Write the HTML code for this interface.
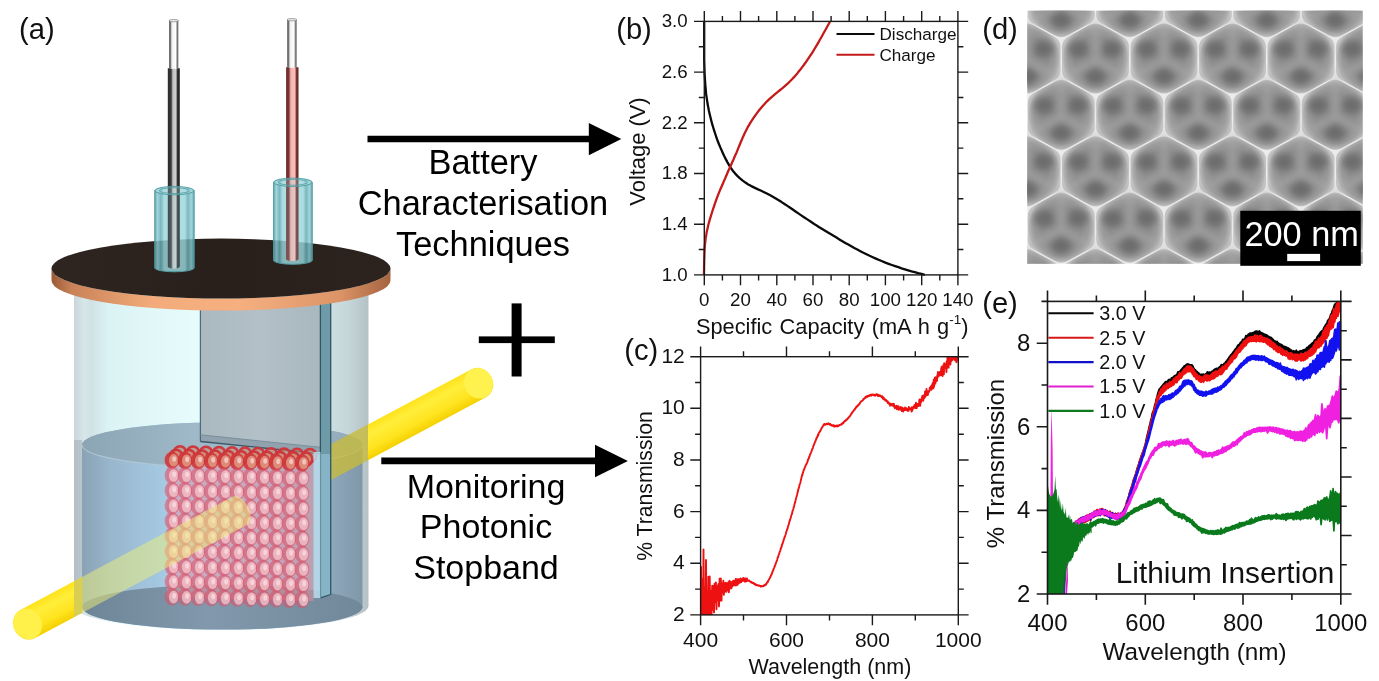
<!DOCTYPE html>
<html lang="en"><head><meta charset="utf-8"><title>Figure</title>
<style>
html,body{margin:0;padding:0;background:#fff;}
body{width:1379px;height:681px;overflow:hidden;}
svg{display:block;font-family:"Liberation Sans",sans-serif;}
</style></head><body>
<svg width="1379" height="681" viewBox="0 0 1379 681">
<defs>

<radialGradient id="gcell" cx="0.5" cy="0.5" r="0.5">
  <stop offset="0" stop-color="#8a8a8a"/>
  <stop offset="0.6" stop-color="#8e8e8e"/>
  <stop offset="0.82" stop-color="#9c9c9c"/>
  <stop offset="0.94" stop-color="#b2b2b2"/>
  <stop offset="1" stop-color="#c6c6c6"/>
</radialGradient>
<filter id="blur1" x="-5%" y="-5%" width="110%" height="110%"><feGaussianBlur stdDeviation="0.55"/></filter>
<filter id="blur3" x="-5%" y="-5%" width="110%" height="110%"><feGaussianBlur stdDeviation="2.5"/></filter>
<filter id="blur4" x="-5%" y="-5%" width="110%" height="110%"><feGaussianBlur stdDeviation="3.5"/></filter>


<linearGradient id="gglass" x1="74" x2="368.5" y1="0" y2="0" gradientUnits="userSpaceOnUse">
  <stop offset="0" stop-color="#c9d6da"/>
  <stop offset="0.035" stop-color="#d6e6e9"/>
  <stop offset="0.06" stop-color="#d0e2e6"/>
  <stop offset="0.12" stop-color="#dcf3f5"/>
  <stop offset="0.42" stop-color="#e6fcfc"/>
  <stop offset="0.80" stop-color="#d4e6e8"/>
  <stop offset="0.93" stop-color="#c6d6da"/>
  <stop offset="1" stop-color="#b4c2c6"/>
</linearGradient>
<linearGradient id="gliq" x1="82" x2="362.5" y1="0" y2="0" gradientUnits="userSpaceOnUse">
  <stop offset="0" stop-color="#8aa2b4"/>
  <stop offset="0.10" stop-color="#98b6cc"/>
  <stop offset="0.35" stop-color="#a9cfea"/>
  <stop offset="0.60" stop-color="#a4c6e0"/>
  <stop offset="0.88" stop-color="#8fa9bd"/>
  <stop offset="1" stop-color="#8097a8"/>
</linearGradient>
<linearGradient id="gliqtop" x1="82" x2="362.5" y1="0" y2="0" gradientUnits="userSpaceOnUse">
  <stop offset="0" stop-color="#8ca5b5"/>
  <stop offset="0.4" stop-color="#9fb9c9"/>
  <stop offset="1" stop-color="#93abba"/>
</linearGradient>
<linearGradient id="gliqbot" x1="82" x2="362.5" y1="0" y2="0" gradientUnits="userSpaceOnUse">
  <stop offset="0" stop-color="#6e8597"/>
  <stop offset="0.45" stop-color="#8299ad"/>
  <stop offset="1" stop-color="#71889a"/>
</linearGradient>
<linearGradient id="grim" x1="51.5" x2="390.5" y1="0" y2="0" gradientUnits="userSpaceOnUse">
  <stop offset="0" stop-color="#9a5a38"/>
  <stop offset="0.06" stop-color="#c98358"/>
  <stop offset="0.3" stop-color="#f3ab7b"/>
  <stop offset="0.55" stop-color="#f6b080"/>
  <stop offset="0.85" stop-color="#dc9467"/>
  <stop offset="1" stop-color="#a5633f"/>
</linearGradient>
<linearGradient id="glid" x1="60" x2="380" y1="250" y2="290" gradientUnits="userSpaceOnUse">
  <stop offset="0" stop-color="#2e2520"/>
  <stop offset="0.5" stop-color="#29201c"/>
  <stop offset="1" stop-color="#2c231e"/>
</linearGradient>
<linearGradient id="grodk" x1="0" x2="1" y1="0" y2="0">
  <stop offset="0" stop-color="#2a2a2a"/>
  <stop offset="0.28" stop-color="#3a3a3a"/>
  <stop offset="0.42" stop-color="#c4c4c4"/>
  <stop offset="0.68" stop-color="#cfcfcf"/>
  <stop offset="0.80" stop-color="#333"/>
  <stop offset="1" stop-color="#222"/>
</linearGradient>
<linearGradient id="grodr" x1="0" x2="1" y1="0" y2="0">
  <stop offset="0" stop-color="#6a2a2a"/>
  <stop offset="0.22" stop-color="#7a3434"/>
  <stop offset="0.38" stop-color="#f4b4b0"/>
  <stop offset="0.70" stop-color="#f8c0bc"/>
  <stop offset="0.84" stop-color="#7a3030"/>
  <stop offset="1" stop-color="#5e2424"/>
</linearGradient>
<linearGradient id="gtip" x1="0" x2="1" y1="0" y2="0">
  <stop offset="0" stop-color="#555"/>
  <stop offset="0.16" stop-color="#777"/>
  <stop offset="0.3" stop-color="#f0f0f0"/>
  <stop offset="0.72" stop-color="#ffffff"/>
  <stop offset="0.86" stop-color="#888"/>
  <stop offset="1" stop-color="#555"/>
</linearGradient>
<linearGradient id="gsleeve" x1="0" x2="1" y1="0" y2="0">
  <stop offset="0" stop-color="#4f9aa2"/>
  <stop offset="0.08" stop-color="#8ccdd4"/>
  <stop offset="0.16" stop-color="#5fa8b0"/>
  <stop offset="0.24" stop-color="#9ad6dc"/>
  <stop offset="0.76" stop-color="#9ad6dc"/>
  <stop offset="0.84" stop-color="#5fa8b0"/>
  <stop offset="0.92" stop-color="#8ccdd4"/>
  <stop offset="1" stop-color="#4f9aa2"/>
</linearGradient>
<linearGradient id="gbeam" x1="0" x2="0" y1="-16" y2="16" gradientUnits="userSpaceOnUse">
  <stop offset="0" stop-color="#ffe21a"/>
  <stop offset="0.3" stop-color="#ffee3a"/>
  <stop offset="0.7" stop-color="#ffe420"/>
  <stop offset="1" stop-color="#f4d000"/>
</linearGradient>
<linearGradient id="gplate" x1="200" x2="320" y1="0" y2="0" gradientUnits="userSpaceOnUse">
  <stop offset="0" stop-color="#aab8c0"/>
  <stop offset="0.5" stop-color="#b3c0c7"/>
  <stop offset="1" stop-color="#a9b7be"/>
</linearGradient>
<filter id="blurc" x="-5%" y="-5%" width="110%" height="110%"><feGaussianBlur stdDeviation="0.6"/></filter>

</defs>
<rect width="1379" height="681" fill="#fff"/>
<path d="M74 275 L74 606 A147.2 24 0 0 0 368.5 606 L368.5 275 Z" fill="url(#gglass)"/>
<g transform="translate(27.7 624) rotate(-28.1)">
</g>
<path d="M82 444.8 L82 607.2 A140.2 22.4 0 0 0 362.5 607.2 L362.5 444.8 A140.2 22.4 0 0 0 82 444.8 Z" fill="url(#gliq)"/>
<ellipse cx="222.2" cy="607.2" rx="140.2" ry="22.4" fill="url(#gliqbot)"/>
<ellipse cx="222.2" cy="444.8" rx="140.2" ry="22.4" fill="url(#gliqtop)"/>
<path d="M82 444.8 A140.2 22.4 0 0 0 362.5 444.8" fill="none" stroke="#b4cbd8" stroke-width="1.2" opacity="0.8"/>
<rect x="74" y="440" width="8" height="172" fill="#8f9ca6" opacity="0.38"/>
<clipPath id="clipgr"><rect x="330" y="300" width="38.5" height="300"/></clipPath>
<g clip-path="url(#clipgr)"><g transform="translate(27.7 624) rotate(-28.1)"><rect x="0" y="-15.8" width="511" height="31.6" fill="#c9bb3a" opacity="0.78"/></g></g>
<polygon points="200.4,300 320.4,300 320.4,447.3 200.4,434.8" fill="url(#gplate)"/>
<polygon points="200.4,434.8 320.4,447.3 320.4,453.8 200.4,441.5" fill="#8fa2ad"/>
<path d="M200.4 300 V441.5" stroke="#4d6a78" stroke-width="1.2" fill="none"/>
<path d="M200.4 434.8 L320.4 447.3" stroke="#7b909c" stroke-width="1" fill="none"/>
<path d="M200.4 441.5 L320.4 453.8" stroke="#3c5865" stroke-width="1.3" fill="none"/>
<polygon points="320.4,300 330.7,298 330.7,594.5 320.4,597.8" fill="#6f9ba8"/>
<polygon points="320.4,454 330.7,454 330.7,594.5 320.4,597.8" fill="#86b4c6"/>
<path d="M320.4 300 V597.8 M330.7 298 V594.5 M320.4 597.8 L330.7 594.5" stroke="#2f5866" stroke-width="1.3" fill="none"/>
<g filter="url(#blurc)">
<path d="M167 452 L313.5 456 L313.5 601 L167 597 Z" fill="#e8909e" opacity="0.5"/>
<ellipse cx="180" cy="452.8" rx="6.3" ry="6.6" fill="#d7896c" fill-opacity="0.55" stroke="#d03438" stroke-opacity="0.95" stroke-width="2.5"/>
<ellipse cx="193" cy="453.1" rx="6.3" ry="6.6" fill="#d7896c" fill-opacity="0.55" stroke="#d03438" stroke-opacity="0.95" stroke-width="2.5"/>
<ellipse cx="206" cy="453.4" rx="6.3" ry="6.6" fill="#d7896c" fill-opacity="0.55" stroke="#d03438" stroke-opacity="0.95" stroke-width="2.5"/>
<ellipse cx="219" cy="453.6" rx="6.3" ry="6.6" fill="#d7896c" fill-opacity="0.55" stroke="#d03438" stroke-opacity="0.95" stroke-width="2.5"/>
<ellipse cx="232" cy="453.9" rx="6.3" ry="6.6" fill="#d7896c" fill-opacity="0.55" stroke="#d03438" stroke-opacity="0.95" stroke-width="2.5"/>
<ellipse cx="245" cy="454.2" rx="6.3" ry="6.6" fill="#d7896c" fill-opacity="0.55" stroke="#d03438" stroke-opacity="0.95" stroke-width="2.5"/>
<ellipse cx="258" cy="454.5" rx="6.3" ry="6.6" fill="#d7896c" fill-opacity="0.55" stroke="#d03438" stroke-opacity="0.95" stroke-width="2.5"/>
<ellipse cx="271" cy="454.8" rx="6.3" ry="6.6" fill="#d7896c" fill-opacity="0.55" stroke="#d03438" stroke-opacity="0.95" stroke-width="2.5"/>
<ellipse cx="284" cy="455" rx="6.3" ry="6.6" fill="#d7896c" fill-opacity="0.55" stroke="#d03438" stroke-opacity="0.95" stroke-width="2.5"/>
<ellipse cx="297" cy="455.3" rx="6.3" ry="6.6" fill="#d7896c" fill-opacity="0.55" stroke="#d03438" stroke-opacity="0.95" stroke-width="2.5"/>
<ellipse cx="310" cy="455.6" rx="6.3" ry="6.6" fill="#d7896c" fill-opacity="0.55" stroke="#d03438" stroke-opacity="0.95" stroke-width="2.5"/>
<ellipse cx="176" cy="456.4" rx="6.3" ry="6.6" fill="#d7896c" fill-opacity="0.55" stroke="#d03438" stroke-opacity="0.95" stroke-width="2.5"/>
<ellipse cx="189" cy="456.7" rx="6.3" ry="6.6" fill="#d7896c" fill-opacity="0.55" stroke="#d03438" stroke-opacity="0.95" stroke-width="2.5"/>
<ellipse cx="202" cy="457" rx="6.3" ry="6.6" fill="#d7896c" fill-opacity="0.55" stroke="#d03438" stroke-opacity="0.95" stroke-width="2.5"/>
<ellipse cx="215" cy="457.2" rx="6.3" ry="6.6" fill="#d7896c" fill-opacity="0.55" stroke="#d03438" stroke-opacity="0.95" stroke-width="2.5"/>
<ellipse cx="228" cy="457.5" rx="6.3" ry="6.6" fill="#d7896c" fill-opacity="0.55" stroke="#d03438" stroke-opacity="0.95" stroke-width="2.5"/>
<ellipse cx="241" cy="457.8" rx="6.3" ry="6.6" fill="#d7896c" fill-opacity="0.55" stroke="#d03438" stroke-opacity="0.95" stroke-width="2.5"/>
<ellipse cx="254" cy="458.1" rx="6.3" ry="6.6" fill="#d7896c" fill-opacity="0.55" stroke="#d03438" stroke-opacity="0.95" stroke-width="2.5"/>
<ellipse cx="267" cy="458.4" rx="6.3" ry="6.6" fill="#d7896c" fill-opacity="0.55" stroke="#d03438" stroke-opacity="0.95" stroke-width="2.5"/>
<ellipse cx="280" cy="458.6" rx="6.3" ry="6.6" fill="#d7896c" fill-opacity="0.55" stroke="#d03438" stroke-opacity="0.95" stroke-width="2.5"/>
<ellipse cx="293" cy="458.9" rx="6.3" ry="6.6" fill="#d7896c" fill-opacity="0.55" stroke="#d03438" stroke-opacity="0.95" stroke-width="2.5"/>
<ellipse cx="306" cy="459.2" rx="6.3" ry="6.6" fill="#d7896c" fill-opacity="0.55" stroke="#d03438" stroke-opacity="0.95" stroke-width="2.5"/>
<ellipse cx="172" cy="460" rx="7.4" ry="8.6" fill="#cf383c" fill-opacity="0.9"/>
<ellipse cx="173.6" cy="460.3" rx="4.6" ry="6.2" fill="#e09a84" fill-opacity="0.85"/>
<ellipse cx="174.2" cy="459" rx="2.0" ry="2.8" fill="#fdeaec" opacity="0.6"/>
<ellipse cx="185" cy="460.3" rx="7.4" ry="8.6" fill="#cf383c" fill-opacity="0.9"/>
<ellipse cx="186.6" cy="460.6" rx="4.6" ry="6.2" fill="#e09a84" fill-opacity="0.85"/>
<ellipse cx="187.2" cy="459.3" rx="2.0" ry="2.8" fill="#fdeaec" opacity="0.6"/>
<ellipse cx="198" cy="460.6" rx="7.4" ry="8.6" fill="#cf383c" fill-opacity="0.9"/>
<ellipse cx="199.6" cy="460.9" rx="4.6" ry="6.2" fill="#e09a84" fill-opacity="0.85"/>
<ellipse cx="200.2" cy="459.6" rx="2.0" ry="2.8" fill="#fdeaec" opacity="0.6"/>
<ellipse cx="211" cy="460.8" rx="7.4" ry="8.6" fill="#cf383c" fill-opacity="0.9"/>
<ellipse cx="212.6" cy="461.1" rx="4.6" ry="6.2" fill="#e09a84" fill-opacity="0.85"/>
<ellipse cx="213.2" cy="459.8" rx="2.0" ry="2.8" fill="#fdeaec" opacity="0.6"/>
<ellipse cx="224" cy="461.1" rx="7.4" ry="8.6" fill="#cf383c" fill-opacity="0.9"/>
<ellipse cx="225.6" cy="461.4" rx="4.6" ry="6.2" fill="#e09a84" fill-opacity="0.85"/>
<ellipse cx="226.2" cy="460.1" rx="2.0" ry="2.8" fill="#fdeaec" opacity="0.6"/>
<ellipse cx="237" cy="461.4" rx="7.4" ry="8.6" fill="#cf383c" fill-opacity="0.9"/>
<ellipse cx="238.6" cy="461.7" rx="4.6" ry="6.2" fill="#e09a84" fill-opacity="0.85"/>
<ellipse cx="239.2" cy="460.4" rx="2.0" ry="2.8" fill="#fdeaec" opacity="0.6"/>
<ellipse cx="250" cy="461.7" rx="7.4" ry="8.6" fill="#cf383c" fill-opacity="0.9"/>
<ellipse cx="251.6" cy="462" rx="4.6" ry="6.2" fill="#e09a84" fill-opacity="0.85"/>
<ellipse cx="252.2" cy="460.7" rx="2.0" ry="2.8" fill="#fdeaec" opacity="0.6"/>
<ellipse cx="263" cy="462" rx="7.4" ry="8.6" fill="#cf383c" fill-opacity="0.9"/>
<ellipse cx="264.6" cy="462.3" rx="4.6" ry="6.2" fill="#e09a84" fill-opacity="0.85"/>
<ellipse cx="265.2" cy="461" rx="2.0" ry="2.8" fill="#fdeaec" opacity="0.6"/>
<ellipse cx="276" cy="462.2" rx="7.4" ry="8.6" fill="#cf383c" fill-opacity="0.9"/>
<ellipse cx="277.6" cy="462.5" rx="4.6" ry="6.2" fill="#e09a84" fill-opacity="0.85"/>
<ellipse cx="278.2" cy="461.2" rx="2.0" ry="2.8" fill="#fdeaec" opacity="0.6"/>
<ellipse cx="289" cy="462.5" rx="7.4" ry="8.6" fill="#cf383c" fill-opacity="0.9"/>
<ellipse cx="290.6" cy="462.8" rx="4.6" ry="6.2" fill="#e09a84" fill-opacity="0.85"/>
<ellipse cx="291.2" cy="461.5" rx="2.0" ry="2.8" fill="#fdeaec" opacity="0.6"/>
<ellipse cx="302" cy="462.8" rx="7.4" ry="8.6" fill="#cf383c" fill-opacity="0.9"/>
<ellipse cx="303.6" cy="463.1" rx="4.6" ry="6.2" fill="#e09a84" fill-opacity="0.85"/>
<ellipse cx="304.2" cy="461.8" rx="2.0" ry="2.8" fill="#fdeaec" opacity="0.6"/>
<ellipse cx="172" cy="475.2" rx="7.4" ry="8.6" fill="#dc5068" fill-opacity="0.55"/>
<ellipse cx="173.6" cy="475.5" rx="4.7" ry="6.3" fill="#f6ccd2" fill-opacity="0.72"/>
<ellipse cx="174.2" cy="474.2" rx="2.0" ry="2.8" fill="#fdeaec" opacity="0.6"/>
<ellipse cx="185" cy="475.5" rx="7.4" ry="8.6" fill="#dc5068" fill-opacity="0.55"/>
<ellipse cx="186.6" cy="475.8" rx="4.7" ry="6.3" fill="#f6ccd2" fill-opacity="0.72"/>
<ellipse cx="187.2" cy="474.5" rx="2.0" ry="2.8" fill="#fdeaec" opacity="0.6"/>
<ellipse cx="198" cy="475.8" rx="7.4" ry="8.6" fill="#dc5068" fill-opacity="0.55"/>
<ellipse cx="199.6" cy="476.1" rx="4.7" ry="6.3" fill="#f6ccd2" fill-opacity="0.72"/>
<ellipse cx="200.2" cy="474.8" rx="2.0" ry="2.8" fill="#fdeaec" opacity="0.6"/>
<ellipse cx="211" cy="476" rx="7.4" ry="8.6" fill="#dc5068" fill-opacity="0.55"/>
<ellipse cx="212.6" cy="476.3" rx="4.7" ry="6.3" fill="#f6ccd2" fill-opacity="0.72"/>
<ellipse cx="213.2" cy="475" rx="2.0" ry="2.8" fill="#fdeaec" opacity="0.6"/>
<ellipse cx="224" cy="476.3" rx="7.4" ry="8.6" fill="#dc5068" fill-opacity="0.55"/>
<ellipse cx="225.6" cy="476.6" rx="4.7" ry="6.3" fill="#f6ccd2" fill-opacity="0.72"/>
<ellipse cx="226.2" cy="475.3" rx="2.0" ry="2.8" fill="#fdeaec" opacity="0.6"/>
<ellipse cx="237" cy="476.6" rx="7.4" ry="8.6" fill="#dc5068" fill-opacity="0.55"/>
<ellipse cx="238.6" cy="476.9" rx="4.7" ry="6.3" fill="#f6ccd2" fill-opacity="0.72"/>
<ellipse cx="239.2" cy="475.6" rx="2.0" ry="2.8" fill="#fdeaec" opacity="0.6"/>
<ellipse cx="250" cy="476.9" rx="7.4" ry="8.6" fill="#dc5068" fill-opacity="0.55"/>
<ellipse cx="251.6" cy="477.2" rx="4.7" ry="6.3" fill="#f6ccd2" fill-opacity="0.72"/>
<ellipse cx="252.2" cy="475.9" rx="2.0" ry="2.8" fill="#fdeaec" opacity="0.6"/>
<ellipse cx="263" cy="477.2" rx="7.4" ry="8.6" fill="#dc5068" fill-opacity="0.55"/>
<ellipse cx="264.6" cy="477.5" rx="4.7" ry="6.3" fill="#f6ccd2" fill-opacity="0.72"/>
<ellipse cx="265.2" cy="476.2" rx="2.0" ry="2.8" fill="#fdeaec" opacity="0.6"/>
<ellipse cx="276" cy="477.4" rx="7.4" ry="8.6" fill="#dc5068" fill-opacity="0.55"/>
<ellipse cx="277.6" cy="477.7" rx="4.7" ry="6.3" fill="#f6ccd2" fill-opacity="0.72"/>
<ellipse cx="278.2" cy="476.4" rx="2.0" ry="2.8" fill="#fdeaec" opacity="0.6"/>
<ellipse cx="289" cy="477.7" rx="7.4" ry="8.6" fill="#dc5068" fill-opacity="0.55"/>
<ellipse cx="290.6" cy="478" rx="4.7" ry="6.3" fill="#f6ccd2" fill-opacity="0.72"/>
<ellipse cx="291.2" cy="476.7" rx="2.0" ry="2.8" fill="#fdeaec" opacity="0.6"/>
<ellipse cx="302" cy="478" rx="7.4" ry="8.6" fill="#dc5068" fill-opacity="0.55"/>
<ellipse cx="303.6" cy="478.3" rx="4.7" ry="6.3" fill="#f6ccd2" fill-opacity="0.72"/>
<ellipse cx="304.2" cy="477" rx="2.0" ry="2.8" fill="#fdeaec" opacity="0.6"/>
<ellipse cx="172" cy="490.4" rx="7.4" ry="8.6" fill="#dc5068" fill-opacity="0.55"/>
<ellipse cx="173.6" cy="490.7" rx="4.7" ry="6.3" fill="#f6ccd2" fill-opacity="0.72"/>
<ellipse cx="174.2" cy="489.4" rx="2.0" ry="2.8" fill="#fdeaec" opacity="0.6"/>
<ellipse cx="185" cy="490.7" rx="7.4" ry="8.6" fill="#dc5068" fill-opacity="0.55"/>
<ellipse cx="186.6" cy="491" rx="4.7" ry="6.3" fill="#f6ccd2" fill-opacity="0.72"/>
<ellipse cx="187.2" cy="489.7" rx="2.0" ry="2.8" fill="#fdeaec" opacity="0.6"/>
<ellipse cx="198" cy="491" rx="7.4" ry="8.6" fill="#dc5068" fill-opacity="0.55"/>
<ellipse cx="199.6" cy="491.3" rx="4.7" ry="6.3" fill="#f6ccd2" fill-opacity="0.72"/>
<ellipse cx="200.2" cy="490" rx="2.0" ry="2.8" fill="#fdeaec" opacity="0.6"/>
<ellipse cx="211" cy="491.2" rx="7.4" ry="8.6" fill="#dc5068" fill-opacity="0.55"/>
<ellipse cx="212.6" cy="491.5" rx="4.7" ry="6.3" fill="#f6ccd2" fill-opacity="0.72"/>
<ellipse cx="213.2" cy="490.2" rx="2.0" ry="2.8" fill="#fdeaec" opacity="0.6"/>
<ellipse cx="224" cy="491.5" rx="7.4" ry="8.6" fill="#dc5068" fill-opacity="0.55"/>
<ellipse cx="225.6" cy="491.8" rx="4.7" ry="6.3" fill="#f6ccd2" fill-opacity="0.72"/>
<ellipse cx="226.2" cy="490.5" rx="2.0" ry="2.8" fill="#fdeaec" opacity="0.6"/>
<ellipse cx="237" cy="491.8" rx="7.4" ry="8.6" fill="#dc5068" fill-opacity="0.55"/>
<ellipse cx="238.6" cy="492.1" rx="4.7" ry="6.3" fill="#f6ccd2" fill-opacity="0.72"/>
<ellipse cx="239.2" cy="490.8" rx="2.0" ry="2.8" fill="#fdeaec" opacity="0.6"/>
<ellipse cx="250" cy="492.1" rx="7.4" ry="8.6" fill="#dc5068" fill-opacity="0.55"/>
<ellipse cx="251.6" cy="492.4" rx="4.7" ry="6.3" fill="#f6ccd2" fill-opacity="0.72"/>
<ellipse cx="252.2" cy="491.1" rx="2.0" ry="2.8" fill="#fdeaec" opacity="0.6"/>
<ellipse cx="263" cy="492.4" rx="7.4" ry="8.6" fill="#dc5068" fill-opacity="0.55"/>
<ellipse cx="264.6" cy="492.7" rx="4.7" ry="6.3" fill="#f6ccd2" fill-opacity="0.72"/>
<ellipse cx="265.2" cy="491.4" rx="2.0" ry="2.8" fill="#fdeaec" opacity="0.6"/>
<ellipse cx="276" cy="492.6" rx="7.4" ry="8.6" fill="#dc5068" fill-opacity="0.55"/>
<ellipse cx="277.6" cy="492.9" rx="4.7" ry="6.3" fill="#f6ccd2" fill-opacity="0.72"/>
<ellipse cx="278.2" cy="491.6" rx="2.0" ry="2.8" fill="#fdeaec" opacity="0.6"/>
<ellipse cx="289" cy="492.9" rx="7.4" ry="8.6" fill="#dc5068" fill-opacity="0.55"/>
<ellipse cx="290.6" cy="493.2" rx="4.7" ry="6.3" fill="#f6ccd2" fill-opacity="0.72"/>
<ellipse cx="291.2" cy="491.9" rx="2.0" ry="2.8" fill="#fdeaec" opacity="0.6"/>
<ellipse cx="302" cy="493.2" rx="7.4" ry="8.6" fill="#dc5068" fill-opacity="0.55"/>
<ellipse cx="303.6" cy="493.5" rx="4.7" ry="6.3" fill="#f6ccd2" fill-opacity="0.72"/>
<ellipse cx="304.2" cy="492.2" rx="2.0" ry="2.8" fill="#fdeaec" opacity="0.6"/>
<ellipse cx="172" cy="505.6" rx="7.4" ry="8.6" fill="#dc5068" fill-opacity="0.55"/>
<ellipse cx="173.6" cy="505.9" rx="4.7" ry="6.3" fill="#f6ccd2" fill-opacity="0.72"/>
<ellipse cx="174.2" cy="504.6" rx="2.0" ry="2.8" fill="#fdeaec" opacity="0.6"/>
<ellipse cx="185" cy="505.9" rx="7.4" ry="8.6" fill="#dc5068" fill-opacity="0.55"/>
<ellipse cx="186.6" cy="506.2" rx="4.7" ry="6.3" fill="#f6ccd2" fill-opacity="0.72"/>
<ellipse cx="187.2" cy="504.9" rx="2.0" ry="2.8" fill="#fdeaec" opacity="0.6"/>
<ellipse cx="198" cy="506.2" rx="7.4" ry="8.6" fill="#dc5068" fill-opacity="0.55"/>
<ellipse cx="199.6" cy="506.5" rx="4.7" ry="6.3" fill="#f6ccd2" fill-opacity="0.72"/>
<ellipse cx="200.2" cy="505.2" rx="2.0" ry="2.8" fill="#fdeaec" opacity="0.6"/>
<ellipse cx="211" cy="506.4" rx="7.4" ry="8.6" fill="#dc5068" fill-opacity="0.55"/>
<ellipse cx="212.6" cy="506.7" rx="4.7" ry="6.3" fill="#f6ccd2" fill-opacity="0.72"/>
<ellipse cx="213.2" cy="505.4" rx="2.0" ry="2.8" fill="#fdeaec" opacity="0.6"/>
<ellipse cx="224" cy="506.7" rx="7.4" ry="8.6" fill="#dc5068" fill-opacity="0.55"/>
<ellipse cx="225.6" cy="507" rx="4.7" ry="6.3" fill="#f6ccd2" fill-opacity="0.72"/>
<ellipse cx="226.2" cy="505.7" rx="2.0" ry="2.8" fill="#fdeaec" opacity="0.6"/>
<ellipse cx="237" cy="507" rx="7.4" ry="8.6" fill="#dc5068" fill-opacity="0.55"/>
<ellipse cx="238.6" cy="507.3" rx="4.7" ry="6.3" fill="#f6ccd2" fill-opacity="0.72"/>
<ellipse cx="239.2" cy="506" rx="2.0" ry="2.8" fill="#fdeaec" opacity="0.6"/>
<ellipse cx="250" cy="507.3" rx="7.4" ry="8.6" fill="#dc5068" fill-opacity="0.55"/>
<ellipse cx="251.6" cy="507.6" rx="4.7" ry="6.3" fill="#f6ccd2" fill-opacity="0.72"/>
<ellipse cx="252.2" cy="506.3" rx="2.0" ry="2.8" fill="#fdeaec" opacity="0.6"/>
<ellipse cx="263" cy="507.6" rx="7.4" ry="8.6" fill="#dc5068" fill-opacity="0.55"/>
<ellipse cx="264.6" cy="507.9" rx="4.7" ry="6.3" fill="#f6ccd2" fill-opacity="0.72"/>
<ellipse cx="265.2" cy="506.6" rx="2.0" ry="2.8" fill="#fdeaec" opacity="0.6"/>
<ellipse cx="276" cy="507.8" rx="7.4" ry="8.6" fill="#dc5068" fill-opacity="0.55"/>
<ellipse cx="277.6" cy="508.1" rx="4.7" ry="6.3" fill="#f6ccd2" fill-opacity="0.72"/>
<ellipse cx="278.2" cy="506.8" rx="2.0" ry="2.8" fill="#fdeaec" opacity="0.6"/>
<ellipse cx="289" cy="508.1" rx="7.4" ry="8.6" fill="#dc5068" fill-opacity="0.55"/>
<ellipse cx="290.6" cy="508.4" rx="4.7" ry="6.3" fill="#f6ccd2" fill-opacity="0.72"/>
<ellipse cx="291.2" cy="507.1" rx="2.0" ry="2.8" fill="#fdeaec" opacity="0.6"/>
<ellipse cx="302" cy="508.4" rx="7.4" ry="8.6" fill="#dc5068" fill-opacity="0.55"/>
<ellipse cx="303.6" cy="508.7" rx="4.7" ry="6.3" fill="#f6ccd2" fill-opacity="0.72"/>
<ellipse cx="304.2" cy="507.4" rx="2.0" ry="2.8" fill="#fdeaec" opacity="0.6"/>
<ellipse cx="172" cy="520.8" rx="7.4" ry="8.6" fill="#dc5068" fill-opacity="0.55"/>
<ellipse cx="173.6" cy="521.1" rx="4.7" ry="6.3" fill="#f6ccd2" fill-opacity="0.72"/>
<ellipse cx="174.2" cy="519.8" rx="2.0" ry="2.8" fill="#fdeaec" opacity="0.6"/>
<ellipse cx="185" cy="521.1" rx="7.4" ry="8.6" fill="#dc5068" fill-opacity="0.55"/>
<ellipse cx="186.6" cy="521.4" rx="4.7" ry="6.3" fill="#f6ccd2" fill-opacity="0.72"/>
<ellipse cx="187.2" cy="520.1" rx="2.0" ry="2.8" fill="#fdeaec" opacity="0.6"/>
<ellipse cx="198" cy="521.4" rx="7.4" ry="8.6" fill="#dc5068" fill-opacity="0.55"/>
<ellipse cx="199.6" cy="521.7" rx="4.7" ry="6.3" fill="#f6ccd2" fill-opacity="0.72"/>
<ellipse cx="200.2" cy="520.4" rx="2.0" ry="2.8" fill="#fdeaec" opacity="0.6"/>
<ellipse cx="211" cy="521.6" rx="7.4" ry="8.6" fill="#dc5068" fill-opacity="0.55"/>
<ellipse cx="212.6" cy="521.9" rx="4.7" ry="6.3" fill="#f6ccd2" fill-opacity="0.72"/>
<ellipse cx="213.2" cy="520.6" rx="2.0" ry="2.8" fill="#fdeaec" opacity="0.6"/>
<ellipse cx="224" cy="521.9" rx="7.4" ry="8.6" fill="#dc5068" fill-opacity="0.55"/>
<ellipse cx="225.6" cy="522.2" rx="4.7" ry="6.3" fill="#f6ccd2" fill-opacity="0.72"/>
<ellipse cx="226.2" cy="520.9" rx="2.0" ry="2.8" fill="#fdeaec" opacity="0.6"/>
<ellipse cx="237" cy="522.2" rx="7.4" ry="8.6" fill="#dc5068" fill-opacity="0.55"/>
<ellipse cx="238.6" cy="522.5" rx="4.7" ry="6.3" fill="#f6ccd2" fill-opacity="0.72"/>
<ellipse cx="239.2" cy="521.2" rx="2.0" ry="2.8" fill="#fdeaec" opacity="0.6"/>
<ellipse cx="250" cy="522.5" rx="7.4" ry="8.6" fill="#dc5068" fill-opacity="0.55"/>
<ellipse cx="251.6" cy="522.8" rx="4.7" ry="6.3" fill="#f6ccd2" fill-opacity="0.72"/>
<ellipse cx="252.2" cy="521.5" rx="2.0" ry="2.8" fill="#fdeaec" opacity="0.6"/>
<ellipse cx="263" cy="522.8" rx="7.4" ry="8.6" fill="#dc5068" fill-opacity="0.55"/>
<ellipse cx="264.6" cy="523.1" rx="4.7" ry="6.3" fill="#f6ccd2" fill-opacity="0.72"/>
<ellipse cx="265.2" cy="521.8" rx="2.0" ry="2.8" fill="#fdeaec" opacity="0.6"/>
<ellipse cx="276" cy="523" rx="7.4" ry="8.6" fill="#dc5068" fill-opacity="0.55"/>
<ellipse cx="277.6" cy="523.3" rx="4.7" ry="6.3" fill="#f6ccd2" fill-opacity="0.72"/>
<ellipse cx="278.2" cy="522" rx="2.0" ry="2.8" fill="#fdeaec" opacity="0.6"/>
<ellipse cx="289" cy="523.3" rx="7.4" ry="8.6" fill="#dc5068" fill-opacity="0.55"/>
<ellipse cx="290.6" cy="523.6" rx="4.7" ry="6.3" fill="#f6ccd2" fill-opacity="0.72"/>
<ellipse cx="291.2" cy="522.3" rx="2.0" ry="2.8" fill="#fdeaec" opacity="0.6"/>
<ellipse cx="302" cy="523.6" rx="7.4" ry="8.6" fill="#dc5068" fill-opacity="0.55"/>
<ellipse cx="303.6" cy="523.9" rx="4.7" ry="6.3" fill="#f6ccd2" fill-opacity="0.72"/>
<ellipse cx="304.2" cy="522.6" rx="2.0" ry="2.8" fill="#fdeaec" opacity="0.6"/>
<ellipse cx="172" cy="536" rx="7.4" ry="8.6" fill="#dc5068" fill-opacity="0.55"/>
<ellipse cx="173.6" cy="536.3" rx="4.7" ry="6.3" fill="#f6ccd2" fill-opacity="0.72"/>
<ellipse cx="174.2" cy="535" rx="2.0" ry="2.8" fill="#fdeaec" opacity="0.6"/>
<ellipse cx="185" cy="536.3" rx="7.4" ry="8.6" fill="#dc5068" fill-opacity="0.55"/>
<ellipse cx="186.6" cy="536.6" rx="4.7" ry="6.3" fill="#f6ccd2" fill-opacity="0.72"/>
<ellipse cx="187.2" cy="535.3" rx="2.0" ry="2.8" fill="#fdeaec" opacity="0.6"/>
<ellipse cx="198" cy="536.6" rx="7.4" ry="8.6" fill="#dc5068" fill-opacity="0.55"/>
<ellipse cx="199.6" cy="536.9" rx="4.7" ry="6.3" fill="#f6ccd2" fill-opacity="0.72"/>
<ellipse cx="200.2" cy="535.6" rx="2.0" ry="2.8" fill="#fdeaec" opacity="0.6"/>
<ellipse cx="211" cy="536.8" rx="7.4" ry="8.6" fill="#dc5068" fill-opacity="0.55"/>
<ellipse cx="212.6" cy="537.1" rx="4.7" ry="6.3" fill="#f6ccd2" fill-opacity="0.72"/>
<ellipse cx="213.2" cy="535.8" rx="2.0" ry="2.8" fill="#fdeaec" opacity="0.6"/>
<ellipse cx="224" cy="537.1" rx="7.4" ry="8.6" fill="#dc5068" fill-opacity="0.55"/>
<ellipse cx="225.6" cy="537.4" rx="4.7" ry="6.3" fill="#f6ccd2" fill-opacity="0.72"/>
<ellipse cx="226.2" cy="536.1" rx="2.0" ry="2.8" fill="#fdeaec" opacity="0.6"/>
<ellipse cx="237" cy="537.4" rx="7.4" ry="8.6" fill="#dc5068" fill-opacity="0.55"/>
<ellipse cx="238.6" cy="537.7" rx="4.7" ry="6.3" fill="#f6ccd2" fill-opacity="0.72"/>
<ellipse cx="239.2" cy="536.4" rx="2.0" ry="2.8" fill="#fdeaec" opacity="0.6"/>
<ellipse cx="250" cy="537.7" rx="7.4" ry="8.6" fill="#dc5068" fill-opacity="0.55"/>
<ellipse cx="251.6" cy="538" rx="4.7" ry="6.3" fill="#f6ccd2" fill-opacity="0.72"/>
<ellipse cx="252.2" cy="536.7" rx="2.0" ry="2.8" fill="#fdeaec" opacity="0.6"/>
<ellipse cx="263" cy="538" rx="7.4" ry="8.6" fill="#dc5068" fill-opacity="0.55"/>
<ellipse cx="264.6" cy="538.3" rx="4.7" ry="6.3" fill="#f6ccd2" fill-opacity="0.72"/>
<ellipse cx="265.2" cy="537" rx="2.0" ry="2.8" fill="#fdeaec" opacity="0.6"/>
<ellipse cx="276" cy="538.2" rx="7.4" ry="8.6" fill="#dc5068" fill-opacity="0.55"/>
<ellipse cx="277.6" cy="538.5" rx="4.7" ry="6.3" fill="#f6ccd2" fill-opacity="0.72"/>
<ellipse cx="278.2" cy="537.2" rx="2.0" ry="2.8" fill="#fdeaec" opacity="0.6"/>
<ellipse cx="289" cy="538.5" rx="7.4" ry="8.6" fill="#dc5068" fill-opacity="0.55"/>
<ellipse cx="290.6" cy="538.8" rx="4.7" ry="6.3" fill="#f6ccd2" fill-opacity="0.72"/>
<ellipse cx="291.2" cy="537.5" rx="2.0" ry="2.8" fill="#fdeaec" opacity="0.6"/>
<ellipse cx="302" cy="538.8" rx="7.4" ry="8.6" fill="#dc5068" fill-opacity="0.55"/>
<ellipse cx="303.6" cy="539.1" rx="4.7" ry="6.3" fill="#f6ccd2" fill-opacity="0.72"/>
<ellipse cx="304.2" cy="537.8" rx="2.0" ry="2.8" fill="#fdeaec" opacity="0.6"/>
<ellipse cx="172" cy="551.2" rx="7.4" ry="8.6" fill="#dc5068" fill-opacity="0.55"/>
<ellipse cx="173.6" cy="551.5" rx="4.7" ry="6.3" fill="#f6ccd2" fill-opacity="0.72"/>
<ellipse cx="174.2" cy="550.2" rx="2.0" ry="2.8" fill="#fdeaec" opacity="0.6"/>
<ellipse cx="185" cy="551.5" rx="7.4" ry="8.6" fill="#dc5068" fill-opacity="0.55"/>
<ellipse cx="186.6" cy="551.8" rx="4.7" ry="6.3" fill="#f6ccd2" fill-opacity="0.72"/>
<ellipse cx="187.2" cy="550.5" rx="2.0" ry="2.8" fill="#fdeaec" opacity="0.6"/>
<ellipse cx="198" cy="551.8" rx="7.4" ry="8.6" fill="#dc5068" fill-opacity="0.55"/>
<ellipse cx="199.6" cy="552.1" rx="4.7" ry="6.3" fill="#f6ccd2" fill-opacity="0.72"/>
<ellipse cx="200.2" cy="550.8" rx="2.0" ry="2.8" fill="#fdeaec" opacity="0.6"/>
<ellipse cx="211" cy="552" rx="7.4" ry="8.6" fill="#dc5068" fill-opacity="0.55"/>
<ellipse cx="212.6" cy="552.3" rx="4.7" ry="6.3" fill="#f6ccd2" fill-opacity="0.72"/>
<ellipse cx="213.2" cy="551" rx="2.0" ry="2.8" fill="#fdeaec" opacity="0.6"/>
<ellipse cx="224" cy="552.3" rx="7.4" ry="8.6" fill="#dc5068" fill-opacity="0.55"/>
<ellipse cx="225.6" cy="552.6" rx="4.7" ry="6.3" fill="#f6ccd2" fill-opacity="0.72"/>
<ellipse cx="226.2" cy="551.3" rx="2.0" ry="2.8" fill="#fdeaec" opacity="0.6"/>
<ellipse cx="237" cy="552.6" rx="7.4" ry="8.6" fill="#dc5068" fill-opacity="0.55"/>
<ellipse cx="238.6" cy="552.9" rx="4.7" ry="6.3" fill="#f6ccd2" fill-opacity="0.72"/>
<ellipse cx="239.2" cy="551.6" rx="2.0" ry="2.8" fill="#fdeaec" opacity="0.6"/>
<ellipse cx="250" cy="552.9" rx="7.4" ry="8.6" fill="#dc5068" fill-opacity="0.55"/>
<ellipse cx="251.6" cy="553.2" rx="4.7" ry="6.3" fill="#f6ccd2" fill-opacity="0.72"/>
<ellipse cx="252.2" cy="551.9" rx="2.0" ry="2.8" fill="#fdeaec" opacity="0.6"/>
<ellipse cx="263" cy="553.2" rx="7.4" ry="8.6" fill="#dc5068" fill-opacity="0.55"/>
<ellipse cx="264.6" cy="553.5" rx="4.7" ry="6.3" fill="#f6ccd2" fill-opacity="0.72"/>
<ellipse cx="265.2" cy="552.2" rx="2.0" ry="2.8" fill="#fdeaec" opacity="0.6"/>
<ellipse cx="276" cy="553.4" rx="7.4" ry="8.6" fill="#dc5068" fill-opacity="0.55"/>
<ellipse cx="277.6" cy="553.7" rx="4.7" ry="6.3" fill="#f6ccd2" fill-opacity="0.72"/>
<ellipse cx="278.2" cy="552.4" rx="2.0" ry="2.8" fill="#fdeaec" opacity="0.6"/>
<ellipse cx="289" cy="553.7" rx="7.4" ry="8.6" fill="#dc5068" fill-opacity="0.55"/>
<ellipse cx="290.6" cy="554" rx="4.7" ry="6.3" fill="#f6ccd2" fill-opacity="0.72"/>
<ellipse cx="291.2" cy="552.7" rx="2.0" ry="2.8" fill="#fdeaec" opacity="0.6"/>
<ellipse cx="302" cy="554" rx="7.4" ry="8.6" fill="#dc5068" fill-opacity="0.55"/>
<ellipse cx="303.6" cy="554.3" rx="4.7" ry="6.3" fill="#f6ccd2" fill-opacity="0.72"/>
<ellipse cx="304.2" cy="553" rx="2.0" ry="2.8" fill="#fdeaec" opacity="0.6"/>
<ellipse cx="172" cy="566.4" rx="7.4" ry="8.6" fill="#dc5068" fill-opacity="0.55"/>
<ellipse cx="173.6" cy="566.7" rx="4.7" ry="6.3" fill="#f6ccd2" fill-opacity="0.72"/>
<ellipse cx="174.2" cy="565.4" rx="2.0" ry="2.8" fill="#fdeaec" opacity="0.6"/>
<ellipse cx="185" cy="566.7" rx="7.4" ry="8.6" fill="#dc5068" fill-opacity="0.55"/>
<ellipse cx="186.6" cy="567" rx="4.7" ry="6.3" fill="#f6ccd2" fill-opacity="0.72"/>
<ellipse cx="187.2" cy="565.7" rx="2.0" ry="2.8" fill="#fdeaec" opacity="0.6"/>
<ellipse cx="198" cy="567" rx="7.4" ry="8.6" fill="#dc5068" fill-opacity="0.55"/>
<ellipse cx="199.6" cy="567.3" rx="4.7" ry="6.3" fill="#f6ccd2" fill-opacity="0.72"/>
<ellipse cx="200.2" cy="566" rx="2.0" ry="2.8" fill="#fdeaec" opacity="0.6"/>
<ellipse cx="211" cy="567.2" rx="7.4" ry="8.6" fill="#dc5068" fill-opacity="0.55"/>
<ellipse cx="212.6" cy="567.5" rx="4.7" ry="6.3" fill="#f6ccd2" fill-opacity="0.72"/>
<ellipse cx="213.2" cy="566.2" rx="2.0" ry="2.8" fill="#fdeaec" opacity="0.6"/>
<ellipse cx="224" cy="567.5" rx="7.4" ry="8.6" fill="#dc5068" fill-opacity="0.55"/>
<ellipse cx="225.6" cy="567.8" rx="4.7" ry="6.3" fill="#f6ccd2" fill-opacity="0.72"/>
<ellipse cx="226.2" cy="566.5" rx="2.0" ry="2.8" fill="#fdeaec" opacity="0.6"/>
<ellipse cx="237" cy="567.8" rx="7.4" ry="8.6" fill="#dc5068" fill-opacity="0.55"/>
<ellipse cx="238.6" cy="568.1" rx="4.7" ry="6.3" fill="#f6ccd2" fill-opacity="0.72"/>
<ellipse cx="239.2" cy="566.8" rx="2.0" ry="2.8" fill="#fdeaec" opacity="0.6"/>
<ellipse cx="250" cy="568.1" rx="7.4" ry="8.6" fill="#dc5068" fill-opacity="0.55"/>
<ellipse cx="251.6" cy="568.4" rx="4.7" ry="6.3" fill="#f6ccd2" fill-opacity="0.72"/>
<ellipse cx="252.2" cy="567.1" rx="2.0" ry="2.8" fill="#fdeaec" opacity="0.6"/>
<ellipse cx="263" cy="568.4" rx="7.4" ry="8.6" fill="#dc5068" fill-opacity="0.55"/>
<ellipse cx="264.6" cy="568.7" rx="4.7" ry="6.3" fill="#f6ccd2" fill-opacity="0.72"/>
<ellipse cx="265.2" cy="567.4" rx="2.0" ry="2.8" fill="#fdeaec" opacity="0.6"/>
<ellipse cx="276" cy="568.6" rx="7.4" ry="8.6" fill="#dc5068" fill-opacity="0.55"/>
<ellipse cx="277.6" cy="568.9" rx="4.7" ry="6.3" fill="#f6ccd2" fill-opacity="0.72"/>
<ellipse cx="278.2" cy="567.6" rx="2.0" ry="2.8" fill="#fdeaec" opacity="0.6"/>
<ellipse cx="289" cy="568.9" rx="7.4" ry="8.6" fill="#dc5068" fill-opacity="0.55"/>
<ellipse cx="290.6" cy="569.2" rx="4.7" ry="6.3" fill="#f6ccd2" fill-opacity="0.72"/>
<ellipse cx="291.2" cy="567.9" rx="2.0" ry="2.8" fill="#fdeaec" opacity="0.6"/>
<ellipse cx="302" cy="569.2" rx="7.4" ry="8.6" fill="#dc5068" fill-opacity="0.55"/>
<ellipse cx="303.6" cy="569.5" rx="4.7" ry="6.3" fill="#f6ccd2" fill-opacity="0.72"/>
<ellipse cx="304.2" cy="568.2" rx="2.0" ry="2.8" fill="#fdeaec" opacity="0.6"/>
<ellipse cx="172" cy="581.6" rx="7.4" ry="8.6" fill="#dc5068" fill-opacity="0.55"/>
<ellipse cx="173.6" cy="581.9" rx="4.7" ry="6.3" fill="#f6ccd2" fill-opacity="0.72"/>
<ellipse cx="174.2" cy="580.6" rx="2.0" ry="2.8" fill="#fdeaec" opacity="0.6"/>
<ellipse cx="185" cy="581.9" rx="7.4" ry="8.6" fill="#dc5068" fill-opacity="0.55"/>
<ellipse cx="186.6" cy="582.2" rx="4.7" ry="6.3" fill="#f6ccd2" fill-opacity="0.72"/>
<ellipse cx="187.2" cy="580.9" rx="2.0" ry="2.8" fill="#fdeaec" opacity="0.6"/>
<ellipse cx="198" cy="582.2" rx="7.4" ry="8.6" fill="#dc5068" fill-opacity="0.55"/>
<ellipse cx="199.6" cy="582.5" rx="4.7" ry="6.3" fill="#f6ccd2" fill-opacity="0.72"/>
<ellipse cx="200.2" cy="581.2" rx="2.0" ry="2.8" fill="#fdeaec" opacity="0.6"/>
<ellipse cx="211" cy="582.4" rx="7.4" ry="8.6" fill="#dc5068" fill-opacity="0.55"/>
<ellipse cx="212.6" cy="582.7" rx="4.7" ry="6.3" fill="#f6ccd2" fill-opacity="0.72"/>
<ellipse cx="213.2" cy="581.4" rx="2.0" ry="2.8" fill="#fdeaec" opacity="0.6"/>
<ellipse cx="224" cy="582.7" rx="7.4" ry="8.6" fill="#dc5068" fill-opacity="0.55"/>
<ellipse cx="225.6" cy="583" rx="4.7" ry="6.3" fill="#f6ccd2" fill-opacity="0.72"/>
<ellipse cx="226.2" cy="581.7" rx="2.0" ry="2.8" fill="#fdeaec" opacity="0.6"/>
<ellipse cx="237" cy="583" rx="7.4" ry="8.6" fill="#dc5068" fill-opacity="0.55"/>
<ellipse cx="238.6" cy="583.3" rx="4.7" ry="6.3" fill="#f6ccd2" fill-opacity="0.72"/>
<ellipse cx="239.2" cy="582" rx="2.0" ry="2.8" fill="#fdeaec" opacity="0.6"/>
<ellipse cx="250" cy="583.3" rx="7.4" ry="8.6" fill="#dc5068" fill-opacity="0.55"/>
<ellipse cx="251.6" cy="583.6" rx="4.7" ry="6.3" fill="#f6ccd2" fill-opacity="0.72"/>
<ellipse cx="252.2" cy="582.3" rx="2.0" ry="2.8" fill="#fdeaec" opacity="0.6"/>
<ellipse cx="263" cy="583.6" rx="7.4" ry="8.6" fill="#dc5068" fill-opacity="0.55"/>
<ellipse cx="264.6" cy="583.9" rx="4.7" ry="6.3" fill="#f6ccd2" fill-opacity="0.72"/>
<ellipse cx="265.2" cy="582.6" rx="2.0" ry="2.8" fill="#fdeaec" opacity="0.6"/>
<ellipse cx="276" cy="583.8" rx="7.4" ry="8.6" fill="#dc5068" fill-opacity="0.55"/>
<ellipse cx="277.6" cy="584.1" rx="4.7" ry="6.3" fill="#f6ccd2" fill-opacity="0.72"/>
<ellipse cx="278.2" cy="582.8" rx="2.0" ry="2.8" fill="#fdeaec" opacity="0.6"/>
<ellipse cx="289" cy="584.1" rx="7.4" ry="8.6" fill="#dc5068" fill-opacity="0.55"/>
<ellipse cx="290.6" cy="584.4" rx="4.7" ry="6.3" fill="#f6ccd2" fill-opacity="0.72"/>
<ellipse cx="291.2" cy="583.1" rx="2.0" ry="2.8" fill="#fdeaec" opacity="0.6"/>
<ellipse cx="302" cy="584.4" rx="7.4" ry="8.6" fill="#dc5068" fill-opacity="0.55"/>
<ellipse cx="303.6" cy="584.7" rx="4.7" ry="6.3" fill="#f6ccd2" fill-opacity="0.72"/>
<ellipse cx="304.2" cy="583.4" rx="2.0" ry="2.8" fill="#fdeaec" opacity="0.6"/>
<ellipse cx="172" cy="596.8" rx="7.4" ry="8.6" fill="#dc5068" fill-opacity="0.55"/>
<ellipse cx="173.6" cy="597.1" rx="4.7" ry="6.3" fill="#f6ccd2" fill-opacity="0.72"/>
<ellipse cx="174.2" cy="595.8" rx="2.0" ry="2.8" fill="#fdeaec" opacity="0.6"/>
<ellipse cx="185" cy="597.1" rx="7.4" ry="8.6" fill="#dc5068" fill-opacity="0.55"/>
<ellipse cx="186.6" cy="597.4" rx="4.7" ry="6.3" fill="#f6ccd2" fill-opacity="0.72"/>
<ellipse cx="187.2" cy="596.1" rx="2.0" ry="2.8" fill="#fdeaec" opacity="0.6"/>
<ellipse cx="198" cy="597.4" rx="7.4" ry="8.6" fill="#dc5068" fill-opacity="0.55"/>
<ellipse cx="199.6" cy="597.7" rx="4.7" ry="6.3" fill="#f6ccd2" fill-opacity="0.72"/>
<ellipse cx="200.2" cy="596.4" rx="2.0" ry="2.8" fill="#fdeaec" opacity="0.6"/>
<ellipse cx="211" cy="597.6" rx="7.4" ry="8.6" fill="#dc5068" fill-opacity="0.55"/>
<ellipse cx="212.6" cy="597.9" rx="4.7" ry="6.3" fill="#f6ccd2" fill-opacity="0.72"/>
<ellipse cx="213.2" cy="596.6" rx="2.0" ry="2.8" fill="#fdeaec" opacity="0.6"/>
<ellipse cx="224" cy="597.9" rx="7.4" ry="8.6" fill="#dc5068" fill-opacity="0.55"/>
<ellipse cx="225.6" cy="598.2" rx="4.7" ry="6.3" fill="#f6ccd2" fill-opacity="0.72"/>
<ellipse cx="226.2" cy="596.9" rx="2.0" ry="2.8" fill="#fdeaec" opacity="0.6"/>
<ellipse cx="237" cy="598.2" rx="7.4" ry="8.6" fill="#dc5068" fill-opacity="0.55"/>
<ellipse cx="238.6" cy="598.5" rx="4.7" ry="6.3" fill="#f6ccd2" fill-opacity="0.72"/>
<ellipse cx="239.2" cy="597.2" rx="2.0" ry="2.8" fill="#fdeaec" opacity="0.6"/>
<ellipse cx="250" cy="598.5" rx="7.4" ry="8.6" fill="#dc5068" fill-opacity="0.55"/>
<ellipse cx="251.6" cy="598.8" rx="4.7" ry="6.3" fill="#f6ccd2" fill-opacity="0.72"/>
<ellipse cx="252.2" cy="597.5" rx="2.0" ry="2.8" fill="#fdeaec" opacity="0.6"/>
<ellipse cx="263" cy="598.8" rx="7.4" ry="8.6" fill="#dc5068" fill-opacity="0.55"/>
<ellipse cx="264.6" cy="599.1" rx="4.7" ry="6.3" fill="#f6ccd2" fill-opacity="0.72"/>
<ellipse cx="265.2" cy="597.8" rx="2.0" ry="2.8" fill="#fdeaec" opacity="0.6"/>
<ellipse cx="276" cy="599" rx="7.4" ry="8.6" fill="#dc5068" fill-opacity="0.55"/>
<ellipse cx="277.6" cy="599.3" rx="4.7" ry="6.3" fill="#f6ccd2" fill-opacity="0.72"/>
<ellipse cx="278.2" cy="598" rx="2.0" ry="2.8" fill="#fdeaec" opacity="0.6"/>
<ellipse cx="289" cy="599.3" rx="7.4" ry="8.6" fill="#dc5068" fill-opacity="0.55"/>
<ellipse cx="290.6" cy="599.6" rx="4.7" ry="6.3" fill="#f6ccd2" fill-opacity="0.72"/>
<ellipse cx="291.2" cy="598.3" rx="2.0" ry="2.8" fill="#fdeaec" opacity="0.6"/>
<ellipse cx="302" cy="599.6" rx="7.4" ry="8.6" fill="#dc5068" fill-opacity="0.55"/>
<ellipse cx="303.6" cy="599.9" rx="4.7" ry="6.3" fill="#f6ccd2" fill-opacity="0.72"/>
<ellipse cx="304.2" cy="598.6" rx="2.0" ry="2.8" fill="#fdeaec" opacity="0.6"/>
</g>
<rect x="313.5" y="452" width="7" height="146" fill="#b9dcec" opacity="0.85"/>
<clipPath id="clipliq"><path d="M74 380 V606 A147.2 24 0 0 0 368.5 606 V380 Z"/></clipPath>
<g clip-path="url(#clipliq)"><g transform="translate(27.7 624) rotate(-28.1)">
<path d="M0 -15.8 H240.5 A9 15.8 0 0 1 240.5 15.8 H0 Z" fill="#eef07a" opacity="0.5"/>
</g></g>
<clipPath id="clipoutL"><rect x="0" y="500" width="74.5" height="181"/></clipPath>
<clipPath id="clipoutR"><rect x="368" y="300" width="200" height="250"/></clipPath>
<g clip-path="url(#clipoutL)"><g transform="translate(27.7 624) rotate(-28.1)">
<path d="M0 -15.8 H511 A14.5 15.8 0 0 1 511 15.8 H0 A14.5 15.8 0 0 1 0 -15.8 Z" fill="url(#gbeam)"/>
<ellipse cx="0" cy="0" rx="14" ry="15.5" fill="#fff04a"/>
<ellipse cx="511" cy="0" rx="14" ry="15.5" fill="#fff24e"/>
</g></g>
<g clip-path="url(#clipoutR)"><g transform="translate(27.7 624) rotate(-28.1)">
<path d="M0 -15.8 H511 A14.5 15.8 0 0 1 511 15.8 H0 A14.5 15.8 0 0 1 0 -15.8 Z" fill="url(#gbeam)"/>
<ellipse cx="0" cy="0" rx="14" ry="15.5" fill="#fff04a"/>
<ellipse cx="511" cy="0" rx="14" ry="15.5" fill="#fff24e"/>
</g></g>
<clipPath id="clipwl"><rect x="74" y="500" width="8.5" height="181"/></clipPath>
<g clip-path="url(#clipwl)"><g transform="translate(27.7 624) rotate(-28.1)"><rect x="0" y="-15.8" width="511" height="31.6" fill="#d8cf52"/></g></g>
<path d="M51.5 268.6 A169.5 30 0 0 0 390.5 268.6 V280.6 A169.5 30 0 0 1 51.5 280.6 Z" fill="url(#grim)"/>
<ellipse cx="221" cy="268.6" rx="169.5" ry="30" fill="url(#glid)"/>
<path d="M154.5 190.6 V267.9 A20 4.2 0 0 0 194.4 267.9 V190.6 A20 4.2 0 0 0 154.5 190.6 Z" fill="url(#gsleeve)" opacity="0.78"/>
<path d="M167.8 68.3 V266.6 A6 2 0 0 0 179.8 266.6 V68.3 Z" fill="url(#grodk)"/>
<rect x="169.1" y="20" width="9.2" height="48.8" fill="url(#gtip)"/>
<ellipse cx="173.7" cy="20.6" rx="4.6" ry="1.2" fill="#e8e8e8" stroke="#777" stroke-width="0.6"/>
<path d="M154.5 190.6 V267.9 A20 4.2 0 0 0 194.4 267.9 V190.6 A20 4.2 0 0 1 154.5 190.6 Z" fill="url(#gsleeve)" opacity="0.2"/>
<ellipse cx="174.4" cy="190.6" rx="19.6" ry="4.2" fill="#a9dde2" fill-opacity="0.3" stroke="#4f9aa2" stroke-width="0.9"/>
<ellipse cx="174.4" cy="190.6" rx="15" ry="2.9" fill="none" stroke="#4f9aa2" stroke-width="0.8"/>
<path d="M154.5 267.9 A20 4.2 0 0 0 194.4 267.9" fill="none" stroke="#4f9aa2" stroke-width="1"/>
<path d="M154.9 190.6 V267.9 M194 190.6 V267.9" stroke="#4f9aa2" stroke-width="1" fill="none"/>
<path d="M273.3 182.3 V260.1 A19.6 4.2 0 0 0 312.5 260.1 V182.3 A19.6 4.2 0 0 0 273.3 182.3 Z" fill="url(#gsleeve)" opacity="0.78"/>
<path d="M286.1 67.2 V259 A6.2 2 0 0 0 298.5 259 V67.2 Z" fill="url(#grodr)"/>
<rect x="287.2" y="19.1" width="9.4" height="48.6" fill="url(#gtip)"/>
<ellipse cx="291.9" cy="19.7" rx="4.7" ry="1.2" fill="#e8e8e8" stroke="#777" stroke-width="0.6"/>
<path d="M273.3 182.3 V260.1 A19.6 4.2 0 0 0 312.5 260.1 V182.3 A19.6 4.2 0 0 1 273.3 182.3 Z" fill="url(#gsleeve)" opacity="0.2"/>
<ellipse cx="292.9" cy="182.3" rx="19.2" ry="4.2" fill="#a9dde2" fill-opacity="0.3" stroke="#4f9aa2" stroke-width="0.9"/>
<ellipse cx="292.9" cy="182.3" rx="14.6" ry="2.9" fill="none" stroke="#4f9aa2" stroke-width="0.8"/>
<path d="M273.3 260.1 A19.6 4.2 0 0 0 312.5 260.1" fill="none" stroke="#4f9aa2" stroke-width="1"/>
<path d="M273.7 182.3 V260.1 M312.1 182.3 V260.1" stroke="#4f9aa2" stroke-width="1" fill="none"/>
<text x="36.8" y="39.3" font-size="29.2" text-anchor="middle" fill="#111" >(a)</text>
<text x="634" y="38.9" font-size="29.2" text-anchor="middle" fill="#111" >(b)</text>
<text x="641.3" y="360.1" font-size="29.2" text-anchor="middle" fill="#111" >(c)</text>
<text x="1000" y="38.9" font-size="29.2" text-anchor="middle" fill="#111" >(d)</text>
<text x="1000" y="313" font-size="29.2" text-anchor="middle" fill="#111" >(e)</text>
<path d="M367.5 139.05 H590" stroke="#000" stroke-width="6.6" fill="none"/>
<polygon points="588.8,122.9 621.3,139.05 588.8,155.2" fill="#000"/>
<path d="M381.3 460.9 H596" stroke="#000" stroke-width="6.6" fill="none"/>
<polygon points="595,444.7 627.9,460.95 595,477.2" fill="#000"/>
<rect x="478.8" y="336.4" width="76" height="6.7" fill="#000"/>
<rect x="511.6" y="303.4" width="10" height="73.1" fill="#000"/>
<text x="483" y="173.9" font-size="34.4" text-anchor="middle" fill="#000" >Battery</text>
<text x="483" y="215.2" font-size="34.4" text-anchor="middle" fill="#000" >Characterisation</text>
<text x="483" y="255.5" font-size="34.4" text-anchor="middle" fill="#000" >Techniques</text>
<text x="486" y="497.6" font-size="34" text-anchor="middle" fill="#000" >Monitoring</text>
<text x="486" y="538.2" font-size="34" text-anchor="middle" fill="#000" >Photonic</text>
<text x="486" y="578.8" font-size="34" text-anchor="middle" fill="#000" >Stopband</text>
<path d="M704.2 21.7 L704.2 25.1 L704.2 28.6 L704.2 32 L704.2 35.5 L704.2 38.9 L704.2 42.3 L704.2 45.8 L704.2 49.2 L704.2 52.7 L704.2 56.1 L704.2 59.5 L704.3 63 L704.4 66.4 L704.5 69.8 L704.6 73.3 L704.8 76.7 L705 80.2 L705.2 83.6 L705.5 87 L705.8 90.4 L706.1 93.9 L706.6 97.3 L707.1 100.7 L707.6 104.1 L708.3 107.4 L708.9 110.8 L709.7 114.2 L710.5 117.5 L711.3 120.8 L712.2 124.2 L713.2 127.5 L714.2 130.7 L715.3 134 L716.4 137.3 L717.5 140.5 L718.8 143.7 L720.1 146.9 L721.5 150 L722.9 153.2 L724.3 156.3 L725.9 159.4 L727.5 162.4 L729.2 165.4 L731 168.2 L733 171 L735.2 173.6 L737.6 176.1 L740 178.4 L742.7 180.6 L745.4 182.6 L748.3 184.4 L751.3 186.1 L754.4 187.6 L757.5 189.1 L760.6 190.5 L763.7 192 L766.8 193.5 L769.8 195.1 L772.8 196.7 L775.8 198.5 L778.7 200.3 L781.6 202.1 L784.5 204 L787.4 205.9 L790.2 207.8 L793.1 209.8 L795.9 211.7 L798.7 213.6 L801.6 215.6 L804.4 217.5 L807.3 219.4 L810.2 221.3 L813.1 223.2 L815.9 225.1 L818.8 226.9 L821.8 228.7 L824.7 230.5 L827.6 232.3 L830.6 234.1 L833.5 235.8 L836.5 237.6 L839.4 239.4 L842.4 241.2 L845.3 242.9 L848.3 244.6 L851.3 246.3 L854.3 248 L857.3 249.6 L860.4 251.2 L863.4 252.8 L866.5 254.3 L869.6 255.8 L872.8 257.2 L875.9 258.6 L879.1 260 L882.2 261.3 L885.4 262.6 L888.6 263.8 L891.9 265 L895.1 266.1 L898.4 267.2 L901.6 268.3 L904.9 269.3 L908.2 270.3 L911.5 271.3 L914.8 272.2 L918.1 273.1 L921.5 273.9 L924.8 274.8" fill="none" stroke="#0a0a0a" stroke-width="2.3" stroke-linejoin="round"/>
<path d="M704 274.5 L704 271.8 L704.1 269.2 L704.1 266.5 L704.2 263.8 L704.2 261.2 L704.3 258.5 L704.4 255.9 L704.5 253.2 L704.6 250.5 L704.7 247.9 L704.9 245.2 L705.2 242.6 L705.5 239.9 L705.8 237.3 L706.3 234.7 L706.7 232 L707.3 229.4 L707.9 226.8 L708.5 224.2 L709.2 221.7 L709.9 219.1 L710.7 216.6 L711.5 214 L712.3 211.5 L713.1 208.9 L714 206.4 L714.8 203.9 L715.7 201.4 L716.6 198.9 L717.5 196.4 L718.5 193.9 L719.5 191.4 L720.5 189 L721.6 186.5 L722.7 184.1 L723.7 181.6 L724.8 179.2 L725.8 176.7 L726.9 174.3 L727.9 171.8 L729 169.4 L730.1 167 L731.2 164.5 L732.3 162.1 L733.4 159.7 L734.4 157.2 L735.5 154.8 L736.6 152.4 L737.6 149.9 L738.6 147.4 L739.6 145 L740.6 142.5 L741.7 140 L742.7 137.6 L743.8 135.2 L744.9 132.8 L746.1 130.4 L747.3 128 L748.7 125.7 L750 123.4 L751.4 121.2 L752.9 118.9 L754.4 116.7 L755.9 114.6 L757.5 112.4 L759.1 110.3 L760.8 108.2 L762.5 106.2 L764.3 104.2 L766.1 102.3 L768 100.4 L769.9 98.6 L771.9 96.8 L773.9 95.1 L776 93.4 L778.1 91.7 L780.1 90 L782.2 88.4 L784.2 86.7 L786.2 84.9 L788.2 83.1 L790.1 81.2 L792 79.3 L793.8 77.4 L795.5 75.4 L797.3 73.4 L798.9 71.3 L800.6 69.2 L802.2 67.1 L803.8 65 L805.4 62.8 L806.9 60.6 L808.4 58.4 L809.9 56.2 L811.4 54 L812.8 51.8 L814.2 49.5 L815.6 47.2 L817 44.9 L818.3 42.6 L819.6 40.3 L820.9 38 L822.2 35.7 L823.5 33.3 L824.8 31 L826.1 28.7 L827.4 26.3 L828.7 24 L830 21.7" fill="none" stroke="#c41a1a" stroke-width="2.3" stroke-linejoin="round"/>
<g stroke="#1a1a1a" stroke-width="1.4" fill="none" stroke-linecap="butt">
<rect x="704.3" y="21.4" width="253.6" height="253.5"/>
<path d="M704.3 274.9 v10.3 M704.3 21.4 v-10.3 M740.5 274.9 v10.3 M740.5 21.4 v-10.3 M776.8 274.9 v10.3 M776.8 21.4 v-10.3 M813 274.9 v10.3 M813 21.4 v-10.3 M849.2 274.9 v10.3 M849.2 21.4 v-10.3 M885.4 274.9 v10.3 M885.4 21.4 v-10.3 M921.7 274.9 v10.3 M921.7 21.4 v-10.3 M957.9 274.9 v10.3 M957.9 21.4 v-10.3 M722.4 274.9 v5.5 M722.4 21.4 v-5.5 M758.6 274.9 v5.5 M758.6 21.4 v-5.5 M794.9 274.9 v5.5 M794.9 21.4 v-5.5 M831.1 274.9 v5.5 M831.1 21.4 v-5.5 M867.3 274.9 v5.5 M867.3 21.4 v-5.5 M903.6 274.9 v5.5 M903.6 21.4 v-5.5 M939.8 274.9 v5.5 M939.8 21.4 v-5.5 M704.3 274.9 h-10.3 M704.3 224.2 h-10.3 M704.3 173.5 h-10.3 M704.3 122.8 h-10.3 M704.3 72.1 h-10.3 M704.3 21.4 h-10.3 M957.9 274.9 h10.3 M957.9 224.2 h10.3 M957.9 173.5 h10.3 M957.9 122.8 h10.3 M957.9 72.1 h10.3 M957.9 21.4 h10.3 M704.3 249.5 h-5.5 M704.3 198.8 h-5.5 M704.3 148.1 h-5.5 M704.3 97.5 h-5.5 M704.3 46.8 h-5.5 M957.9 249.5 h5.5 M957.9 198.8 h5.5 M957.9 148.1 h5.5 M957.9 97.5 h5.5 M957.9 46.8 h5.5"/>
</g>
<text x="687.7" y="280.8" font-size="18.7" text-anchor="end" fill="#111" >1.0</text>
<text x="687.7" y="230.1" font-size="18.7" text-anchor="end" fill="#111" >1.4</text>
<text x="687.7" y="179.4" font-size="18.7" text-anchor="end" fill="#111" >1.8</text>
<text x="687.7" y="128.7" font-size="18.7" text-anchor="end" fill="#111" >2.2</text>
<text x="687.7" y="78" font-size="18.7" text-anchor="end" fill="#111" >2.6</text>
<text x="687.7" y="27.3" font-size="18.7" text-anchor="end" fill="#111" >3.0</text>
<text x="704.3" y="305.8" font-size="18.7" text-anchor="middle" fill="#111" >0</text>
<text x="740.5" y="305.8" font-size="18.7" text-anchor="middle" fill="#111" >20</text>
<text x="776.8" y="305.8" font-size="18.7" text-anchor="middle" fill="#111" >40</text>
<text x="813" y="305.8" font-size="18.7" text-anchor="middle" fill="#111" >60</text>
<text x="849.2" y="305.8" font-size="18.7" text-anchor="middle" fill="#111" >80</text>
<text x="885.4" y="305.8" font-size="18.7" text-anchor="middle" fill="#111" >100</text>
<text x="921.7" y="305.8" font-size="18.7" text-anchor="middle" fill="#111" >120</text>
<text x="957.9" y="305.8" font-size="18.7" text-anchor="middle" fill="#111" >140</text>
<text x="695.9" y="333.7" font-size="21.8" word-spacing="1.25" fill="#111">Specific Capacity (mA h g<tspan font-size="13.5" dy="-9.5">-1</tspan><tspan dy="9.5">)</tspan></text>
<text transform="translate(644.8 151.5) rotate(-90)" font-size="21.9" text-anchor="middle" fill="#111">Voltage (V)</text>
<path d="M836.5 34.1 h38" stroke="#0a0a0a" stroke-width="2"/>
<path d="M836.5 54.7 h38" stroke="#c41a1a" stroke-width="2"/>
<text x="879.5" y="40.1" font-size="17.1" text-anchor="start" fill="#111" >Discharge</text>
<text x="879.5" y="60.7" font-size="17.1" text-anchor="start" fill="#111" >Charge</text>
<clipPath id="clipc"><rect x="700.6" y="356.7" width="258.7" height="258.2"/></clipPath>
<g clip-path="url(#clipc)">
<path d="M701 566.2 L701.6 651.1 L702.2 579.5 L702.9 637.8 L703.5 549.5 L704.1 648.2 L704.7 588.2 L705.3 620.5 L706 560 L706.6 624.8 L707.2 591.6 L707.8 621.9 L708.4 576.7 L709.1 615.1 L709.7 576.4 L710.3 619 L710.9 590.9 L711.5 615.8 L712.2 585.6 L712.8 609.8 L713.4 585.9 L714 612.4 L714.6 583.7 L715.3 602.4 L715.9 582.4 L716.5 609.2 L717.1 586.1 L717.7 600 L718.4 584.1 L719 606.4 L719.6 578.6 L720.2 600.8 L720.8 578.4 L721.5 600.5 L722.1 583.6 L722.7 592.3 L723.3 580.8 L723.9 594.8 L724.6 583.1 L725.2 591.6 L725.8 582.6 L726.4 591.7 L727 583.4 L727.7 590.4 L728.3 582.1 L728.9 592.2 L729.5 580.8 L730.1 588.3 L730.8 582 L731.4 588.3 L732 582.3 L732.6 586.4 L733.2 580.7 L733.9 585 L734.5 580.9 L735.1 585.5 L735.7 579 L736.3 585.4 L737 579.2 L737.6 584.8 L738.2 579.2 L738.8 583.3 L739.4 579.1 L740.1 582.5 L740.7 578.5 L741.3 582.1 L741.9 579.5 L742.5 580.9 L743.2 577.9 L743.8 580.8 L744.4 578.4 L745 581.9 L745.6 578.5 L746.3 581.3 L746.9 578.5 L747.5 580.9 L748.1 580.7 L748.6 580.9 L748.9 580.5 L749.2 580.5 L749.4 581 L749.7 581.1 L750 581.5 L750.3 581.6 L750.5 581.8 L750.8 581.7 L751.1 582.5 L751.4 582.4 L751.6 582 L751.9 582.3 L752.2 582.9 L752.5 582.7 L752.7 583.1 L753 583.2 L753.3 583 L753.6 582.9 L753.8 583.8 L754.1 583.3 L754.4 584 L754.7 583.7 L755 584.1 L755.2 584.7 L755.5 584.2 L755.8 584.3 L756.1 585.2 L756.3 584.9 L756.6 585.1 L756.9 584.7 L757.2 585.3 L757.4 585.4 L757.7 585.2 L758 585.3 L758.3 585.5 L758.5 585.9 L758.8 585.8 L759.1 585.5 L759.4 585.4 L759.7 585.9 L759.9 585.9 L760.2 586.2 L760.5 586.1 L760.8 586 L761 586.7 L761.3 586.1 L761.6 586 L761.9 586 L762.1 586.3 L762.4 586.2 L762.7 586.1 L763 586.1 L763.2 586.3 L763.5 585.6 L763.8 585.9 L764.1 585.8 L764.3 585.5 L764.6 585.2 L764.9 584.8 L765.2 584.6 L765.5 585.2 L765.7 584.6 L766 583.9 L766.3 584.1 L766.6 583.4 L766.8 583.3 L767.1 582.3 L767.4 582 L767.7 582.3 L767.9 581.8 L768.2 580.6 L768.5 580.3 L768.8 580 L769 579.5 L769.3 578.9 L769.6 578.3 L769.9 578 L770.2 577 L770.4 576.7 L770.7 576.7 L771 574.9 L771.3 574.9 L771.5 574.6 L771.8 573.8 L772.1 573.4 L772.4 571.8 L772.6 571.8 L772.9 570.9 L773.2 570.5 L773.5 569.6 L773.7 568.6 L774 568.2 L774.3 567.6 L774.6 566.2 L774.8 566 L775.1 565.4 L775.4 564.9 L775.7 563.3 L776 563 L776.2 562.2 L776.5 561.5 L776.8 560.6 L777.1 560.2 L777.3 559.4 L777.6 557.7 L777.9 557.1 L778.2 557 L778.4 555.7 L778.7 554.8 L779 554.2 L779.3 553.3 L779.5 552.5 L779.8 551.7 L780.1 551.1 L780.4 550.3 L780.6 548.9 L780.9 548.7 L781.2 547.3 L781.5 546.9 L781.8 546.4 L782 544.3 L782.3 544 L782.6 543.9 L782.9 542.4 L783.1 542 L783.4 541.2 L783.7 539.6 L784 539.4 L784.2 538.5 L784.5 537.2 L784.8 537.1 L785.1 535.7 L785.3 535.3 L785.6 534.5 L785.9 533.6 L786.2 532.6 L786.5 531.1 L786.7 530.9 L787 529.8 L787.3 528.9 L787.6 528.5 L787.8 527.4 L788.1 526 L788.4 525.4 L788.7 524.7 L788.9 523.8 L789.2 522.8 L789.5 521 L789.8 520.8 L790 519.6 L790.3 519 L790.6 518.3 L790.9 517.2 L791.1 516 L791.4 515.3 L791.7 514.3 L792 513.9 L792.3 512.3 L792.5 511.2 L792.8 510.4 L793.1 509.8 L793.4 508.7 L793.6 507.5 L793.9 506.9 L794.2 505.8 L794.5 504.2 L794.7 503.5 L795 502.7 L795.3 501.5 L795.6 500.3 L795.8 499.4 L796.1 497.9 L796.4 497.3 L796.7 496 L796.9 495.2 L797.2 494.3 L797.5 492.8 L797.8 491.9 L798.1 490.8 L798.3 489.3 L798.6 488.8 L798.9 487.6 L799.2 486.8 L799.4 485.3 L799.7 484.3 L800 483.6 L800.3 482.7 L800.5 481.9 L800.8 480.5 L801.1 479.2 L801.4 478.3 L801.6 476.9 L801.9 476.1 L802.2 474.5 L802.5 474.6 L802.8 472.9 L803 472.8 L803.3 471.4 L803.6 470.4 L803.9 469.6 L804.1 469.7 L804.4 468.7 L804.7 467.7 L805 467.2 L805.2 466.6 L805.5 465.8 L805.8 465.2 L806.1 464.5 L806.3 464.1 L806.6 463.9 L806.9 463.1 L807.2 462.2 L807.4 462 L807.7 461.2 L808 459.8 L808.3 459.1 L808.6 458.5 L808.8 458.7 L809.1 457.1 L809.4 456.6 L809.7 456 L809.9 454.7 L810.2 454.5 L810.5 453.4 L810.8 453.1 L811 452.6 L811.3 451.5 L811.6 451.3 L811.9 450.2 L812.1 449.3 L812.4 448.8 L812.7 448.6 L813 447.5 L813.3 446.2 L813.5 445.6 L813.8 445.2 L814.1 444.2 L814.4 443.7 L814.6 442.8 L814.9 442.5 L815.2 441.5 L815.5 441.4 L815.7 440.3 L816 439.6 L816.3 439 L816.6 438.2 L816.8 437.1 L817.1 437.5 L817.4 436.7 L817.7 436.1 L817.9 434.6 L818.2 435.6 L818.5 433.8 L818.8 433 L819.1 432.7 L819.3 432.4 L819.6 431.9 L819.9 431.6 L820.2 430.7 L820.4 430.9 L820.7 429.6 L821 429.6 L821.3 428.8 L821.5 428.1 L821.8 427.8 L822.1 427.5 L822.4 427.4 L822.6 426.3 L822.9 426.2 L823.2 425.6 L823.5 425.5 L823.7 424.5 L824 425 L824.3 423.9 L824.6 424.9 L824.9 424.7 L825.1 424.5 L825.4 424.6 L825.7 424.4 L826 424.1 L826.2 423.7 L826.5 423.7 L826.8 424.1 L827.1 424.4 L827.3 424.1 L827.6 423.8 L827.9 423.8 L828.2 423.3 L828.4 424.1 L828.7 423.4 L829 423.8 L829.3 424 L829.6 424.1 L829.8 424.7 L830.1 423.9 L830.4 424.3 L830.7 424.8 L830.9 425.1 L831.2 424.9 L831.5 424.9 L831.8 425.5 L832 425.3 L832.3 425.8 L832.6 425.2 L832.9 425.8 L833.1 425.2 L833.4 425.6 L833.7 425.2 L834 426.5 L834.2 425.6 L834.5 425.6 L834.8 425.8 L835.1 426.5 L835.4 426.2 L835.6 426.3 L835.9 426.1 L836.2 425.6 L836.5 425.9 L836.7 426.3 L837 426.2 L837.3 426.4 L837.6 425.6 L837.8 426.1 L838.1 425.9 L838.4 426.1 L838.7 425.5 L838.9 425.7 L839.2 425.1 L839.5 424.9 L839.8 424.9 L840.1 424.8 L840.3 424.7 L840.6 424.6 L840.9 424.8 L841.2 424.6 L841.4 424 L841.7 424.6 L842 423.9 L842.3 423.3 L842.5 423.2 L842.8 423 L843.1 422.6 L843.4 423.2 L843.6 422.1 L843.9 421.8 L844.2 421.5 L844.5 421.6 L844.7 421.1 L845 420.9 L845.3 421 L845.6 420.8 L845.9 420.5 L846.1 419.7 L846.4 420.1 L846.7 419.8 L847 419.2 L847.2 418.9 L847.5 419.1 L847.8 418.6 L848.1 418 L848.3 418.2 L848.6 417.4 L848.9 417.3 L849.2 416.7 L849.4 416.6 L849.7 416.4 L850 416.1 L850.3 415.6 L850.5 415.5 L850.8 414.5 L851.1 414.2 L851.4 413.5 L851.7 413.5 L851.9 413.3 L852.2 412.3 L852.5 412.5 L852.8 411.8 L853 411.7 L853.3 411.4 L853.6 410.7 L853.9 410.3 L854.1 409.9 L854.4 409.8 L854.7 409.7 L855 408.5 L855.2 408.5 L855.5 408.2 L855.8 407.9 L856.1 407.7 L856.4 406.4 L856.6 407.1 L856.9 406.6 L857.2 406.3 L857.5 406.3 L857.7 405.6 L858 405.1 L858.3 405 L858.6 405.3 L858.8 404.6 L859.1 404 L859.4 403.6 L859.7 403.5 L859.9 403.6 L860.2 402.4 L860.5 402 L860.8 402 L861 401.5 L861.3 401.2 L861.6 401.2 L861.9 400.9 L862.2 400.6 L862.4 400.6 L862.7 400.4 L863 399.9 L863.3 399.6 L863.5 398.8 L863.8 398.7 L864.1 398.8 L864.4 398.5 L864.6 398.4 L864.9 398 L865.2 397.9 L865.5 396.8 L865.7 397.7 L866 397.2 L866.3 397.1 L866.6 397 L866.8 396.9 L867.1 396 L867.4 396.7 L867.7 396.8 L868 395.9 L868.2 395.8 L868.5 395.8 L868.8 396.1 L869.1 396 L869.3 395.3 L869.6 395.2 L869.9 395.3 L870.2 395.5 L870.4 395 L870.7 394.7 L871 394.7 L871.3 395.7 L871.5 394.6 L871.8 394.6 L872.1 394.4 L872.4 394.7 L872.7 394.6 L872.9 394.9 L873.2 394.6 L873.5 394.6 L873.8 395.2 L874 394.6 L874.3 395.1 L874.6 394.9 L874.9 395.2 L875.1 395.8 L875.4 394.7 L875.7 394.8 L876 394.5 L876.2 394.8 L876.5 394.3 L876.8 394.5 L877.1 395 L877.3 395.5 L877.6 394.5 L877.9 396 L878.2 395.2 L878.5 395.1 L878.7 395.9 L879 395.8 L879.3 396.1 L879.6 395.3 L879.8 395.4 L880.1 395.5 L880.4 395.4 L880.7 396.2 L880.9 396.1 L881.2 396.7 L881.5 397 L881.8 396.8 L882 397.6 L882.3 396.3 L882.6 397.1 L882.9 398.7 L883.2 398 L883.4 397.3 L883.7 398.2 L884 399.4 L884.3 398.3 L884.5 399.6 L884.8 399.8 L885.1 399.6 L885.4 400.7 L885.6 399.6 L885.9 399.9 L886.2 400.2 L886.5 400.5 L886.7 400.9 L887 401.6 L887.3 401.2 L887.6 401.2 L887.8 403 L888.1 402.1 L888.4 402.4 L888.7 403.6 L889 403.2 L889.2 404 L889.5 403.6 L889.8 403.2 L890.1 405.7 L890.3 404.5 L890.6 403.9 L890.9 404.2 L891.2 404.5 L891.4 405.4 L891.7 404 L892 405.4 L892.3 404.1 L892.5 405.2 L892.8 405.5 L893.1 403.8 L893.4 404.8 L893.6 406.3 L893.9 403.9 L894.2 406.8 L894.5 405.9 L894.8 406.5 L895 408.3 L895.3 406.2 L895.6 407.2 L895.9 406.5 L896.1 407.4 L896.4 407.2 L896.7 405.7 L897 409.4 L897.2 408.2 L897.5 406.8 L897.8 408.3 L898.1 407.7 L898.3 406.6 L898.6 406.2 L898.9 409.8 L899.2 409.4 L899.5 408.5 L899.7 409.3 L900 409.1 L900.3 409.4 L900.6 407.9 L900.8 406.9 L901.1 408.8 L901.4 410.2 L901.7 408.8 L901.9 411.1 L902.2 407.7 L902.5 407.9 L902.8 410.5 L903 408.1 L903.3 411.5 L903.6 409.4 L903.9 409.4 L904.1 410.1 L904.4 409.3 L904.7 410.1 L905 407.5 L905.3 410.1 L905.5 409.3 L905.8 408.9 L906.1 409.2 L906.4 408.2 L906.6 410 L906.9 409.9 L907.2 408.8 L907.5 410.1 L907.7 410.9 L908 409.1 L908.3 410.7 L908.6 410.8 L908.8 407 L909.1 408.6 L909.4 408.2 L909.7 407.9 L910 409.3 L910.2 409.3 L910.5 409.4 L910.8 409.1 L911.1 408.1 L911.3 409.7 L911.6 411.6 L911.9 407.2 L912.2 410.9 L912.4 408.6 L912.7 409.6 L913 408 L913.3 407.3 L913.5 407 L913.8 406.2 L914.1 407.6 L914.4 407 L914.6 404.9 L914.9 405.7 L915.2 408.1 L915.5 407.1 L915.8 406.3 L916 402.7 L916.3 406.5 L916.6 408.3 L916.9 405.1 L917.1 405.4 L917.4 406.3 L917.7 404 L918 405.8 L918.2 404.3 L918.5 406.1 L918.8 404.5 L919.1 403.2 L919.3 400.2 L919.6 399.4 L919.9 402 L920.2 405.8 L920.4 400.7 L920.7 401.4 L921 402.4 L921.3 400.2 L921.6 398.7 L921.8 397.9 L922.1 397.9 L922.4 395.7 L922.7 397.7 L922.9 398 L923.2 400.9 L923.5 397.1 L923.8 398.8 L924 395.3 L924.3 397.3 L924.6 397.7 L924.9 394.8 L925.1 391.4 L925.4 396.9 L925.7 394.2 L926 394.7 L926.3 394.3 L926.5 389 L926.8 395 L927.1 393.6 L927.4 391.9 L927.6 391.9 L927.9 395 L928.2 391.1 L928.5 392.4 L928.7 391.8 L929 391.7 L929.3 391.7 L929.6 389.7 L929.8 387.6 L930.1 388.4 L930.4 389.4 L930.7 389 L930.9 386.3 L931.2 387.4 L931.5 389.8 L931.8 385.8 L932.1 384.9 L932.3 388.6 L932.6 383.1 L932.9 384.2 L933.2 385.2 L933.4 388.4 L933.7 379.7 L934 386.8 L934.3 384.2 L934.5 380.7 L934.8 377.8 L935.1 381.5 L935.4 383.6 L935.6 377.2 L935.9 378.8 L936.2 379.5 L936.5 381 L936.7 380.8 L937 380.8 L937.3 375.2 L937.6 377.8 L937.9 372 L938.1 374.9 L938.4 375.9 L938.7 375.1 L939 375.9 L939.2 373.7 L939.5 373.1 L939.8 372 L940.1 374.1 L940.3 371.9 L940.6 372.9 L940.9 375.3 L941.2 368.3 L941.4 371.3 L941.7 366.6 L942 371.7 L942.3 368.2 L942.6 376 L942.8 372.7 L943.1 370.2 L943.4 364.9 L943.7 368 L943.9 374.3 L944.2 363.1 L944.5 368.3 L944.8 365.3 L945 363.9 L945.3 366.8 L945.6 367.6 L945.9 367.4 L946.1 366 L946.4 372 L946.7 361.1 L947 363.5 L947.2 367.9 L947.5 357 L947.8 365.2 L948.1 363.2 L948.4 360.1 L948.6 367.6 L948.9 356.3 L949.2 361.5 L949.5 361.6 L949.7 363.6 L950 363.6 L950.3 364.5 L950.6 362.5 L950.8 358.2 L951.1 358.8 L951.4 361 L951.7 360.6 L951.9 351 L952.2 359 L952.5 356.7 L952.8 359.8 L953.1 354.6 L953.3 352.7 L953.6 354 L953.9 358.6 L954.2 355.7 L954.4 354.9 L954.7 351.7 L955 360.2 L955.3 350.2 L955.5 350.9 L955.8 352.5 L956.1 353.4 L956.4 362.3 L956.6 356.1 L956.9 360.9 L957.2 354.4 L957.5 344.8 L957.7 355.8 L958 356.5 L958.3 352.8" fill="none" stroke="#ee1111" stroke-width="1.9" stroke-linejoin="round"/>
</g>
<g stroke="#1a1a1a" stroke-width="1.4" fill="none" stroke-linecap="butt">
<rect x="700.6" y="356.7" width="257.7" height="258.2"/>
<path d="M700.6 614.9 v10.3 M700.6 356.7 v-10.3 M786.5 614.9 v10.3 M786.5 356.7 v-10.3 M872.4 614.9 v10.3 M872.4 356.7 v-10.3 M958.3 614.9 v10.3 M958.3 356.7 v-10.3 M743.5 614.9 v5.5 M743.5 356.7 v-5.5 M829.5 614.9 v5.5 M829.5 356.7 v-5.5 M915.3 614.9 v5.5 M915.3 356.7 v-5.5 M700.6 614.9 h-10.3 M700.6 563.3 h-10.3 M700.6 511.6 h-10.3 M700.6 460 h-10.3 M700.6 408.3 h-10.3 M700.6 356.7 h-10.3 M958.3 614.9 h10.3 M958.3 563.3 h10.3 M958.3 511.6 h10.3 M958.3 460 h10.3 M958.3 408.3 h10.3 M958.3 356.7 h10.3 M700.6 589.1 h-5.5 M700.6 537.4 h-5.5 M700.6 485.8 h-5.5 M700.6 434.2 h-5.5 M700.6 382.5 h-5.5 M958.3 589.1 h5.5 M958.3 537.4 h5.5 M958.3 485.8 h5.5 M958.3 434.2 h5.5 M958.3 382.5 h5.5"/>
</g>
<text x="684.8" y="620.8" font-size="21.0" text-anchor="end" fill="#111" >2</text>
<text x="684.8" y="569.2" font-size="21.0" text-anchor="end" fill="#111" >4</text>
<text x="684.8" y="517.5" font-size="21.0" text-anchor="end" fill="#111" >6</text>
<text x="684.8" y="465.9" font-size="21.0" text-anchor="end" fill="#111" >8</text>
<text x="684.8" y="414.2" font-size="21.0" text-anchor="end" fill="#111" >10</text>
<text x="684.8" y="362.6" font-size="21.0" text-anchor="end" fill="#111" >12</text>
<text x="700.6" y="647" font-size="21.0" text-anchor="middle" fill="#111" >400</text>
<text x="786.5" y="647" font-size="21.0" text-anchor="middle" fill="#111" >600</text>
<text x="872.4" y="647" font-size="21.0" text-anchor="middle" fill="#111" >800</text>
<text x="958.3" y="647" font-size="21.0" text-anchor="middle" fill="#111" >1000</text>
<text x="829.9" y="674.2" font-size="21.5" text-anchor="middle" fill="#111" >Wavelength (nm)</text>
<text transform="translate(651.5 486) rotate(-90)" font-size="21.2" text-anchor="middle" fill="#111">% Transmission</text>
<clipPath id="clipd"><rect x="1027.3" y="10.7" width="335.4" height="253"/></clipPath>
<g clip-path="url(#clipd)">
<rect x="1022.3" y="5.7" width="345.4" height="263" fill="#ececec"/>
<g filter="url(#blur1)">
<path d="M986.6 -31.3 Q992.8 -34.7 998.9 -31.3 L1020.2 -19.7 Q1026.3 -16.3 1026.3 -9.3 L1026.3 13.5 Q1026.3 20.5 1020.2 23.9 L998.9 35.5 Q992.8 38.9 986.6 35.5 L965.3 23.9 Q959.2 20.5 959.2 13.5 L959.2 -9.3 Q959.2 -16.3 965.3 -19.7 Z" fill="url(#gcell)"/>
<path d="M1055.1 -31.3 Q1061.2 -34.7 1067.4 -31.3 L1088.7 -19.7 Q1094.8 -16.3 1094.8 -9.3 L1094.8 13.5 Q1094.8 20.5 1088.7 23.9 L1067.4 35.5 Q1061.2 38.9 1055.1 35.5 L1033.8 23.9 Q1027.7 20.5 1027.7 13.5 L1027.7 -9.3 Q1027.7 -16.3 1033.8 -19.7 Z" fill="url(#gcell)"/>
<path d="M1123.6 -31.3 Q1129.8 -34.7 1135.9 -31.3 L1157.2 -19.7 Q1163.3 -16.3 1163.3 -9.3 L1163.3 13.5 Q1163.3 20.5 1157.2 23.9 L1135.9 35.5 Q1129.8 38.9 1123.6 35.5 L1102.3 23.9 Q1096.2 20.5 1096.2 13.5 L1096.2 -9.3 Q1096.2 -16.3 1102.3 -19.7 Z" fill="url(#gcell)"/>
<path d="M1192.1 -31.3 Q1198.2 -34.7 1204.4 -31.3 L1225.7 -19.7 Q1231.8 -16.3 1231.8 -9.3 L1231.8 13.5 Q1231.8 20.5 1225.7 23.9 L1204.4 35.5 Q1198.2 38.9 1192.1 35.5 L1170.8 23.9 Q1164.7 20.5 1164.7 13.5 L1164.7 -9.3 Q1164.7 -16.3 1170.8 -19.7 Z" fill="url(#gcell)"/>
<path d="M1260.6 -31.3 Q1266.8 -34.7 1272.9 -31.3 L1294.2 -19.7 Q1300.3 -16.3 1300.3 -9.3 L1300.3 13.5 Q1300.3 20.5 1294.2 23.9 L1272.9 35.5 Q1266.8 38.9 1260.6 35.5 L1239.3 23.9 Q1233.2 20.5 1233.2 13.5 L1233.2 -9.3 Q1233.2 -16.3 1239.3 -19.7 Z" fill="url(#gcell)"/>
<path d="M1329.1 -31.3 Q1335.2 -34.7 1341.4 -31.3 L1362.7 -19.7 Q1368.8 -16.3 1368.8 -9.3 L1368.8 13.5 Q1368.8 20.5 1362.7 23.9 L1341.4 35.5 Q1335.2 38.9 1329.1 35.5 L1307.8 23.9 Q1301.7 20.5 1301.7 13.5 L1301.7 -9.3 Q1301.7 -16.3 1307.8 -19.7 Z" fill="url(#gcell)"/>
<path d="M1397.6 -31.3 Q1403.8 -34.7 1409.9 -31.3 L1431.2 -19.7 Q1437.3 -16.3 1437.3 -9.3 L1437.3 13.5 Q1437.3 20.5 1431.2 23.9 L1409.9 35.5 Q1403.8 38.9 1397.6 35.5 L1376.3 23.9 Q1370.2 20.5 1370.2 13.5 L1370.2 -9.3 Q1370.2 -16.3 1376.3 -19.7 Z" fill="url(#gcell)"/>
<path d="M1020.9 25.1 Q1027 21.7 1033.1 25.1 L1054.4 36.7 Q1060.5 40.1 1060.5 47.1 L1060.5 69.9 Q1060.5 76.9 1054.4 80.3 L1033.1 91.9 Q1027 95.3 1020.9 91.9 L999.6 80.3 Q993.5 76.9 993.5 69.9 L993.5 47.1 Q993.5 40.1 999.6 36.7 Z" fill="url(#gcell)"/>
<path d="M1089.4 25.1 Q1095.5 21.7 1101.6 25.1 L1122.9 36.7 Q1129 40.1 1129 47.1 L1129 69.9 Q1129 76.9 1122.9 80.3 L1101.6 91.9 Q1095.5 95.3 1089.4 91.9 L1068.1 80.3 Q1062 76.9 1062 69.9 L1062 47.1 Q1062 40.1 1068.1 36.7 Z" fill="url(#gcell)"/>
<path d="M1157.9 25.1 Q1164 21.7 1170.1 25.1 L1191.4 36.7 Q1197.5 40.1 1197.5 47.1 L1197.5 69.9 Q1197.5 76.9 1191.4 80.3 L1170.1 91.9 Q1164 95.3 1157.9 91.9 L1136.6 80.3 Q1130.5 76.9 1130.5 69.9 L1130.5 47.1 Q1130.5 40.1 1136.6 36.7 Z" fill="url(#gcell)"/>
<path d="M1226.4 25.1 Q1232.5 21.7 1238.6 25.1 L1259.9 36.7 Q1266 40.1 1266 47.1 L1266 69.9 Q1266 76.9 1259.9 80.3 L1238.6 91.9 Q1232.5 95.3 1226.4 91.9 L1205.1 80.3 Q1199 76.9 1199 69.9 L1199 47.1 Q1199 40.1 1205.1 36.7 Z" fill="url(#gcell)"/>
<path d="M1294.9 25.1 Q1301 21.7 1307.1 25.1 L1328.4 36.7 Q1334.5 40.1 1334.5 47.1 L1334.5 69.9 Q1334.5 76.9 1328.4 80.3 L1307.1 91.9 Q1301 95.3 1294.9 91.9 L1273.6 80.3 Q1267.5 76.9 1267.5 69.9 L1267.5 47.1 Q1267.5 40.1 1273.6 36.7 Z" fill="url(#gcell)"/>
<path d="M1363.4 25.1 Q1369.5 21.7 1375.6 25.1 L1396.9 36.7 Q1403 40.1 1403 47.1 L1403 69.9 Q1403 76.9 1396.9 80.3 L1375.6 91.9 Q1369.5 95.3 1363.4 91.9 L1342.1 80.3 Q1336 76.9 1336 69.9 L1336 47.1 Q1336 40.1 1342.1 36.7 Z" fill="url(#gcell)"/>
<path d="M986.6 81.5 Q992.8 78.1 998.9 81.5 L1020.2 93.1 Q1026.3 96.5 1026.3 103.5 L1026.3 126.3 Q1026.3 133.3 1020.2 136.7 L998.9 148.3 Q992.8 151.7 986.6 148.3 L965.3 136.7 Q959.2 133.3 959.2 126.3 L959.2 103.5 Q959.2 96.5 965.3 93.1 Z" fill="url(#gcell)"/>
<path d="M1055.1 81.5 Q1061.2 78.1 1067.4 81.5 L1088.7 93.1 Q1094.8 96.5 1094.8 103.5 L1094.8 126.3 Q1094.8 133.3 1088.7 136.7 L1067.4 148.3 Q1061.2 151.7 1055.1 148.3 L1033.8 136.7 Q1027.7 133.3 1027.7 126.3 L1027.7 103.5 Q1027.7 96.5 1033.8 93.1 Z" fill="url(#gcell)"/>
<path d="M1123.6 81.5 Q1129.8 78.1 1135.9 81.5 L1157.2 93.1 Q1163.3 96.5 1163.3 103.5 L1163.3 126.3 Q1163.3 133.3 1157.2 136.7 L1135.9 148.3 Q1129.8 151.7 1123.6 148.3 L1102.3 136.7 Q1096.2 133.3 1096.2 126.3 L1096.2 103.5 Q1096.2 96.5 1102.3 93.1 Z" fill="url(#gcell)"/>
<path d="M1192.1 81.5 Q1198.2 78.1 1204.4 81.5 L1225.7 93.1 Q1231.8 96.5 1231.8 103.5 L1231.8 126.3 Q1231.8 133.3 1225.7 136.7 L1204.4 148.3 Q1198.2 151.7 1192.1 148.3 L1170.8 136.7 Q1164.7 133.3 1164.7 126.3 L1164.7 103.5 Q1164.7 96.5 1170.8 93.1 Z" fill="url(#gcell)"/>
<path d="M1260.6 81.5 Q1266.8 78.1 1272.9 81.5 L1294.2 93.1 Q1300.3 96.5 1300.3 103.5 L1300.3 126.3 Q1300.3 133.3 1294.2 136.7 L1272.9 148.3 Q1266.8 151.7 1260.6 148.3 L1239.3 136.7 Q1233.2 133.3 1233.2 126.3 L1233.2 103.5 Q1233.2 96.5 1239.3 93.1 Z" fill="url(#gcell)"/>
<path d="M1329.1 81.5 Q1335.2 78.1 1341.4 81.5 L1362.7 93.1 Q1368.8 96.5 1368.8 103.5 L1368.8 126.3 Q1368.8 133.3 1362.7 136.7 L1341.4 148.3 Q1335.2 151.7 1329.1 148.3 L1307.8 136.7 Q1301.7 133.3 1301.7 126.3 L1301.7 103.5 Q1301.7 96.5 1307.8 93.1 Z" fill="url(#gcell)"/>
<path d="M1397.6 81.5 Q1403.8 78.1 1409.9 81.5 L1431.2 93.1 Q1437.3 96.5 1437.3 103.5 L1437.3 126.3 Q1437.3 133.3 1431.2 136.7 L1409.9 148.3 Q1403.8 151.7 1397.6 148.3 L1376.3 136.7 Q1370.2 133.3 1370.2 126.3 L1370.2 103.5 Q1370.2 96.5 1376.3 93.1 Z" fill="url(#gcell)"/>
<path d="M1020.9 137.9 Q1027 134.5 1033.1 137.9 L1054.4 149.5 Q1060.5 152.9 1060.5 159.9 L1060.5 182.7 Q1060.5 189.7 1054.4 193.1 L1033.1 204.7 Q1027 208.1 1020.9 204.7 L999.6 193.1 Q993.5 189.7 993.5 182.7 L993.5 159.9 Q993.5 152.9 999.6 149.5 Z" fill="url(#gcell)"/>
<path d="M1089.4 137.9 Q1095.5 134.5 1101.6 137.9 L1122.9 149.5 Q1129 152.9 1129 159.9 L1129 182.7 Q1129 189.7 1122.9 193.1 L1101.6 204.7 Q1095.5 208.1 1089.4 204.7 L1068.1 193.1 Q1062 189.7 1062 182.7 L1062 159.9 Q1062 152.9 1068.1 149.5 Z" fill="url(#gcell)"/>
<path d="M1157.9 137.9 Q1164 134.5 1170.1 137.9 L1191.4 149.5 Q1197.5 152.9 1197.5 159.9 L1197.5 182.7 Q1197.5 189.7 1191.4 193.1 L1170.1 204.7 Q1164 208.1 1157.9 204.7 L1136.6 193.1 Q1130.5 189.7 1130.5 182.7 L1130.5 159.9 Q1130.5 152.9 1136.6 149.5 Z" fill="url(#gcell)"/>
<path d="M1226.4 137.9 Q1232.5 134.5 1238.6 137.9 L1259.9 149.5 Q1266 152.9 1266 159.9 L1266 182.7 Q1266 189.7 1259.9 193.1 L1238.6 204.7 Q1232.5 208.1 1226.4 204.7 L1205.1 193.1 Q1199 189.7 1199 182.7 L1199 159.9 Q1199 152.9 1205.1 149.5 Z" fill="url(#gcell)"/>
<path d="M1294.9 137.9 Q1301 134.5 1307.1 137.9 L1328.4 149.5 Q1334.5 152.9 1334.5 159.9 L1334.5 182.7 Q1334.5 189.7 1328.4 193.1 L1307.1 204.7 Q1301 208.1 1294.9 204.7 L1273.6 193.1 Q1267.5 189.7 1267.5 182.7 L1267.5 159.9 Q1267.5 152.9 1273.6 149.5 Z" fill="url(#gcell)"/>
<path d="M1363.4 137.9 Q1369.5 134.5 1375.6 137.9 L1396.9 149.5 Q1403 152.9 1403 159.9 L1403 182.7 Q1403 189.7 1396.9 193.1 L1375.6 204.7 Q1369.5 208.1 1363.4 204.7 L1342.1 193.1 Q1336 189.7 1336 182.7 L1336 159.9 Q1336 152.9 1342.1 149.5 Z" fill="url(#gcell)"/>
<path d="M986.6 194.3 Q992.8 190.9 998.9 194.3 L1020.2 205.9 Q1026.3 209.3 1026.3 216.3 L1026.3 239.1 Q1026.3 246.1 1020.2 249.5 L998.9 261.1 Q992.8 264.5 986.6 261.1 L965.3 249.5 Q959.2 246.1 959.2 239.1 L959.2 216.3 Q959.2 209.3 965.3 205.9 Z" fill="url(#gcell)"/>
<path d="M1055.1 194.3 Q1061.2 190.9 1067.4 194.3 L1088.7 205.9 Q1094.8 209.3 1094.8 216.3 L1094.8 239.1 Q1094.8 246.1 1088.7 249.5 L1067.4 261.1 Q1061.2 264.5 1055.1 261.1 L1033.8 249.5 Q1027.7 246.1 1027.7 239.1 L1027.7 216.3 Q1027.7 209.3 1033.8 205.9 Z" fill="url(#gcell)"/>
<path d="M1123.6 194.3 Q1129.8 190.9 1135.9 194.3 L1157.2 205.9 Q1163.3 209.3 1163.3 216.3 L1163.3 239.1 Q1163.3 246.1 1157.2 249.5 L1135.9 261.1 Q1129.8 264.5 1123.6 261.1 L1102.3 249.5 Q1096.2 246.1 1096.2 239.1 L1096.2 216.3 Q1096.2 209.3 1102.3 205.9 Z" fill="url(#gcell)"/>
<path d="M1192.1 194.3 Q1198.2 190.9 1204.4 194.3 L1225.7 205.9 Q1231.8 209.3 1231.8 216.3 L1231.8 239.1 Q1231.8 246.1 1225.7 249.5 L1204.4 261.1 Q1198.2 264.5 1192.1 261.1 L1170.8 249.5 Q1164.7 246.1 1164.7 239.1 L1164.7 216.3 Q1164.7 209.3 1170.8 205.9 Z" fill="url(#gcell)"/>
<path d="M1260.6 194.3 Q1266.8 190.9 1272.9 194.3 L1294.2 205.9 Q1300.3 209.3 1300.3 216.3 L1300.3 239.1 Q1300.3 246.1 1294.2 249.5 L1272.9 261.1 Q1266.8 264.5 1260.6 261.1 L1239.3 249.5 Q1233.2 246.1 1233.2 239.1 L1233.2 216.3 Q1233.2 209.3 1239.3 205.9 Z" fill="url(#gcell)"/>
<path d="M1329.1 194.3 Q1335.2 190.9 1341.4 194.3 L1362.7 205.9 Q1368.8 209.3 1368.8 216.3 L1368.8 239.1 Q1368.8 246.1 1362.7 249.5 L1341.4 261.1 Q1335.2 264.5 1329.1 261.1 L1307.8 249.5 Q1301.7 246.1 1301.7 239.1 L1301.7 216.3 Q1301.7 209.3 1307.8 205.9 Z" fill="url(#gcell)"/>
<path d="M1397.6 194.3 Q1403.8 190.9 1409.9 194.3 L1431.2 205.9 Q1437.3 209.3 1437.3 216.3 L1437.3 239.1 Q1437.3 246.1 1431.2 249.5 L1409.9 261.1 Q1403.8 264.5 1397.6 261.1 L1376.3 249.5 Q1370.2 246.1 1370.2 239.1 L1370.2 216.3 Q1370.2 209.3 1376.3 205.9 Z" fill="url(#gcell)"/>
<path d="M1020.9 250.7 Q1027 247.3 1033.1 250.7 L1054.4 262.3 Q1060.5 265.7 1060.5 272.7 L1060.5 295.5 Q1060.5 302.5 1054.4 305.9 L1033.1 317.5 Q1027 320.9 1020.9 317.5 L999.6 305.9 Q993.5 302.5 993.5 295.5 L993.5 272.7 Q993.5 265.7 999.6 262.3 Z" fill="url(#gcell)"/>
<path d="M1089.4 250.7 Q1095.5 247.3 1101.6 250.7 L1122.9 262.3 Q1129 265.7 1129 272.7 L1129 295.5 Q1129 302.5 1122.9 305.9 L1101.6 317.5 Q1095.5 320.9 1089.4 317.5 L1068.1 305.9 Q1062 302.5 1062 295.5 L1062 272.7 Q1062 265.7 1068.1 262.3 Z" fill="url(#gcell)"/>
<path d="M1157.9 250.7 Q1164 247.3 1170.1 250.7 L1191.4 262.3 Q1197.5 265.7 1197.5 272.7 L1197.5 295.5 Q1197.5 302.5 1191.4 305.9 L1170.1 317.5 Q1164 320.9 1157.9 317.5 L1136.6 305.9 Q1130.5 302.5 1130.5 295.5 L1130.5 272.7 Q1130.5 265.7 1136.6 262.3 Z" fill="url(#gcell)"/>
<path d="M1226.4 250.7 Q1232.5 247.3 1238.6 250.7 L1259.9 262.3 Q1266 265.7 1266 272.7 L1266 295.5 Q1266 302.5 1259.9 305.9 L1238.6 317.5 Q1232.5 320.9 1226.4 317.5 L1205.1 305.9 Q1199 302.5 1199 295.5 L1199 272.7 Q1199 265.7 1205.1 262.3 Z" fill="url(#gcell)"/>
<path d="M1294.9 250.7 Q1301 247.3 1307.1 250.7 L1328.4 262.3 Q1334.5 265.7 1334.5 272.7 L1334.5 295.5 Q1334.5 302.5 1328.4 305.9 L1307.1 317.5 Q1301 320.9 1294.9 317.5 L1273.6 305.9 Q1267.5 302.5 1267.5 295.5 L1267.5 272.7 Q1267.5 265.7 1273.6 262.3 Z" fill="url(#gcell)"/>
<path d="M1363.4 250.7 Q1369.5 247.3 1375.6 250.7 L1396.9 262.3 Q1403 265.7 1403 272.7 L1403 295.5 Q1403 302.5 1396.9 305.9 L1375.6 317.5 Q1369.5 320.9 1363.4 317.5 L1342.1 305.9 Q1336 302.5 1336 295.5 L1336 272.7 Q1336 265.7 1342.1 262.3 Z" fill="url(#gcell)"/>
</g>
<g filter="url(#blur4)">
<path d="M992.8 4.1 L992.8 -32.5 M992.8 4.1 L962.6 19.8 M992.8 4.1 L1022.9 19.8" stroke="#a8a8a8" stroke-width="5" fill="none" opacity="0.85"/>
<ellipse cx="975.2" cy="-7.4" rx="10.5" ry="8.8" fill="#646464" opacity="0.78"/>
<ellipse cx="1009.8" cy="-7.7" rx="10.5" ry="8.8" fill="#646464" opacity="0.78"/>
<ellipse cx="992.8" cy="20.1" rx="10.5" ry="8.8" fill="#646464" opacity="0.78"/>
<path d="M1061.2 4.1 L1061.2 -32.5 M1061.2 4.1 L1031.1 19.8 M1061.2 4.1 L1091.4 19.8" stroke="#a8a8a8" stroke-width="5" fill="none" opacity="0.85"/>
<ellipse cx="1043.8" cy="-7.4" rx="10.5" ry="8.8" fill="#646464" opacity="0.78"/>
<ellipse cx="1078.2" cy="-7.7" rx="10.5" ry="8.8" fill="#646464" opacity="0.78"/>
<ellipse cx="1061.2" cy="20.1" rx="10.5" ry="8.8" fill="#646464" opacity="0.78"/>
<path d="M1129.8 4.1 L1129.8 -32.5 M1129.8 4.1 L1099.6 19.8 M1129.8 4.1 L1159.9 19.8" stroke="#a8a8a8" stroke-width="5" fill="none" opacity="0.85"/>
<ellipse cx="1112.2" cy="-7.4" rx="10.5" ry="8.8" fill="#646464" opacity="0.78"/>
<ellipse cx="1146.8" cy="-7.7" rx="10.5" ry="8.8" fill="#646464" opacity="0.78"/>
<ellipse cx="1129.8" cy="20.1" rx="10.5" ry="8.8" fill="#646464" opacity="0.78"/>
<path d="M1198.2 4.1 L1198.2 -32.5 M1198.2 4.1 L1168.1 19.8 M1198.2 4.1 L1228.4 19.8" stroke="#a8a8a8" stroke-width="5" fill="none" opacity="0.85"/>
<ellipse cx="1180.8" cy="-7.4" rx="10.5" ry="8.8" fill="#646464" opacity="0.78"/>
<ellipse cx="1215.2" cy="-7.7" rx="10.5" ry="8.8" fill="#646464" opacity="0.78"/>
<ellipse cx="1198.2" cy="20.1" rx="10.5" ry="8.8" fill="#646464" opacity="0.78"/>
<path d="M1266.8 4.1 L1266.8 -32.5 M1266.8 4.1 L1236.6 19.8 M1266.8 4.1 L1296.9 19.8" stroke="#a8a8a8" stroke-width="5" fill="none" opacity="0.85"/>
<ellipse cx="1249.2" cy="-7.4" rx="10.5" ry="8.8" fill="#646464" opacity="0.78"/>
<ellipse cx="1283.8" cy="-7.7" rx="10.5" ry="8.8" fill="#646464" opacity="0.78"/>
<ellipse cx="1266.8" cy="20.1" rx="10.5" ry="8.8" fill="#646464" opacity="0.78"/>
<path d="M1335.2 4.1 L1335.2 -32.5 M1335.2 4.1 L1305.1 19.8 M1335.2 4.1 L1365.4 19.8" stroke="#a8a8a8" stroke-width="5" fill="none" opacity="0.85"/>
<ellipse cx="1317.8" cy="-7.4" rx="10.5" ry="8.8" fill="#646464" opacity="0.78"/>
<ellipse cx="1352.2" cy="-7.7" rx="10.5" ry="8.8" fill="#646464" opacity="0.78"/>
<ellipse cx="1335.2" cy="20.1" rx="10.5" ry="8.8" fill="#646464" opacity="0.78"/>
<path d="M1403.8 4.1 L1403.8 -32.5 M1403.8 4.1 L1373.6 19.8 M1403.8 4.1 L1433.9 19.8" stroke="#a8a8a8" stroke-width="5" fill="none" opacity="0.85"/>
<ellipse cx="1386.2" cy="-7.4" rx="10.5" ry="8.8" fill="#646464" opacity="0.78"/>
<ellipse cx="1420.8" cy="-7.7" rx="10.5" ry="8.8" fill="#646464" opacity="0.78"/>
<ellipse cx="1403.8" cy="20.1" rx="10.5" ry="8.8" fill="#646464" opacity="0.78"/>
<path d="M1027 60.5 L1027 23.9 M1027 60.5 L996.9 76.2 M1027 60.5 L1057.1 76.2" stroke="#a8a8a8" stroke-width="5" fill="none" opacity="0.85"/>
<ellipse cx="1009.5" cy="49" rx="10.5" ry="8.8" fill="#646464" opacity="0.78"/>
<ellipse cx="1044" cy="48.7" rx="10.5" ry="8.8" fill="#646464" opacity="0.78"/>
<ellipse cx="1027" cy="76.5" rx="10.5" ry="8.8" fill="#646464" opacity="0.78"/>
<path d="M1095.5 60.5 L1095.5 23.9 M1095.5 60.5 L1065.4 76.2 M1095.5 60.5 L1125.6 76.2" stroke="#a8a8a8" stroke-width="5" fill="none" opacity="0.85"/>
<ellipse cx="1078" cy="49" rx="10.5" ry="8.8" fill="#646464" opacity="0.78"/>
<ellipse cx="1112.5" cy="48.7" rx="10.5" ry="8.8" fill="#646464" opacity="0.78"/>
<ellipse cx="1095.5" cy="76.5" rx="10.5" ry="8.8" fill="#646464" opacity="0.78"/>
<path d="M1164 60.5 L1164 23.9 M1164 60.5 L1133.9 76.2 M1164 60.5 L1194.1 76.2" stroke="#a8a8a8" stroke-width="5" fill="none" opacity="0.85"/>
<ellipse cx="1146.5" cy="49" rx="10.5" ry="8.8" fill="#646464" opacity="0.78"/>
<ellipse cx="1181" cy="48.7" rx="10.5" ry="8.8" fill="#646464" opacity="0.78"/>
<ellipse cx="1164" cy="76.5" rx="10.5" ry="8.8" fill="#646464" opacity="0.78"/>
<path d="M1232.5 60.5 L1232.5 23.9 M1232.5 60.5 L1202.4 76.2 M1232.5 60.5 L1262.6 76.2" stroke="#a8a8a8" stroke-width="5" fill="none" opacity="0.85"/>
<ellipse cx="1215" cy="49" rx="10.5" ry="8.8" fill="#646464" opacity="0.78"/>
<ellipse cx="1249.5" cy="48.7" rx="10.5" ry="8.8" fill="#646464" opacity="0.78"/>
<ellipse cx="1232.5" cy="76.5" rx="10.5" ry="8.8" fill="#646464" opacity="0.78"/>
<path d="M1301 60.5 L1301 23.9 M1301 60.5 L1270.9 76.2 M1301 60.5 L1331.1 76.2" stroke="#a8a8a8" stroke-width="5" fill="none" opacity="0.85"/>
<ellipse cx="1283.5" cy="49" rx="10.5" ry="8.8" fill="#646464" opacity="0.78"/>
<ellipse cx="1318" cy="48.7" rx="10.5" ry="8.8" fill="#646464" opacity="0.78"/>
<ellipse cx="1301" cy="76.5" rx="10.5" ry="8.8" fill="#646464" opacity="0.78"/>
<path d="M1369.5 60.5 L1369.5 23.9 M1369.5 60.5 L1339.4 76.2 M1369.5 60.5 L1399.6 76.2" stroke="#a8a8a8" stroke-width="5" fill="none" opacity="0.85"/>
<ellipse cx="1352" cy="49" rx="10.5" ry="8.8" fill="#646464" opacity="0.78"/>
<ellipse cx="1386.5" cy="48.7" rx="10.5" ry="8.8" fill="#646464" opacity="0.78"/>
<ellipse cx="1369.5" cy="76.5" rx="10.5" ry="8.8" fill="#646464" opacity="0.78"/>
<path d="M992.8 116.9 L992.8 80.3 M992.8 116.9 L962.6 132.6 M992.8 116.9 L1022.9 132.6" stroke="#a8a8a8" stroke-width="5" fill="none" opacity="0.85"/>
<ellipse cx="975.2" cy="105.4" rx="10.5" ry="8.8" fill="#646464" opacity="0.78"/>
<ellipse cx="1009.8" cy="105.1" rx="10.5" ry="8.8" fill="#646464" opacity="0.78"/>
<ellipse cx="992.8" cy="132.9" rx="10.5" ry="8.8" fill="#646464" opacity="0.78"/>
<path d="M1061.2 116.9 L1061.2 80.3 M1061.2 116.9 L1031.1 132.6 M1061.2 116.9 L1091.4 132.6" stroke="#a8a8a8" stroke-width="5" fill="none" opacity="0.85"/>
<ellipse cx="1043.8" cy="105.4" rx="10.5" ry="8.8" fill="#646464" opacity="0.78"/>
<ellipse cx="1078.2" cy="105.1" rx="10.5" ry="8.8" fill="#646464" opacity="0.78"/>
<ellipse cx="1061.2" cy="132.9" rx="10.5" ry="8.8" fill="#646464" opacity="0.78"/>
<path d="M1129.8 116.9 L1129.8 80.3 M1129.8 116.9 L1099.6 132.6 M1129.8 116.9 L1159.9 132.6" stroke="#a8a8a8" stroke-width="5" fill="none" opacity="0.85"/>
<ellipse cx="1112.2" cy="105.4" rx="10.5" ry="8.8" fill="#646464" opacity="0.78"/>
<ellipse cx="1146.8" cy="105.1" rx="10.5" ry="8.8" fill="#646464" opacity="0.78"/>
<ellipse cx="1129.8" cy="132.9" rx="10.5" ry="8.8" fill="#646464" opacity="0.78"/>
<path d="M1198.2 116.9 L1198.2 80.3 M1198.2 116.9 L1168.1 132.6 M1198.2 116.9 L1228.4 132.6" stroke="#a8a8a8" stroke-width="5" fill="none" opacity="0.85"/>
<ellipse cx="1180.8" cy="105.4" rx="10.5" ry="8.8" fill="#646464" opacity="0.78"/>
<ellipse cx="1215.2" cy="105.1" rx="10.5" ry="8.8" fill="#646464" opacity="0.78"/>
<ellipse cx="1198.2" cy="132.9" rx="10.5" ry="8.8" fill="#646464" opacity="0.78"/>
<path d="M1266.8 116.9 L1266.8 80.3 M1266.8 116.9 L1236.6 132.6 M1266.8 116.9 L1296.9 132.6" stroke="#a8a8a8" stroke-width="5" fill="none" opacity="0.85"/>
<ellipse cx="1249.2" cy="105.4" rx="10.5" ry="8.8" fill="#646464" opacity="0.78"/>
<ellipse cx="1283.8" cy="105.1" rx="10.5" ry="8.8" fill="#646464" opacity="0.78"/>
<ellipse cx="1266.8" cy="132.9" rx="10.5" ry="8.8" fill="#646464" opacity="0.78"/>
<path d="M1335.2 116.9 L1335.2 80.3 M1335.2 116.9 L1305.1 132.6 M1335.2 116.9 L1365.4 132.6" stroke="#a8a8a8" stroke-width="5" fill="none" opacity="0.85"/>
<ellipse cx="1317.8" cy="105.4" rx="10.5" ry="8.8" fill="#646464" opacity="0.78"/>
<ellipse cx="1352.2" cy="105.1" rx="10.5" ry="8.8" fill="#646464" opacity="0.78"/>
<ellipse cx="1335.2" cy="132.9" rx="10.5" ry="8.8" fill="#646464" opacity="0.78"/>
<path d="M1403.8 116.9 L1403.8 80.3 M1403.8 116.9 L1373.6 132.6 M1403.8 116.9 L1433.9 132.6" stroke="#a8a8a8" stroke-width="5" fill="none" opacity="0.85"/>
<ellipse cx="1386.2" cy="105.4" rx="10.5" ry="8.8" fill="#646464" opacity="0.78"/>
<ellipse cx="1420.8" cy="105.1" rx="10.5" ry="8.8" fill="#646464" opacity="0.78"/>
<ellipse cx="1403.8" cy="132.9" rx="10.5" ry="8.8" fill="#646464" opacity="0.78"/>
<path d="M1027 173.3 L1027 136.7 M1027 173.3 L996.9 189 M1027 173.3 L1057.1 189" stroke="#a8a8a8" stroke-width="5" fill="none" opacity="0.85"/>
<ellipse cx="1009.5" cy="161.8" rx="10.5" ry="8.8" fill="#646464" opacity="0.78"/>
<ellipse cx="1044" cy="161.5" rx="10.5" ry="8.8" fill="#646464" opacity="0.78"/>
<ellipse cx="1027" cy="189.3" rx="10.5" ry="8.8" fill="#646464" opacity="0.78"/>
<path d="M1095.5 173.3 L1095.5 136.7 M1095.5 173.3 L1065.4 189 M1095.5 173.3 L1125.6 189" stroke="#a8a8a8" stroke-width="5" fill="none" opacity="0.85"/>
<ellipse cx="1078" cy="161.8" rx="10.5" ry="8.8" fill="#646464" opacity="0.78"/>
<ellipse cx="1112.5" cy="161.5" rx="10.5" ry="8.8" fill="#646464" opacity="0.78"/>
<ellipse cx="1095.5" cy="189.3" rx="10.5" ry="8.8" fill="#646464" opacity="0.78"/>
<path d="M1164 173.3 L1164 136.7 M1164 173.3 L1133.9 189 M1164 173.3 L1194.1 189" stroke="#a8a8a8" stroke-width="5" fill="none" opacity="0.85"/>
<ellipse cx="1146.5" cy="161.8" rx="10.5" ry="8.8" fill="#646464" opacity="0.78"/>
<ellipse cx="1181" cy="161.5" rx="10.5" ry="8.8" fill="#646464" opacity="0.78"/>
<ellipse cx="1164" cy="189.3" rx="10.5" ry="8.8" fill="#646464" opacity="0.78"/>
<path d="M1232.5 173.3 L1232.5 136.7 M1232.5 173.3 L1202.4 189 M1232.5 173.3 L1262.6 189" stroke="#a8a8a8" stroke-width="5" fill="none" opacity="0.85"/>
<ellipse cx="1215" cy="161.8" rx="10.5" ry="8.8" fill="#646464" opacity="0.78"/>
<ellipse cx="1249.5" cy="161.5" rx="10.5" ry="8.8" fill="#646464" opacity="0.78"/>
<ellipse cx="1232.5" cy="189.3" rx="10.5" ry="8.8" fill="#646464" opacity="0.78"/>
<path d="M1301 173.3 L1301 136.7 M1301 173.3 L1270.9 189 M1301 173.3 L1331.1 189" stroke="#a8a8a8" stroke-width="5" fill="none" opacity="0.85"/>
<ellipse cx="1283.5" cy="161.8" rx="10.5" ry="8.8" fill="#646464" opacity="0.78"/>
<ellipse cx="1318" cy="161.5" rx="10.5" ry="8.8" fill="#646464" opacity="0.78"/>
<ellipse cx="1301" cy="189.3" rx="10.5" ry="8.8" fill="#646464" opacity="0.78"/>
<path d="M1369.5 173.3 L1369.5 136.7 M1369.5 173.3 L1339.4 189 M1369.5 173.3 L1399.6 189" stroke="#a8a8a8" stroke-width="5" fill="none" opacity="0.85"/>
<ellipse cx="1352" cy="161.8" rx="10.5" ry="8.8" fill="#646464" opacity="0.78"/>
<ellipse cx="1386.5" cy="161.5" rx="10.5" ry="8.8" fill="#646464" opacity="0.78"/>
<ellipse cx="1369.5" cy="189.3" rx="10.5" ry="8.8" fill="#646464" opacity="0.78"/>
<path d="M992.8 229.7 L992.8 193.1 M992.8 229.7 L962.6 245.4 M992.8 229.7 L1022.9 245.4" stroke="#a8a8a8" stroke-width="5" fill="none" opacity="0.85"/>
<ellipse cx="975.2" cy="218.2" rx="10.5" ry="8.8" fill="#646464" opacity="0.78"/>
<ellipse cx="1009.8" cy="217.9" rx="10.5" ry="8.8" fill="#646464" opacity="0.78"/>
<ellipse cx="992.8" cy="245.7" rx="10.5" ry="8.8" fill="#646464" opacity="0.78"/>
<path d="M1061.2 229.7 L1061.2 193.1 M1061.2 229.7 L1031.1 245.4 M1061.2 229.7 L1091.4 245.4" stroke="#a8a8a8" stroke-width="5" fill="none" opacity="0.85"/>
<ellipse cx="1043.8" cy="218.2" rx="10.5" ry="8.8" fill="#646464" opacity="0.78"/>
<ellipse cx="1078.2" cy="217.9" rx="10.5" ry="8.8" fill="#646464" opacity="0.78"/>
<ellipse cx="1061.2" cy="245.7" rx="10.5" ry="8.8" fill="#646464" opacity="0.78"/>
<path d="M1129.8 229.7 L1129.8 193.1 M1129.8 229.7 L1099.6 245.4 M1129.8 229.7 L1159.9 245.4" stroke="#a8a8a8" stroke-width="5" fill="none" opacity="0.85"/>
<ellipse cx="1112.2" cy="218.2" rx="10.5" ry="8.8" fill="#646464" opacity="0.78"/>
<ellipse cx="1146.8" cy="217.9" rx="10.5" ry="8.8" fill="#646464" opacity="0.78"/>
<ellipse cx="1129.8" cy="245.7" rx="10.5" ry="8.8" fill="#646464" opacity="0.78"/>
<path d="M1198.2 229.7 L1198.2 193.1 M1198.2 229.7 L1168.1 245.4 M1198.2 229.7 L1228.4 245.4" stroke="#a8a8a8" stroke-width="5" fill="none" opacity="0.85"/>
<ellipse cx="1180.8" cy="218.2" rx="10.5" ry="8.8" fill="#646464" opacity="0.78"/>
<ellipse cx="1215.2" cy="217.9" rx="10.5" ry="8.8" fill="#646464" opacity="0.78"/>
<ellipse cx="1198.2" cy="245.7" rx="10.5" ry="8.8" fill="#646464" opacity="0.78"/>
<path d="M1266.8 229.7 L1266.8 193.1 M1266.8 229.7 L1236.6 245.4 M1266.8 229.7 L1296.9 245.4" stroke="#a8a8a8" stroke-width="5" fill="none" opacity="0.85"/>
<ellipse cx="1249.2" cy="218.2" rx="10.5" ry="8.8" fill="#646464" opacity="0.78"/>
<ellipse cx="1283.8" cy="217.9" rx="10.5" ry="8.8" fill="#646464" opacity="0.78"/>
<ellipse cx="1266.8" cy="245.7" rx="10.5" ry="8.8" fill="#646464" opacity="0.78"/>
<path d="M1335.2 229.7 L1335.2 193.1 M1335.2 229.7 L1305.1 245.4 M1335.2 229.7 L1365.4 245.4" stroke="#a8a8a8" stroke-width="5" fill="none" opacity="0.85"/>
<ellipse cx="1317.8" cy="218.2" rx="10.5" ry="8.8" fill="#646464" opacity="0.78"/>
<ellipse cx="1352.2" cy="217.9" rx="10.5" ry="8.8" fill="#646464" opacity="0.78"/>
<ellipse cx="1335.2" cy="245.7" rx="10.5" ry="8.8" fill="#646464" opacity="0.78"/>
<path d="M1403.8 229.7 L1403.8 193.1 M1403.8 229.7 L1373.6 245.4 M1403.8 229.7 L1433.9 245.4" stroke="#a8a8a8" stroke-width="5" fill="none" opacity="0.85"/>
<ellipse cx="1386.2" cy="218.2" rx="10.5" ry="8.8" fill="#646464" opacity="0.78"/>
<ellipse cx="1420.8" cy="217.9" rx="10.5" ry="8.8" fill="#646464" opacity="0.78"/>
<ellipse cx="1403.8" cy="245.7" rx="10.5" ry="8.8" fill="#646464" opacity="0.78"/>
<path d="M1027 286.1 L1027 249.5 M1027 286.1 L996.9 301.8 M1027 286.1 L1057.1 301.8" stroke="#a8a8a8" stroke-width="5" fill="none" opacity="0.85"/>
<ellipse cx="1009.5" cy="274.6" rx="10.5" ry="8.8" fill="#646464" opacity="0.78"/>
<ellipse cx="1044" cy="274.3" rx="10.5" ry="8.8" fill="#646464" opacity="0.78"/>
<ellipse cx="1027" cy="302.1" rx="10.5" ry="8.8" fill="#646464" opacity="0.78"/>
<path d="M1095.5 286.1 L1095.5 249.5 M1095.5 286.1 L1065.4 301.8 M1095.5 286.1 L1125.6 301.8" stroke="#a8a8a8" stroke-width="5" fill="none" opacity="0.85"/>
<ellipse cx="1078" cy="274.6" rx="10.5" ry="8.8" fill="#646464" opacity="0.78"/>
<ellipse cx="1112.5" cy="274.3" rx="10.5" ry="8.8" fill="#646464" opacity="0.78"/>
<ellipse cx="1095.5" cy="302.1" rx="10.5" ry="8.8" fill="#646464" opacity="0.78"/>
<path d="M1164 286.1 L1164 249.5 M1164 286.1 L1133.9 301.8 M1164 286.1 L1194.1 301.8" stroke="#a8a8a8" stroke-width="5" fill="none" opacity="0.85"/>
<ellipse cx="1146.5" cy="274.6" rx="10.5" ry="8.8" fill="#646464" opacity="0.78"/>
<ellipse cx="1181" cy="274.3" rx="10.5" ry="8.8" fill="#646464" opacity="0.78"/>
<ellipse cx="1164" cy="302.1" rx="10.5" ry="8.8" fill="#646464" opacity="0.78"/>
<path d="M1232.5 286.1 L1232.5 249.5 M1232.5 286.1 L1202.4 301.8 M1232.5 286.1 L1262.6 301.8" stroke="#a8a8a8" stroke-width="5" fill="none" opacity="0.85"/>
<ellipse cx="1215" cy="274.6" rx="10.5" ry="8.8" fill="#646464" opacity="0.78"/>
<ellipse cx="1249.5" cy="274.3" rx="10.5" ry="8.8" fill="#646464" opacity="0.78"/>
<ellipse cx="1232.5" cy="302.1" rx="10.5" ry="8.8" fill="#646464" opacity="0.78"/>
<path d="M1301 286.1 L1301 249.5 M1301 286.1 L1270.9 301.8 M1301 286.1 L1331.1 301.8" stroke="#a8a8a8" stroke-width="5" fill="none" opacity="0.85"/>
<ellipse cx="1283.5" cy="274.6" rx="10.5" ry="8.8" fill="#646464" opacity="0.78"/>
<ellipse cx="1318" cy="274.3" rx="10.5" ry="8.8" fill="#646464" opacity="0.78"/>
<ellipse cx="1301" cy="302.1" rx="10.5" ry="8.8" fill="#646464" opacity="0.78"/>
<path d="M1369.5 286.1 L1369.5 249.5 M1369.5 286.1 L1339.4 301.8 M1369.5 286.1 L1399.6 301.8" stroke="#a8a8a8" stroke-width="5" fill="none" opacity="0.85"/>
<ellipse cx="1352" cy="274.6" rx="10.5" ry="8.8" fill="#646464" opacity="0.78"/>
<ellipse cx="1386.5" cy="274.3" rx="10.5" ry="8.8" fill="#646464" opacity="0.78"/>
<ellipse cx="1369.5" cy="302.1" rx="10.5" ry="8.8" fill="#646464" opacity="0.78"/>
</g>
</g>
<rect x="1240.3" y="210.8" width="120.5" height="55" fill="#000"/>
<text x="1244.4" y="245.9" font-size="34.3" fill="#fff">200 nm</text>
<rect x="1287.2" y="253.9" width="32.9" height="7.2" fill="#fff"/>
<clipPath id="clipe"><rect x="1047.5" y="301.4" width="294.1" height="292.6"/></clipPath>
<g clip-path="url(#clipe)">
<path d="M1047.5 538.4 L1048.3 534.8 L1049.1 546 L1049.9 542.4 L1050.7 544.3 L1051.5 544.5 L1052.3 543.3 L1053.1 541.8 L1053.9 540.9 L1054.7 539.6 L1055.5 539.8 L1056.3 537.8 L1057.1 539.4 L1057.9 536.3 L1058.7 538.9 L1059.5 531.7 L1060.3 536.3 L1061.1 535.1 L1061.9 535.2 L1062.7 534.4 L1063.5 532.5 L1064.3 531.6 L1065.1 532.1 L1065.9 530.5 L1066.7 529.6 L1067.5 528.7 L1068.3 529.2 L1069.1 528.6 L1069.9 527.9 L1070.7 526.2 L1071.5 526.7 L1072.3 525.5 L1073.1 524.4 L1073.9 523.3 L1074.7 523.5 L1075.5 523.4 L1076.3 522.4 L1077.1 521.6 L1077.9 520.3 L1078.7 520.2 L1079.5 519.2 L1080.3 519 L1081.1 518.8 L1081.9 517.9 L1082.7 518.3 L1083.5 517.8 L1084.3 517 L1085.1 517.5 L1085.9 517.4 L1086.7 517.2 L1087.5 516.8 L1088.3 515.9 L1089.1 516.2 L1089.9 515.6 L1090.7 515 L1091.5 515 L1092.3 513.9 L1093.1 513.8 L1093.9 512.9 L1094.7 512.2 L1095.5 512.7 L1096.3 512.1 L1097.1 511.6 L1097.9 511.6 L1098.7 511.9 L1099.5 511.1 L1100.3 510.8 L1101.1 510.8 L1101.9 510.4 L1102.7 509.4 L1103.5 510.7 L1104.3 511.9 L1105.1 512.1 L1105.9 511.7 L1106.7 512.3 L1107.5 512.7 L1108.3 512.1 L1109.1 512.5 L1109.9 511.3 L1110.7 513.5 L1111.5 512.7 L1112.3 514.5 L1113.1 514.6 L1113.9 515.4 L1114.7 515.4 L1115.5 513.4 L1116.3 514 L1117.1 514.4 L1117.9 514.7 L1118.7 514.4 L1119.5 515.5 L1120.3 514.8 L1121.1 514.9 L1121.9 513.9 L1122.7 512.7 L1123.5 511.4 L1124.3 509 L1125.1 507.5 L1125.9 505.9 L1126.7 502.6 L1127.5 500.4 L1128.3 497.7 L1129.1 494.9 L1129.9 492.2 L1130.7 489.6 L1131.5 487.2 L1132.3 485.2 L1133.1 481.1 L1133.9 479.3 L1134.7 476.4 L1135.5 474.7 L1136.3 472.2 L1137.1 468.7 L1137.9 466.3 L1138.7 464.6 L1139.5 461.4 L1140.3 458.9 L1141.1 456.4 L1141.9 454.2 L1142.7 452.5 L1143.5 450.3 L1144.3 447.7 L1145.1 444.9 L1145.9 441.5 L1146.7 437.1 L1147.5 434.1 L1148.3 430.8 L1149.1 427.1 L1149.9 424 L1150.7 420.4 L1151.5 417.9 L1152.3 413.1 L1153.1 411.8 L1153.9 409.1 L1154.7 405.3 L1155.5 402.8 L1156.3 399 L1157.1 396.2 L1157.9 392.9 L1158.7 390.5 L1159.5 388.9 L1160.3 388 L1161.1 387 L1161.9 386 L1162.7 385.1 L1163.5 384.1 L1164.3 383.2 L1165.1 382.1 L1165.9 381.5 L1166.7 381.7 L1167.5 381.4 L1168.3 380 L1169.1 379.3 L1169.9 380.2 L1170.7 379.6 L1171.5 377.8 L1172.3 377.9 L1173.1 377.3 L1173.9 376.4 L1174.7 375.7 L1175.5 375.8 L1176.3 374.9 L1177.1 374 L1177.9 371.8 L1178.7 372.6 L1179.5 371.3 L1180.3 371 L1181.1 369.7 L1181.9 368.8 L1182.7 367.9 L1183.5 367.2 L1184.3 365.8 L1185.1 365.4 L1185.9 364.9 L1186.7 364.3 L1187.5 363.9 L1188.3 364 L1189.1 364.5 L1189.9 365.1 L1190.7 364.9 L1191.5 364.9 L1192.3 365.1 L1193.1 366.6 L1193.9 368.5 L1194.7 369.6 L1195.5 369.9 L1196.3 371.3 L1197.1 371.6 L1197.9 372.5 L1198.7 372.9 L1199.5 374.1 L1200.3 374.8 L1201.1 374.3 L1201.9 374.4 L1202.7 374.2 L1203.5 374 L1204.3 374.9 L1205.1 374.4 L1205.9 373.8 L1206.7 373 L1207.5 371.8 L1208.3 372.7 L1209.1 372.3 L1209.9 372.1 L1210.7 372.2 L1211.5 371.7 L1212.3 371.1 L1213.1 370.7 L1213.9 369.8 L1214.7 369.1 L1215.5 369.1 L1216.3 368.3 L1217.1 368.7 L1217.9 368.2 L1218.7 367.6 L1219.5 366.8 L1220.3 366.7 L1221.1 364.9 L1221.9 364.6 L1222.7 365.1 L1223.5 364.3 L1224.3 363.4 L1225.1 363.1 L1225.9 361.5 L1226.7 361.1 L1227.5 359.4 L1228.3 358.7 L1229.1 357.1 L1229.9 356.3 L1230.7 355 L1231.5 354.3 L1232.3 353.2 L1233.1 352 L1233.9 351.2 L1234.7 350 L1235.5 348.8 L1236.3 348.3 L1237.1 346.7 L1237.9 345.2 L1238.7 344.6 L1239.5 344.1 L1240.3 342.6 L1241.1 341.9 L1241.9 341.3 L1242.7 339.4 L1243.5 339.3 L1244.3 339.2 L1245.1 338.1 L1245.9 335.5 L1246.7 335.7 L1247.5 335.9 L1248.3 334 L1249.1 333.9 L1249.9 333.1 L1250.7 333.5 L1251.5 333.1 L1252.3 333 L1253.1 332.6 L1253.9 332.4 L1254.7 331.8 L1255.5 331.3 L1256.3 331.1 L1257.1 331.2 L1257.9 331.5 L1258.7 331.5 L1259.5 330.9 L1260.3 332.1 L1261.1 332.6 L1261.9 332.9 L1262.7 333.1 L1263.5 333.6 L1264.3 334.2 L1265.1 334.3 L1265.9 334.9 L1266.7 334.9 L1267.5 335.6 L1268.3 336.3 L1269.1 336.7 L1269.9 337.2 L1270.7 337.3 L1271.5 337.9 L1272.3 338.6 L1273.1 339.4 L1273.9 340.5 L1274.7 341.2 L1275.5 341.2 L1276.3 342.2 L1277.1 341.3 L1277.9 343.3 L1278.7 343.2 L1279.5 343.9 L1280.3 344 L1281.1 344.6 L1281.9 344.9 L1282.7 345.5 L1283.5 346.3 L1284.3 346.3 L1285.1 347.2 L1285.9 346.7 L1286.7 348.1 L1287.5 347.6 L1288.3 348 L1289.1 348.6 L1289.9 349.1 L1290.7 350.1 L1291.5 350.2 L1292.3 351 L1293.1 351.4 L1293.9 350.7 L1294.7 351.7 L1295.5 351.4 L1296.3 350.2 L1297.1 351.9 L1297.9 352.2 L1298.7 351.8 L1299.5 351.2 L1300.3 350.7 L1301.1 351.1 L1301.9 350.8 L1302.7 350 L1303.5 350 L1304.3 349.6 L1305.1 349.5 L1305.9 349.1 L1306.7 347.8 L1307.5 347.2 L1308.3 346.9 L1309.1 345.6 L1309.9 345.1 L1310.7 344.4 L1311.5 344.5 L1312.3 342.9 L1313.1 342.7 L1313.9 341.3 L1314.7 340 L1315.5 340.4 L1316.3 338.9 L1317.1 337 L1317.9 335.8 L1318.7 335.2 L1319.5 333.5 L1320.3 332.4 L1321.1 331.7 L1321.9 330.7 L1322.7 330.9 L1323.5 328.5 L1324.3 327 L1325.1 325.8 L1325.9 324 L1326.7 324.3 L1327.5 321 L1328.3 319.8 L1329.1 319 L1329.9 317.5 L1330.7 314.3 L1331.5 313.7 L1332.3 310.5 L1333.1 309.5 L1333.9 306.6 L1334.7 304.2 L1335.5 304.6 L1336.3 303.2 L1337.1 299.3 L1337.9 299 L1338.7 296.1 L1339.5 295.6 L1340.3 293.1 L1340.3 301.6 L1339.5 302.9 L1338.7 304.8 L1337.9 306.3 L1337.1 307 L1336.3 311.3 L1335.5 312.4 L1334.7 312.8 L1333.9 313.2 L1333.1 316.7 L1332.3 317.4 L1331.5 320.9 L1330.7 323.9 L1329.9 323.7 L1329.1 324 L1328.3 325.6 L1327.5 326.6 L1326.7 328.9 L1325.9 329.6 L1325.1 331.2 L1324.3 332.2 L1323.5 334.4 L1322.7 336 L1321.9 335.7 L1321.1 338.1 L1320.3 338.7 L1319.5 339.6 L1318.7 339.5 L1317.9 341.7 L1317.1 343.4 L1316.3 342.2 L1315.5 345.4 L1314.7 344.4 L1313.9 345.9 L1313.1 348.3 L1312.3 347.6 L1311.5 348.1 L1310.7 348 L1309.9 349.1 L1309.1 349.3 L1308.3 349.7 L1307.5 350.6 L1306.7 351.8 L1305.9 351.8 L1305.1 352.2 L1304.3 352.4 L1303.5 352.9 L1302.7 353 L1301.9 353 L1301.1 354.2 L1300.3 354.5 L1299.5 354.7 L1298.7 354.8 L1297.9 354.3 L1297.1 355.4 L1296.3 354.9 L1295.5 354.6 L1294.7 354.4 L1293.9 353.7 L1293.1 353.4 L1292.3 354.5 L1291.5 353.3 L1290.7 353 L1289.9 352.1 L1289.1 351.5 L1288.3 351.4 L1287.5 350.6 L1286.7 350.5 L1285.9 350.4 L1285.1 350 L1284.3 349 L1283.5 349.1 L1282.7 348.6 L1281.9 348.7 L1281.1 347.2 L1280.3 347.4 L1279.5 346.5 L1278.7 346.5 L1277.9 346.5 L1277.1 344.9 L1276.3 344.8 L1275.5 344.3 L1274.7 343.2 L1273.9 343.2 L1273.1 342.8 L1272.3 342.7 L1271.5 340.9 L1270.7 341.6 L1269.9 340.3 L1269.1 339.5 L1268.3 339.1 L1267.5 338.2 L1266.7 338.7 L1265.9 337.1 L1265.1 338.1 L1264.3 336.3 L1263.5 335.9 L1262.7 336.3 L1261.9 337.5 L1261.1 335.7 L1260.3 335.3 L1259.5 334.9 L1258.7 335.4 L1257.9 335.4 L1257.1 334 L1256.3 333.7 L1255.5 334.7 L1254.7 334.8 L1253.9 335.3 L1253.1 335.6 L1252.3 335.4 L1251.5 336.9 L1250.7 337.2 L1249.9 336.2 L1249.1 337.4 L1248.3 337.3 L1247.5 338.4 L1246.7 338.4 L1245.9 340.1 L1245.1 340.7 L1244.3 342 L1243.5 342.2 L1242.7 343.3 L1241.9 343.8 L1241.1 344.6 L1240.3 345.9 L1239.5 346.8 L1238.7 347.9 L1237.9 348.8 L1237.1 349.4 L1236.3 350.6 L1235.5 352.4 L1234.7 352.6 L1233.9 354.5 L1233.1 354.9 L1232.3 356.8 L1231.5 357.1 L1230.7 357.9 L1229.9 359 L1229.1 360.5 L1228.3 361.3 L1227.5 363.2 L1226.7 363.2 L1225.9 364.8 L1225.1 365.1 L1224.3 367.3 L1223.5 367.2 L1222.7 367.5 L1221.9 367.7 L1221.1 368.4 L1220.3 369 L1219.5 369.7 L1218.7 370.4 L1217.9 370.3 L1217.1 370.9 L1216.3 371.5 L1215.5 371.7 L1214.7 372.2 L1213.9 373.2 L1213.1 373.4 L1212.3 374.1 L1211.5 374.8 L1210.7 374.7 L1209.9 374.9 L1209.1 376 L1208.3 375.7 L1207.5 375.8 L1206.7 377.2 L1205.9 376.3 L1205.1 377.2 L1204.3 378.5 L1203.5 377.7 L1202.7 377.7 L1201.9 377.5 L1201.1 377.5 L1200.3 377 L1199.5 377.1 L1198.7 376.6 L1197.9 375.7 L1197.1 374.2 L1196.3 374.6 L1195.5 372.7 L1194.7 372.1 L1193.9 371 L1193.1 369.1 L1192.3 368.5 L1191.5 367.9 L1190.7 367.8 L1189.9 367.2 L1189.1 366.5 L1188.3 366.6 L1187.5 366.6 L1186.7 367 L1185.9 367.4 L1185.1 368.4 L1184.3 370.4 L1183.5 370.1 L1182.7 371.2 L1181.9 372.1 L1181.1 372 L1180.3 373.1 L1179.5 374.3 L1178.7 375.1 L1177.9 375.6 L1177.1 376.9 L1176.3 377.9 L1175.5 378.7 L1174.7 378.5 L1173.9 379.3 L1173.1 381.3 L1172.3 380.5 L1171.5 381.3 L1170.7 382.5 L1169.9 382.9 L1169.1 383 L1168.3 383.2 L1167.5 384.1 L1166.7 383.7 L1165.9 384.1 L1165.1 385 L1164.3 386 L1163.5 386.4 L1162.7 387.6 L1161.9 388.7 L1161.1 390.1 L1160.3 390 L1159.5 391.3 L1158.7 393.3 L1157.9 395.5 L1157.1 398.6 L1156.3 402.2 L1155.5 405.7 L1154.7 408 L1153.9 411 L1153.1 415.1 L1152.3 418.5 L1151.5 420.9 L1150.7 423.7 L1149.9 427.4 L1149.1 429.7 L1148.3 434 L1147.5 436.6 L1146.7 440.4 L1145.9 444 L1145.1 447.4 L1144.3 450 L1143.5 452.9 L1142.7 455.1 L1141.9 456.8 L1141.1 460.1 L1140.3 462.4 L1139.5 464.3 L1138.7 467 L1137.9 468.9 L1137.1 471.8 L1136.3 474.1 L1135.5 476.8 L1134.7 479.7 L1133.9 482.8 L1133.1 484.7 L1132.3 488 L1131.5 489.9 L1130.7 492.7 L1129.9 495.2 L1129.1 498.8 L1128.3 500.9 L1127.5 503.1 L1126.7 506.1 L1125.9 509.2 L1125.1 510.5 L1124.3 511.8 L1123.5 513.8 L1122.7 515.5 L1121.9 517.1 L1121.1 517.3 L1120.3 518.4 L1119.5 517.4 L1118.7 518.1 L1117.9 517.8 L1117.1 517.5 L1116.3 518.3 L1115.5 518.2 L1114.7 517.7 L1113.9 518.4 L1113.1 517.7 L1112.3 517 L1111.5 517.2 L1110.7 516.6 L1109.9 516.3 L1109.1 516.7 L1108.3 515.7 L1107.5 514.9 L1106.7 515.2 L1105.9 515 L1105.1 513.9 L1104.3 514 L1103.5 513.8 L1102.7 513.5 L1101.9 513.2 L1101.1 513.5 L1100.3 513.9 L1099.5 514 L1098.7 514.5 L1097.9 514 L1097.1 514.4 L1096.3 514.4 L1095.5 514.7 L1094.7 515.1 L1093.9 516 L1093.1 516.3 L1092.3 517.1 L1091.5 517.2 L1090.7 517.6 L1089.9 519.4 L1089.1 518.4 L1088.3 519.3 L1087.5 520.7 L1086.7 519.9 L1085.9 519.6 L1085.1 520.2 L1084.3 520.5 L1083.5 520.8 L1082.7 522.1 L1081.9 521.1 L1081.1 521.7 L1080.3 522.1 L1079.5 522.7 L1078.7 523 L1077.9 524.5 L1077.1 525.4 L1076.3 526 L1075.5 526.9 L1074.7 526.5 L1073.9 528.1 L1073.1 528.5 L1072.3 529.9 L1071.5 529.5 L1070.7 530.2 L1069.9 533.1 L1069.1 532 L1068.3 534.2 L1067.5 533.7 L1066.7 535.5 L1065.9 535.3 L1065.1 537 L1064.3 538.9 L1063.5 537.9 L1062.7 542.6 L1061.9 543.3 L1061.1 543.3 L1060.3 547.5 L1059.5 543.7 L1058.7 548.1 L1057.9 546.8 L1057.1 549.4 L1056.3 552.6 L1055.5 551.6 L1054.7 554.6 L1053.9 560.5 L1053.1 562.9 L1052.3 563.9 L1051.5 569.1 L1050.7 569.8 L1049.9 577 L1049.1 572.9 L1048.3 571.4 L1047.5 587.7 Z" fill="#050505" stroke="#050505" stroke-width="1.7" stroke-linejoin="round"/>
<path d="M1047.5 537.2 L1048.3 545.1 L1049.1 537.6 L1049.9 539.8 L1050.7 540.1 L1051.5 538.7 L1052.3 541.8 L1053.1 538.2 L1053.9 540.6 L1054.7 540.4 L1055.5 537.9 L1056.3 538.1 L1057.1 539.6 L1057.9 536.8 L1058.7 537.8 L1059.5 534.5 L1060.3 531.6 L1061.1 534 L1061.9 532.1 L1062.7 533.8 L1063.5 531.9 L1064.3 532.6 L1065.1 531 L1065.9 531.3 L1066.7 530.6 L1067.5 528.5 L1068.3 528.6 L1069.1 528.2 L1069.9 527.2 L1070.7 526.2 L1071.5 525.5 L1072.3 525.4 L1073.1 523.8 L1073.9 523.4 L1074.7 522.9 L1075.5 522.4 L1076.3 520.9 L1077.1 520.7 L1077.9 521 L1078.7 519.4 L1079.5 518.5 L1080.3 518.7 L1081.1 517.6 L1081.9 518.1 L1082.7 517.2 L1083.5 517.2 L1084.3 517.2 L1085.1 516.2 L1085.9 516.3 L1086.7 515.1 L1087.5 515 L1088.3 515.8 L1089.1 514.8 L1089.9 513.7 L1090.7 514 L1091.5 514.5 L1092.3 513.4 L1093.1 513.8 L1093.9 511.4 L1094.7 511 L1095.5 511.1 L1096.3 511 L1097.1 509.5 L1097.9 511.1 L1098.7 510.4 L1099.5 509.5 L1100.3 509 L1101.1 510.2 L1101.9 508.5 L1102.7 508.8 L1103.5 509.8 L1104.3 510.5 L1105.1 511 L1105.9 511 L1106.7 510.4 L1107.5 511.1 L1108.3 512 L1109.1 513 L1109.9 511.7 L1110.7 513.2 L1111.5 512.8 L1112.3 514.1 L1113.1 513.2 L1113.9 513.9 L1114.7 513.8 L1115.5 513.9 L1116.3 513.9 L1117.1 513.8 L1117.9 513.1 L1118.7 514.8 L1119.5 514.4 L1120.3 514.8 L1121.1 512.5 L1121.9 512.5 L1122.7 512.1 L1123.5 510.5 L1124.3 508.8 L1125.1 507 L1125.9 504.8 L1126.7 501.2 L1127.5 499.6 L1128.3 498 L1129.1 494.1 L1129.9 491.6 L1130.7 489 L1131.5 486.6 L1132.3 484.3 L1133.1 480.9 L1133.9 478.6 L1134.7 477.1 L1135.5 474.8 L1136.3 471 L1137.1 469.1 L1137.9 466.6 L1138.7 463.9 L1139.5 461 L1140.3 458.9 L1141.1 457.2 L1141.9 454.1 L1142.7 452.2 L1143.5 449.7 L1144.3 447.3 L1145.1 445.5 L1145.9 442.6 L1146.7 439.2 L1147.5 435.1 L1148.3 432.9 L1149.1 428.7 L1149.9 426 L1150.7 422.8 L1151.5 419.7 L1152.3 416.2 L1153.1 413.2 L1153.9 410.3 L1154.7 407.2 L1155.5 404.2 L1156.3 400.7 L1157.1 397 L1157.9 396.3 L1158.7 394 L1159.5 391.6 L1160.3 391.1 L1161.1 388.8 L1161.9 388.9 L1162.7 387.1 L1163.5 386.2 L1164.3 385.2 L1165.1 385.9 L1165.9 385 L1166.7 383.5 L1167.5 384.3 L1168.3 383.9 L1169.1 382.8 L1169.9 381.7 L1170.7 382.3 L1171.5 381.7 L1172.3 381.1 L1173.1 379.9 L1173.9 378.9 L1174.7 379 L1175.5 377 L1176.3 377.2 L1177.1 376.3 L1177.9 376.1 L1178.7 374.8 L1179.5 372.9 L1180.3 373.7 L1181.1 373.3 L1181.9 372.1 L1182.7 371.2 L1183.5 370.1 L1184.3 368.9 L1185.1 368.7 L1185.9 367.9 L1186.7 366.7 L1187.5 366.1 L1188.3 366.1 L1189.1 366.1 L1189.9 366.7 L1190.7 366.2 L1191.5 367.6 L1192.3 368 L1193.1 368.8 L1193.9 370.1 L1194.7 372.2 L1195.5 372.4 L1196.3 373.9 L1197.1 374.1 L1197.9 376.2 L1198.7 376.9 L1199.5 375.7 L1200.3 377.3 L1201.1 376.9 L1201.9 377.6 L1202.7 377.3 L1203.5 376.8 L1204.3 375.5 L1205.1 375.6 L1205.9 374.8 L1206.7 375.1 L1207.5 375.4 L1208.3 375.4 L1209.1 376.1 L1209.9 376.2 L1210.7 375.2 L1211.5 374.5 L1212.3 373.3 L1213.1 372.5 L1213.9 372.2 L1214.7 371.8 L1215.5 371.3 L1216.3 371.1 L1217.1 371.9 L1217.9 371.1 L1218.7 370.7 L1219.5 369 L1220.3 368.9 L1221.1 368.7 L1221.9 367.6 L1222.7 366.2 L1223.5 366.6 L1224.3 366.8 L1225.1 365 L1225.9 364 L1226.7 364.2 L1227.5 363.2 L1228.3 361.7 L1229.1 361 L1229.9 359 L1230.7 358 L1231.5 357 L1232.3 355.7 L1233.1 355.6 L1233.9 354.6 L1234.7 352.9 L1235.5 352.4 L1236.3 350.6 L1237.1 349.8 L1237.9 349.4 L1238.7 347.6 L1239.5 347.2 L1240.3 346.5 L1241.1 344.6 L1241.9 344.1 L1242.7 343.5 L1243.5 341.6 L1244.3 340.8 L1245.1 341.4 L1245.9 339.6 L1246.7 338.9 L1247.5 339.5 L1248.3 337.4 L1249.1 337.6 L1249.9 337.8 L1250.7 336.8 L1251.5 336.9 L1252.3 337 L1253.1 337 L1253.9 336.6 L1254.7 335.1 L1255.5 335.5 L1256.3 336.4 L1257.1 335.4 L1257.9 336.6 L1258.7 336.6 L1259.5 335.8 L1260.3 335.6 L1261.1 335.6 L1261.9 336.5 L1262.7 337.2 L1263.5 338.1 L1264.3 337.6 L1265.1 338.6 L1265.9 338.4 L1266.7 338.7 L1267.5 338.4 L1268.3 340.2 L1269.1 339.4 L1269.9 340 L1270.7 340.8 L1271.5 341.6 L1272.3 342.1 L1273.1 342.5 L1273.9 343.1 L1274.7 343.8 L1275.5 344.7 L1276.3 346.5 L1277.1 346 L1277.9 347 L1278.7 347.9 L1279.5 347 L1280.3 347.5 L1281.1 348.5 L1281.9 348.9 L1282.7 349.2 L1283.5 350.3 L1284.3 350.5 L1285.1 351 L1285.9 352.2 L1286.7 351 L1287.5 352.9 L1288.3 352.7 L1289.1 353.4 L1289.9 353.3 L1290.7 352.6 L1291.5 353.9 L1292.3 353.5 L1293.1 355.1 L1293.9 355.2 L1294.7 354.2 L1295.5 354.3 L1296.3 354.8 L1297.1 354.2 L1297.9 354.5 L1298.7 354.9 L1299.5 354.6 L1300.3 354.9 L1301.1 353.3 L1301.9 353.9 L1302.7 354 L1303.5 354.9 L1304.3 354.2 L1305.1 352.3 L1305.9 352.6 L1306.7 352.4 L1307.5 352.7 L1308.3 351.3 L1309.1 350.5 L1309.9 349.9 L1310.7 348.8 L1311.5 348.5 L1312.3 347.9 L1313.1 347 L1313.9 344.9 L1314.7 345.2 L1315.5 341.4 L1316.3 343 L1317.1 341.2 L1317.9 340.6 L1318.7 338.1 L1319.5 338.8 L1320.3 338.1 L1321.1 336.7 L1321.9 336.1 L1322.7 333 L1323.5 330.8 L1324.3 331.5 L1325.1 327.8 L1325.9 328.5 L1326.7 325.7 L1327.5 324.9 L1328.3 324.6 L1329.1 320.8 L1329.9 319.3 L1330.7 317.3 L1331.5 314.6 L1332.3 316.8 L1333.1 312.7 L1333.9 308.8 L1334.7 310.6 L1335.5 308.5 L1336.3 305.2 L1337.1 303.2 L1337.9 303.1 L1338.7 301.8 L1339.5 295.3 L1340.3 299.7 L1340.3 311.5 L1339.5 310.3 L1338.7 313.1 L1337.9 316.2 L1337.1 314.4 L1336.3 318.2 L1335.5 317.8 L1334.7 322.2 L1333.9 321.8 L1333.1 327.7 L1332.3 327.3 L1331.5 328.8 L1330.7 328.7 L1329.9 329.4 L1329.1 331.6 L1328.3 335.8 L1327.5 336.2 L1326.7 338.5 L1325.9 336.2 L1325.1 339.2 L1324.3 341.4 L1323.5 342.8 L1322.7 342.1 L1321.9 344.1 L1321.1 346 L1320.3 344.2 L1319.5 347.1 L1318.7 347.7 L1317.9 347.5 L1317.1 348.2 L1316.3 349.1 L1315.5 351.9 L1314.7 350.9 L1313.9 353.7 L1313.1 353.7 L1312.3 355 L1311.5 354.9 L1310.7 355.9 L1309.9 356.1 L1309.1 355.9 L1308.3 356.2 L1307.5 358.4 L1306.7 357.4 L1305.9 359.2 L1305.1 359.9 L1304.3 359 L1303.5 360.7 L1302.7 360.3 L1301.9 359.1 L1301.1 361 L1300.3 359.6 L1299.5 359.4 L1298.7 359.7 L1297.9 360 L1297.1 361.1 L1296.3 360.6 L1295.5 360.9 L1294.7 360.1 L1293.9 359 L1293.1 358.9 L1292.3 359.7 L1291.5 358 L1290.7 358.4 L1289.9 359.4 L1289.1 358.2 L1288.3 358.8 L1287.5 356.1 L1286.7 355.6 L1285.9 356.1 L1285.1 355 L1284.3 355.1 L1283.5 354 L1282.7 355.3 L1281.9 353.5 L1281.1 354.2 L1280.3 352.2 L1279.5 352 L1278.7 352.4 L1277.9 352.4 L1277.1 350.5 L1276.3 351.3 L1275.5 349.5 L1274.7 348.5 L1273.9 349.6 L1273.1 348 L1272.3 347.4 L1271.5 347.2 L1270.7 345.8 L1269.9 346.4 L1269.1 344.9 L1268.3 344.6 L1267.5 344.6 L1266.7 343.4 L1265.9 342.8 L1265.1 342 L1264.3 341.6 L1263.5 342.2 L1262.7 341.7 L1261.9 340.7 L1261.1 341.6 L1260.3 341.1 L1259.5 341.6 L1258.7 341.3 L1257.9 341 L1257.1 340.5 L1256.3 341.9 L1255.5 340.5 L1254.7 341.2 L1253.9 340.9 L1253.1 341.3 L1252.3 341.1 L1251.5 341.5 L1250.7 341.3 L1249.9 341.1 L1249.1 342 L1248.3 342.1 L1247.5 342.9 L1246.7 343.8 L1245.9 345.7 L1245.1 345.8 L1244.3 346.7 L1243.5 346.8 L1242.7 348.6 L1241.9 349.1 L1241.1 350.1 L1240.3 351.5 L1239.5 352.3 L1238.7 352.5 L1237.9 353.5 L1237.1 354.9 L1236.3 357 L1235.5 357.7 L1234.7 358.8 L1233.9 358.5 L1233.1 359.4 L1232.3 361.8 L1231.5 362.4 L1230.7 363 L1229.9 364 L1229.1 364.7 L1228.3 366.3 L1227.5 366.9 L1226.7 369 L1225.9 368.7 L1225.1 369.5 L1224.3 370.3 L1223.5 372 L1222.7 372.8 L1221.9 374 L1221.1 374.4 L1220.3 374.6 L1219.5 373.9 L1218.7 374.4 L1217.9 375.7 L1217.1 376.2 L1216.3 376.4 L1215.5 376.8 L1214.7 378 L1213.9 378.6 L1213.1 379 L1212.3 378.4 L1211.5 379.3 L1210.7 379 L1209.9 380.7 L1209.1 380.1 L1208.3 380.4 L1207.5 380.8 L1206.7 380.9 L1205.9 379.4 L1205.1 380.3 L1204.3 380.3 L1203.5 382.3 L1202.7 380.6 L1201.9 381.2 L1201.1 382.4 L1200.3 381.6 L1199.5 381.5 L1198.7 380.7 L1197.9 379.4 L1197.1 378.8 L1196.3 379.3 L1195.5 377 L1194.7 376.9 L1193.9 376.3 L1193.1 374.6 L1192.3 374.1 L1191.5 371.2 L1190.7 371.7 L1189.9 371.7 L1189.1 371.3 L1188.3 371.7 L1187.5 371.8 L1186.7 370.9 L1185.9 373 L1185.1 373.6 L1184.3 373.6 L1183.5 374.8 L1182.7 375.1 L1181.9 377 L1181.1 378.2 L1180.3 377.6 L1179.5 378.9 L1178.7 380 L1177.9 379.8 L1177.1 382.2 L1176.3 382.7 L1175.5 381.8 L1174.7 382.5 L1173.9 384.7 L1173.1 385.1 L1172.3 384.5 L1171.5 386.3 L1170.7 385.5 L1169.9 387.2 L1169.1 387.1 L1168.3 388.3 L1167.5 387.7 L1166.7 389.1 L1165.9 389.8 L1165.1 390.6 L1164.3 391.3 L1163.5 392.2 L1162.7 393.1 L1161.9 392.9 L1161.1 395.2 L1160.3 395.5 L1159.5 396.5 L1158.7 398.9 L1157.9 400.7 L1157.1 402.8 L1156.3 406.7 L1155.5 409.8 L1154.7 412.6 L1153.9 415.6 L1153.1 418 L1152.3 420.5 L1151.5 423.2 L1150.7 427.8 L1149.9 429.6 L1149.1 432.9 L1148.3 436.2 L1147.5 439.6 L1146.7 443.7 L1145.9 447.2 L1145.1 449.3 L1144.3 451.7 L1143.5 455.2 L1142.7 456.1 L1141.9 458.9 L1141.1 460.8 L1140.3 464.2 L1139.5 467.6 L1138.7 468.9 L1137.9 472.3 L1137.1 474.4 L1136.3 477 L1135.5 478.9 L1134.7 481.7 L1133.9 484.8 L1133.1 486 L1132.3 489.1 L1131.5 492.4 L1130.7 493.7 L1129.9 496.5 L1129.1 498.8 L1128.3 502.7 L1127.5 504.4 L1126.7 508.1 L1125.9 509.8 L1125.1 511.3 L1124.3 514.7 L1123.5 515.1 L1122.7 515.6 L1121.9 517.3 L1121.1 519.2 L1120.3 518.9 L1119.5 519.7 L1118.7 518.3 L1117.9 518.5 L1117.1 519.5 L1116.3 518.6 L1115.5 518.5 L1114.7 517.8 L1113.9 517.8 L1113.1 517.4 L1112.3 518.1 L1111.5 517.6 L1110.7 517.2 L1109.9 517.3 L1109.1 516.4 L1108.3 516.7 L1107.5 515.8 L1106.7 515.8 L1105.9 515.6 L1105.1 514.8 L1104.3 515.7 L1103.5 513.9 L1102.7 513.5 L1101.9 514.5 L1101.1 513.6 L1100.3 514.4 L1099.5 514.2 L1098.7 515.6 L1097.9 514.5 L1097.1 515.7 L1096.3 515.3 L1095.5 515.8 L1094.7 515.8 L1093.9 517.5 L1093.1 517.5 L1092.3 517.6 L1091.5 518.1 L1090.7 520.3 L1089.9 519.5 L1089.1 519 L1088.3 520.6 L1087.5 519.7 L1086.7 521.4 L1085.9 520.7 L1085.1 522.5 L1084.3 522.4 L1083.5 521.4 L1082.7 523.1 L1081.9 522.9 L1081.1 522.8 L1080.3 523.7 L1079.5 524.2 L1078.7 524.1 L1077.9 526 L1077.1 526.7 L1076.3 526.9 L1075.5 528.1 L1074.7 528.1 L1073.9 528.4 L1073.1 529 L1072.3 530 L1071.5 530.8 L1070.7 530.7 L1069.9 533.1 L1069.1 532.2 L1068.3 533 L1067.5 536 L1066.7 535.7 L1065.9 538.1 L1065.1 537.3 L1064.3 539.5 L1063.5 540.9 L1062.7 542.2 L1061.9 543.4 L1061.1 543.4 L1060.3 543.1 L1059.5 546.6 L1058.7 549.9 L1057.9 548.6 L1057.1 549.1 L1056.3 551.8 L1055.5 552.6 L1054.7 560.1 L1053.9 562.5 L1053.1 561 L1052.3 563 L1051.5 563.5 L1050.7 564.1 L1049.9 574.6 L1049.1 574 L1048.3 583.6 L1047.5 584.4 Z" fill="#ee1010" stroke="#ee1010" stroke-width="1.7" stroke-linejoin="round"/>
<path d="M1047.5 523.8 L1048.3 522.9 L1049.1 534.1 L1049.9 531.5 L1050.7 526.8 L1051.5 528.7 L1052.3 539.6 L1053.1 538.7 L1053.9 540.2 L1054.7 536.4 L1055.5 539.4 L1056.3 536 L1057.1 534.6 L1057.9 536.7 L1058.7 532.8 L1059.5 534.4 L1060.3 536.4 L1061.1 533.3 L1061.9 533.5 L1062.7 529.9 L1063.5 532.1 L1064.3 530.3 L1065.1 530.6 L1065.9 528.8 L1066.7 529 L1067.5 528 L1068.3 528.4 L1069.1 527.9 L1069.9 526.9 L1070.7 525.4 L1071.5 524.8 L1072.3 524.7 L1073.1 523.6 L1073.9 523.1 L1074.7 523.1 L1075.5 522.8 L1076.3 521.5 L1077.1 521.1 L1077.9 520.8 L1078.7 520.5 L1079.5 519.5 L1080.3 518.9 L1081.1 517.8 L1081.9 517.5 L1082.7 517.7 L1083.5 516.9 L1084.3 517 L1085.1 517 L1085.9 516.4 L1086.7 516.1 L1087.5 516.2 L1088.3 515.8 L1089.1 515 L1089.9 515.4 L1090.7 514.3 L1091.5 513.7 L1092.3 513 L1093.1 512.7 L1093.9 512.1 L1094.7 511.8 L1095.5 512.2 L1096.3 511.4 L1097.1 511.4 L1097.9 510.9 L1098.7 511 L1099.5 510.4 L1100.3 510.4 L1101.1 510.6 L1101.9 509.5 L1102.7 510.5 L1103.5 510.1 L1104.3 510.4 L1105.1 509.6 L1105.9 511.4 L1106.7 511.5 L1107.5 512.7 L1108.3 512.9 L1109.1 513.1 L1109.9 513.5 L1110.7 514 L1111.5 514.3 L1112.3 512.6 L1113.1 514.9 L1113.9 514.1 L1114.7 514.5 L1115.5 514.7 L1116.3 514.5 L1117.1 515.1 L1117.9 514.3 L1118.7 514.5 L1119.5 514.6 L1120.3 514.7 L1121.1 513.6 L1121.9 513 L1122.7 512.1 L1123.5 510.7 L1124.3 510 L1125.1 508.9 L1125.9 506.7 L1126.7 504.6 L1127.5 502 L1128.3 498.4 L1129.1 496 L1129.9 493.2 L1130.7 490.8 L1131.5 488.6 L1132.3 486.8 L1133.1 483.7 L1133.9 480.5 L1134.7 478.3 L1135.5 476.2 L1136.3 473.7 L1137.1 471.6 L1137.9 469.2 L1138.7 466.9 L1139.5 463.2 L1140.3 461.3 L1141.1 459.5 L1141.9 456.9 L1142.7 455 L1143.5 452.5 L1144.3 449.5 L1145.1 447.2 L1145.9 444.7 L1146.7 441.1 L1147.5 439.3 L1148.3 436.1 L1149.1 433.9 L1149.9 431.5 L1150.7 428.2 L1151.5 424.9 L1152.3 420.4 L1153.1 418 L1153.9 414.8 L1154.7 413.2 L1155.5 409.9 L1156.3 407.7 L1157.1 405.1 L1157.9 403.9 L1158.7 402 L1159.5 400.2 L1160.3 400 L1161.1 398.4 L1161.9 398.3 L1162.7 396.9 L1163.5 395.7 L1164.3 396.3 L1165.1 396.5 L1165.9 395.7 L1166.7 396.3 L1167.5 395.9 L1168.3 395.4 L1169.1 394.7 L1169.9 395.4 L1170.7 394.2 L1171.5 394 L1172.3 393.1 L1173.1 393.5 L1173.9 393.3 L1174.7 392.3 L1175.5 391 L1176.3 390.3 L1177.1 389.9 L1177.9 389.2 L1178.7 388.9 L1179.5 387.1 L1180.3 386 L1181.1 386 L1181.9 384.9 L1182.7 382.2 L1183.5 380.8 L1184.3 382.1 L1185.1 380.2 L1185.9 380.6 L1186.7 380.1 L1187.5 380.6 L1188.3 379.8 L1189.1 380.7 L1189.9 380.6 L1190.7 381.6 L1191.5 381 L1192.3 382 L1193.1 384.3 L1193.9 384.3 L1194.7 387 L1195.5 387.4 L1196.3 389.7 L1197.1 390.4 L1197.9 390.1 L1198.7 391.2 L1199.5 391.1 L1200.3 392 L1201.1 391.1 L1201.9 391.8 L1202.7 391.7 L1203.5 392 L1204.3 392.2 L1205.1 392.5 L1205.9 391.3 L1206.7 391.6 L1207.5 392.1 L1208.3 391.7 L1209.1 391 L1209.9 391.1 L1210.7 390.8 L1211.5 389.9 L1212.3 389.6 L1213.1 389 L1213.9 388.7 L1214.7 388.7 L1215.5 388.2 L1216.3 388.5 L1217.1 388.1 L1217.9 387.1 L1218.7 387.6 L1219.5 387 L1220.3 386.5 L1221.1 385.7 L1221.9 385.6 L1222.7 384.9 L1223.5 383.4 L1224.3 383.3 L1225.1 381.7 L1225.9 380.9 L1226.7 380.5 L1227.5 379.6 L1228.3 378.8 L1229.1 378.2 L1229.9 376.7 L1230.7 375.9 L1231.5 374.7 L1232.3 374.6 L1233.1 373.8 L1233.9 372.1 L1234.7 371.6 L1235.5 370.4 L1236.3 368.6 L1237.1 368.3 L1237.9 367.8 L1238.7 366.2 L1239.5 365.5 L1240.3 364.3 L1241.1 363.4 L1241.9 362.9 L1242.7 362.5 L1243.5 361.4 L1244.3 360.2 L1245.1 360.4 L1245.9 359.3 L1246.7 357.9 L1247.5 357.3 L1248.3 357.6 L1249.1 356.8 L1249.9 356.5 L1250.7 356.4 L1251.5 355.7 L1252.3 356.3 L1253.1 355.4 L1253.9 356.4 L1254.7 355.4 L1255.5 355.7 L1256.3 355.9 L1257.1 355.7 L1257.9 356 L1258.7 355.7 L1259.5 356.7 L1260.3 356.4 L1261.1 356 L1261.9 355.9 L1262.7 356.9 L1263.5 357 L1264.3 356.1 L1265.1 357.3 L1265.9 358.2 L1266.7 357.8 L1267.5 358.7 L1268.3 358.8 L1269.1 359.5 L1269.9 359.8 L1270.7 360 L1271.5 360.8 L1272.3 360.5 L1273.1 361.3 L1273.9 361.7 L1274.7 362.1 L1275.5 363.3 L1276.3 362.6 L1277.1 362.8 L1277.9 362.9 L1278.7 364.2 L1279.5 365.4 L1280.3 363.1 L1281.1 366.3 L1281.9 366 L1282.7 367.2 L1283.5 366.8 L1284.3 366.9 L1285.1 367.5 L1285.9 367.5 L1286.7 367.6 L1287.5 367.6 L1288.3 369.7 L1289.1 368.8 L1289.9 369.3 L1290.7 369.4 L1291.5 369.8 L1292.3 369.8 L1293.1 369.3 L1293.9 370.4 L1294.7 370.3 L1295.5 370 L1296.3 371.5 L1297.1 371 L1297.9 372.2 L1298.7 372.2 L1299.5 371.3 L1300.3 372 L1301.1 372 L1301.9 370.8 L1302.7 370.4 L1303.5 368.2 L1304.3 370.1 L1305.1 368.2 L1305.9 369.4 L1306.7 367.7 L1307.5 367.7 L1308.3 366.9 L1309.1 367.5 L1309.9 364.2 L1310.7 363.9 L1311.5 365.4 L1312.3 363 L1313.1 360.3 L1313.9 363.4 L1314.7 361.6 L1315.5 358.9 L1316.3 361.4 L1317.1 355 L1317.9 357 L1318.7 355.2 L1319.5 355.3 L1320.3 352.5 L1321.1 354.5 L1321.9 352.5 L1322.7 354.4 L1323.5 350.5 L1324.3 346.9 L1325.1 346.1 L1325.9 340.6 L1326.7 348.9 L1327.5 348.5 L1328.3 346.8 L1329.1 345.2 L1329.9 340.5 L1330.7 340.3 L1331.5 339.2 L1332.3 338.3 L1333.1 340.1 L1333.9 335.7 L1334.7 329.8 L1335.5 329.2 L1336.3 329.4 L1337.1 330.2 L1337.9 323.1 L1338.7 325.1 L1339.5 321.8 L1340.3 323.4 L1340.3 341 L1339.5 350 L1338.7 346.9 L1337.9 343.4 L1337.1 347 L1336.3 350.8 L1335.5 350.5 L1334.7 351.4 L1333.9 354.3 L1333.1 356.8 L1332.3 358.3 L1331.5 355 L1330.7 360.3 L1329.9 356.1 L1329.1 362.2 L1328.3 360.4 L1327.5 361.8 L1326.7 359.6 L1325.9 363.6 L1325.1 363.1 L1324.3 367.1 L1323.5 363.1 L1322.7 366.3 L1321.9 367.1 L1321.1 366.1 L1320.3 369.5 L1319.5 369.2 L1318.7 367.4 L1317.9 371.6 L1317.1 370.7 L1316.3 373.1 L1315.5 373.9 L1314.7 372 L1313.9 371.8 L1313.1 372.5 L1312.3 373 L1311.5 374.1 L1310.7 375.6 L1309.9 378.1 L1309.1 374.7 L1308.3 377 L1307.5 378.6 L1306.7 376.7 L1305.9 377.8 L1305.1 379 L1304.3 377.2 L1303.5 380.4 L1302.7 377.6 L1301.9 377.8 L1301.1 378.6 L1300.3 377.7 L1299.5 378 L1298.7 379.4 L1297.9 377.2 L1297.1 376.9 L1296.3 379.7 L1295.5 376 L1294.7 376.8 L1293.9 376.4 L1293.1 375.5 L1292.3 375.3 L1291.5 375.3 L1290.7 375.2 L1289.9 375.1 L1289.1 375.3 L1288.3 373.9 L1287.5 373 L1286.7 374 L1285.9 372.5 L1285.1 373.1 L1284.3 372.7 L1283.5 370.8 L1282.7 371.6 L1281.9 371.2 L1281.1 369.6 L1280.3 369.1 L1279.5 369.2 L1278.7 368.5 L1277.9 368.7 L1277.1 367.5 L1276.3 366.9 L1275.5 367.3 L1274.7 366.3 L1273.9 365.4 L1273.1 366 L1272.3 365.4 L1271.5 364.6 L1270.7 363.7 L1269.9 364.1 L1269.1 364.1 L1268.3 362.3 L1267.5 362.2 L1266.7 361.1 L1265.9 361.7 L1265.1 360.5 L1264.3 360.5 L1263.5 359.7 L1262.7 360 L1261.9 360.5 L1261.1 360.5 L1260.3 359.6 L1259.5 359.3 L1258.7 360.4 L1257.9 359.3 L1257.1 359.6 L1256.3 360 L1255.5 359.9 L1254.7 359 L1253.9 359.5 L1253.1 359.3 L1252.3 359.1 L1251.5 359.6 L1250.7 359.8 L1249.9 360.5 L1249.1 360.6 L1248.3 361 L1247.5 361.1 L1246.7 362.9 L1245.9 362.4 L1245.1 363.6 L1244.3 364.1 L1243.5 365.1 L1242.7 365.2 L1241.9 366.3 L1241.1 367.7 L1240.3 367.6 L1239.5 368.7 L1238.7 369.7 L1237.9 370.7 L1237.1 372.6 L1236.3 372.5 L1235.5 374.3 L1234.7 374.7 L1233.9 376.8 L1233.1 376.5 L1232.3 378.4 L1231.5 378.5 L1230.7 379.6 L1229.9 381.1 L1229.1 381.9 L1228.3 382.1 L1227.5 383.3 L1226.7 384.1 L1225.9 385.5 L1225.1 385.4 L1224.3 386.9 L1223.5 387.1 L1222.7 387.4 L1221.9 388.3 L1221.1 389.5 L1220.3 389.7 L1219.5 390.2 L1218.7 390.5 L1217.9 391.4 L1217.1 391.3 L1216.3 392.1 L1215.5 391.4 L1214.7 392.4 L1213.9 392.3 L1213.1 393.3 L1212.3 393.9 L1211.5 394 L1210.7 393.9 L1209.9 393.5 L1209.1 394.1 L1208.3 394.2 L1207.5 394.6 L1206.7 394.8 L1205.9 396.1 L1205.1 395.7 L1204.3 395.2 L1203.5 395.9 L1202.7 396.2 L1201.9 395.1 L1201.1 395.3 L1200.3 395.1 L1199.5 395.2 L1198.7 393.9 L1197.9 394 L1197.1 393.6 L1196.3 392.5 L1195.5 392 L1194.7 390.5 L1193.9 390.1 L1193.1 387 L1192.3 386.7 L1191.5 385.3 L1190.7 385 L1189.9 384.7 L1189.1 384 L1188.3 383.5 L1187.5 384.3 L1186.7 383.3 L1185.9 384.7 L1185.1 385.8 L1184.3 385.7 L1183.5 386.9 L1182.7 387.5 L1181.9 388.5 L1181.1 389.6 L1180.3 390.7 L1179.5 391.2 L1178.7 392.1 L1177.9 393.4 L1177.1 393.1 L1176.3 394.6 L1175.5 394.8 L1174.7 394.9 L1173.9 396.3 L1173.1 397.2 L1172.3 396.8 L1171.5 398.4 L1170.7 398.1 L1169.9 399.1 L1169.1 399.4 L1168.3 398.3 L1167.5 399.3 L1166.7 399.8 L1165.9 399 L1165.1 399.8 L1164.3 401.1 L1163.5 400.9 L1162.7 402.3 L1161.9 401.1 L1161.1 402.8 L1160.3 403.2 L1159.5 404.6 L1158.7 405.7 L1157.9 407.9 L1157.1 408.7 L1156.3 411.5 L1155.5 414.1 L1154.7 416.3 L1153.9 418.9 L1153.1 421.7 L1152.3 425.1 L1151.5 428.3 L1150.7 431.1 L1149.9 434.6 L1149.1 438.1 L1148.3 440.8 L1147.5 442.9 L1146.7 445.3 L1145.9 447.9 L1145.1 450.5 L1144.3 454.1 L1143.5 456.4 L1142.7 457.7 L1141.9 460.7 L1141.1 463.1 L1140.3 465.8 L1139.5 466.9 L1138.7 470 L1137.9 472.1 L1137.1 474.7 L1136.3 476.8 L1135.5 481 L1134.7 482.4 L1133.9 484.4 L1133.1 489 L1132.3 489.2 L1131.5 492.3 L1130.7 495.3 L1129.9 497.3 L1129.1 499.5 L1128.3 502.2 L1127.5 505.6 L1126.7 508 L1125.9 509.7 L1125.1 512.8 L1124.3 514.5 L1123.5 514.9 L1122.7 515.6 L1121.9 516.9 L1121.1 517.4 L1120.3 519 L1119.5 518.4 L1118.7 518.2 L1117.9 518.3 L1117.1 519 L1116.3 519 L1115.5 518.3 L1114.7 518.5 L1113.9 518.2 L1113.1 517.9 L1112.3 518.3 L1111.5 517.9 L1110.7 517.3 L1109.9 518.2 L1109.1 517 L1108.3 515.5 L1107.5 516.3 L1106.7 515.4 L1105.9 515.1 L1105.1 515 L1104.3 514 L1103.5 513.5 L1102.7 513.9 L1101.9 513.1 L1101.1 513.2 L1100.3 515.6 L1099.5 513.4 L1098.7 514.7 L1097.9 515 L1097.1 514.9 L1096.3 514.8 L1095.5 516.3 L1094.7 515.5 L1093.9 515.7 L1093.1 517 L1092.3 516.9 L1091.5 516.8 L1090.7 519.9 L1089.9 518.8 L1089.1 518.5 L1088.3 519.1 L1087.5 519.2 L1086.7 519.9 L1085.9 520.7 L1085.1 521.1 L1084.3 520.8 L1083.5 521.4 L1082.7 521.8 L1081.9 521.7 L1081.1 523 L1080.3 522.9 L1079.5 522.9 L1078.7 524.8 L1077.9 526.1 L1077.1 525.3 L1076.3 525.5 L1075.5 526.4 L1074.7 528 L1073.9 528.3 L1073.1 529.2 L1072.3 531.4 L1071.5 530.5 L1070.7 533 L1069.9 531.6 L1069.1 533.4 L1068.3 535.6 L1067.5 534.8 L1066.7 536.1 L1065.9 537.2 L1065.1 537.2 L1064.3 538.5 L1063.5 540.4 L1062.7 539.9 L1061.9 545.1 L1061.1 544.8 L1060.3 546.4 L1059.5 549.6 L1058.7 547.3 L1057.9 553.1 L1057.1 550.1 L1056.3 551.2 L1055.5 557.7 L1054.7 560.5 L1053.9 561.7 L1053.1 569.5 L1052.3 569.5 L1051.5 577.2 L1050.7 573 L1049.9 581.3 L1049.1 589.7 L1048.3 584.9 L1047.5 581.4 Z" fill="#1212f0" stroke="#1212f0" stroke-width="1.7" stroke-linejoin="round"/>
<path d="M1047.5 498.8 L1048.3 518.3 L1049.1 511.9 L1049.9 522.3 L1050.7 525.8 L1051.5 536.1 L1052.3 526.5 L1053.1 540.2 L1053.9 536.1 L1054.7 536.5 L1055.5 534 L1056.3 538.5 L1057.1 534.1 L1057.9 533.4 L1058.7 537.5 L1059.5 535 L1060.3 536.8 L1061.1 534.7 L1061.9 535.1 L1062.7 531.5 L1063.5 532.2 L1064.3 530.3 L1065.1 530.1 L1065.9 529.3 L1066.7 530.3 L1067.5 529.7 L1068.3 528.3 L1069.1 526.4 L1069.9 527.1 L1070.7 526.7 L1071.5 525.8 L1072.3 523.9 L1073.1 524.5 L1073.9 524.4 L1074.7 523.8 L1075.5 522.8 L1076.3 520.7 L1077.1 521.5 L1077.9 521.2 L1078.7 520.4 L1079.5 520.1 L1080.3 519.1 L1081.1 518.3 L1081.9 518.7 L1082.7 517.9 L1083.5 517.4 L1084.3 517 L1085.1 517.4 L1085.9 516.5 L1086.7 516.1 L1087.5 515.5 L1088.3 515.7 L1089.1 515 L1089.9 515.3 L1090.7 514.3 L1091.5 514 L1092.3 512.8 L1093.1 513 L1093.9 511.9 L1094.7 512.3 L1095.5 511.3 L1096.3 511.7 L1097.1 511.6 L1097.9 511.1 L1098.7 510.5 L1099.5 509.4 L1100.3 510.8 L1101.1 511.3 L1101.9 510.6 L1102.7 510.9 L1103.5 510 L1104.3 510.1 L1105.1 510.7 L1105.9 510.7 L1106.7 511.8 L1107.5 511.7 L1108.3 512.4 L1109.1 512.2 L1109.9 513.1 L1110.7 513.1 L1111.5 514.3 L1112.3 514.7 L1113.1 514.2 L1113.9 514.8 L1114.7 514.8 L1115.5 514.7 L1116.3 515.1 L1117.1 514.7 L1117.9 514.9 L1118.7 513.1 L1119.5 514.3 L1120.3 514.8 L1121.1 514.2 L1121.9 513 L1122.7 512.3 L1123.5 512.3 L1124.3 510.9 L1125.1 509.9 L1125.9 507.9 L1126.7 504.6 L1127.5 504.8 L1128.3 502.9 L1129.1 501 L1129.9 498.6 L1130.7 496.7 L1131.5 495.3 L1132.3 494.1 L1133.1 491.5 L1133.9 489.7 L1134.7 486.6 L1135.5 486.7 L1136.3 485.3 L1137.1 481.9 L1137.9 481.8 L1138.7 479.1 L1139.5 477.1 L1140.3 475.9 L1141.1 473.4 L1141.9 472.4 L1142.7 469.7 L1143.5 468.6 L1144.3 466.5 L1145.1 465 L1145.9 463.3 L1146.7 461.7 L1147.5 461.3 L1148.3 459.6 L1149.1 457.2 L1149.9 456.2 L1150.7 454 L1151.5 453 L1152.3 451.3 L1153.1 450.5 L1153.9 449.7 L1154.7 447.7 L1155.5 447.4 L1156.3 447.9 L1157.1 447 L1157.9 445.3 L1158.7 443.7 L1159.5 444.4 L1160.3 443.5 L1161.1 443.5 L1161.9 442.4 L1162.7 442.2 L1163.5 442.1 L1164.3 442.2 L1165.1 441.8 L1165.9 441.5 L1166.7 441 L1167.5 442.1 L1168.3 442.2 L1169.1 441.4 L1169.9 441.2 L1170.7 442.3 L1171.5 441.5 L1172.3 441.4 L1173.1 440.5 L1173.9 441.6 L1174.7 441.6 L1175.5 441.5 L1176.3 440.7 L1177.1 440.4 L1177.9 441.2 L1178.7 440 L1179.5 439.9 L1180.3 439.8 L1181.1 439.3 L1181.9 440.6 L1182.7 440.7 L1183.5 440.1 L1184.3 439.7 L1185.1 439.6 L1185.9 439.9 L1186.7 439.4 L1187.5 438.7 L1188.3 439.4 L1189.1 441.3 L1189.9 442.1 L1190.7 442.8 L1191.5 442.5 L1192.3 444.4 L1193.1 445.6 L1193.9 446 L1194.7 446.4 L1195.5 447.9 L1196.3 448.3 L1197.1 449.1 L1197.9 449 L1198.7 449.8 L1199.5 450.3 L1200.3 451.2 L1201.1 451 L1201.9 452.4 L1202.7 451.9 L1203.5 452.3 L1204.3 453.2 L1205.1 451.8 L1205.9 452.5 L1206.7 453.7 L1207.5 453.5 L1208.3 453.6 L1209.1 452.5 L1209.9 452.5 L1210.7 452.9 L1211.5 453.1 L1212.3 453.1 L1213.1 452.5 L1213.9 452.4 L1214.7 451.8 L1215.5 452 L1216.3 451.5 L1217.1 450.6 L1217.9 451.2 L1218.7 450.1 L1219.5 450.6 L1220.3 450.1 L1221.1 449.9 L1221.9 448.8 L1222.7 447.1 L1223.5 448.8 L1224.3 448 L1225.1 447.2 L1225.9 447.3 L1226.7 446.4 L1227.5 446.1 L1228.3 446.3 L1229.1 445.5 L1229.9 445.4 L1230.7 444.6 L1231.5 443.4 L1232.3 443 L1233.1 441.9 L1233.9 442.8 L1234.7 442 L1235.5 441.6 L1236.3 440.9 L1237.1 439.9 L1237.9 439.6 L1238.7 438.1 L1239.5 438.2 L1240.3 437.4 L1241.1 436.6 L1241.9 436.6 L1242.7 435.9 L1243.5 435.1 L1244.3 432.9 L1245.1 434 L1245.9 432.9 L1246.7 431.7 L1247.5 431.9 L1248.3 432 L1249.1 430.6 L1249.9 431.1 L1250.7 431 L1251.5 430.1 L1252.3 429.5 L1253.1 429.9 L1253.9 428.9 L1254.7 428.8 L1255.5 429.3 L1256.3 428.8 L1257.1 427.8 L1257.9 428.8 L1258.7 427.6 L1259.5 427.3 L1260.3 427.4 L1261.1 428.3 L1261.9 427.7 L1262.7 427.3 L1263.5 427.9 L1264.3 427.7 L1265.1 427.3 L1265.9 427.9 L1266.7 427.6 L1267.5 427.4 L1268.3 427.6 L1269.1 427 L1269.9 427 L1270.7 427.1 L1271.5 427.6 L1272.3 427.8 L1273.1 427.2 L1273.9 427.8 L1274.7 428 L1275.5 427.8 L1276.3 427.5 L1277.1 428.1 L1277.9 429.3 L1278.7 428.2 L1279.5 428.8 L1280.3 429.7 L1281.1 428.9 L1281.9 429.4 L1282.7 429.4 L1283.5 429.6 L1284.3 430.4 L1285.1 430.4 L1285.9 430.4 L1286.7 431.4 L1287.5 430.2 L1288.3 431.3 L1289.1 431.1 L1289.9 430.5 L1290.7 430.8 L1291.5 432.3 L1292.3 432 L1293.1 431.8 L1293.9 433 L1294.7 431.4 L1295.5 432.6 L1296.3 433.3 L1297.1 431.7 L1297.9 432 L1298.7 433.3 L1299.5 431.7 L1300.3 431.1 L1301.1 433.1 L1301.9 431.2 L1302.7 432.4 L1303.5 431.6 L1304.3 430.1 L1305.1 430.2 L1305.9 427.8 L1306.7 429.4 L1307.5 429.5 L1308.3 425.6 L1309.1 424.4 L1309.9 425.8 L1310.7 423.1 L1311.5 422.2 L1312.3 422 L1313.1 420.5 L1313.9 422.9 L1314.7 418.9 L1315.5 414.9 L1316.3 420.2 L1317.1 418.1 L1317.9 415.4 L1318.7 416.9 L1319.5 418.4 L1320.3 416.4 L1321.1 415.7 L1321.9 403.9 L1322.7 410.1 L1323.5 411.7 L1324.3 412.8 L1325.1 408.7 L1325.9 411.8 L1326.7 411.4 L1327.5 406 L1328.3 406.8 L1329.1 405.3 L1329.9 407.1 L1330.7 402.6 L1331.5 400.4 L1332.3 396.1 L1333.1 402.9 L1333.9 397.2 L1334.7 396.6 L1335.5 394.2 L1336.3 391 L1337.1 393.3 L1337.9 391.9 L1338.7 391.7 L1339.5 388 L1340.3 376 L1340.3 421.3 L1339.5 419.3 L1338.7 422.8 L1337.9 420.5 L1337.1 415.1 L1336.3 419.3 L1335.5 417.6 L1334.7 419.6 L1333.9 419.7 L1333.1 417.6 L1332.3 422 L1331.5 420.1 L1330.7 424.3 L1329.9 427.7 L1329.1 421.8 L1328.3 424 L1327.5 428.2 L1326.7 438.6 L1325.9 427.5 L1325.1 426.5 L1324.3 427.5 L1323.5 429.9 L1322.7 432.7 L1321.9 431.7 L1321.1 431 L1320.3 429.9 L1319.5 432.4 L1318.7 429.6 L1317.9 429.6 L1317.1 433.2 L1316.3 430.2 L1315.5 431.6 L1314.7 435.5 L1313.9 433 L1313.1 434.3 L1312.3 433.6 L1311.5 436.8 L1310.7 436.3 L1309.9 437 L1309.1 438.2 L1308.3 436.3 L1307.5 436.1 L1306.7 440 L1305.9 438.5 L1305.1 441.2 L1304.3 440.3 L1303.5 440.1 L1302.7 441.3 L1301.9 440.1 L1301.1 440 L1300.3 440.4 L1299.5 438.3 L1298.7 440.3 L1297.9 440.5 L1297.1 439.6 L1296.3 440.1 L1295.5 439.2 L1294.7 440.6 L1293.9 437.4 L1293.1 438.7 L1292.3 438.3 L1291.5 436.9 L1290.7 438.3 L1289.9 436.4 L1289.1 437 L1288.3 436.5 L1287.5 436.7 L1286.7 435.6 L1285.9 436 L1285.1 434.6 L1284.3 433.9 L1283.5 434.1 L1282.7 433.6 L1281.9 433.9 L1281.1 433.4 L1280.3 433.8 L1279.5 433.8 L1278.7 432.4 L1277.9 432.4 L1277.1 433.1 L1276.3 431.8 L1275.5 431.6 L1274.7 432.3 L1273.9 431.3 L1273.1 431.4 L1272.3 431.6 L1271.5 431.1 L1270.7 430.7 L1269.9 430.8 L1269.1 430.6 L1268.3 431.4 L1267.5 433 L1266.7 430.9 L1265.9 430.7 L1265.1 430.3 L1264.3 431.3 L1263.5 430.3 L1262.7 431.2 L1261.9 431.3 L1261.1 431.7 L1260.3 431.5 L1259.5 431 L1258.7 430.9 L1257.9 431.8 L1257.1 431.3 L1256.3 431.8 L1255.5 432.2 L1254.7 431.9 L1253.9 432.1 L1253.1 432.2 L1252.3 432.6 L1251.5 433.4 L1250.7 434.3 L1249.9 433.7 L1249.1 435 L1248.3 434.2 L1247.5 435.1 L1246.7 435.3 L1245.9 436.4 L1245.1 436.8 L1244.3 436.9 L1243.5 437.8 L1242.7 438.2 L1241.9 439.1 L1241.1 439.8 L1240.3 440.9 L1239.5 441 L1238.7 442.4 L1237.9 442.3 L1237.1 444.6 L1236.3 443.7 L1235.5 445 L1234.7 445.6 L1233.9 446.3 L1233.1 445.6 L1232.3 445.9 L1231.5 447.6 L1230.7 447.9 L1229.9 448.1 L1229.1 449.3 L1228.3 449.2 L1227.5 449.5 L1226.7 450.3 L1225.9 451.4 L1225.1 451 L1224.3 451.7 L1223.5 452.3 L1222.7 453 L1221.9 452.8 L1221.1 453.4 L1220.3 453.5 L1219.5 453.4 L1218.7 454.6 L1217.9 454 L1217.1 455.3 L1216.3 455 L1215.5 454.4 L1214.7 455.8 L1213.9 455.4 L1213.1 455.4 L1212.3 457.5 L1211.5 455.9 L1210.7 455.7 L1209.9 455.7 L1209.1 456.5 L1208.3 456.2 L1207.5 456.4 L1206.7 456.7 L1205.9 456.4 L1205.1 456.7 L1204.3 456.6 L1203.5 455.7 L1202.7 457.8 L1201.9 455.4 L1201.1 454.8 L1200.3 454.5 L1199.5 454 L1198.7 453.3 L1197.9 452.9 L1197.1 452.1 L1196.3 452.1 L1195.5 452.8 L1194.7 450.7 L1193.9 449.1 L1193.1 448.3 L1192.3 447 L1191.5 446.7 L1190.7 446.2 L1189.9 444.7 L1189.1 444.2 L1188.3 444 L1187.5 443 L1186.7 443.9 L1185.9 444.3 L1185.1 443.4 L1184.3 443 L1183.5 443.9 L1182.7 443.9 L1181.9 443.2 L1181.1 443.3 L1180.3 443.7 L1179.5 443.5 L1178.7 444.1 L1177.9 443.8 L1177.1 443.9 L1176.3 444.9 L1175.5 444.9 L1174.7 445.9 L1173.9 445.3 L1173.1 444.6 L1172.3 444.6 L1171.5 445.1 L1170.7 445.2 L1169.9 444.9 L1169.1 446.7 L1168.3 445.1 L1167.5 444.9 L1166.7 444.5 L1165.9 445.8 L1165.1 444.4 L1164.3 445.1 L1163.5 444.9 L1162.7 445.3 L1161.9 446.7 L1161.1 447.1 L1160.3 446.6 L1159.5 447.7 L1158.7 448.2 L1157.9 448.5 L1157.1 449.7 L1156.3 450.6 L1155.5 451 L1154.7 451.2 L1153.9 453.2 L1153.1 455.1 L1152.3 454.9 L1151.5 455.8 L1150.7 457.7 L1149.9 458.3 L1149.1 460.5 L1148.3 462.1 L1147.5 464.4 L1146.7 465.4 L1145.9 467.8 L1145.1 469.1 L1144.3 469.9 L1143.5 471.7 L1142.7 473 L1141.9 474.9 L1141.1 477.6 L1140.3 479.7 L1139.5 480.5 L1138.7 482.4 L1137.9 484.1 L1137.1 486.9 L1136.3 488.6 L1135.5 490.2 L1134.7 491.3 L1133.9 493.4 L1133.1 494.7 L1132.3 497.1 L1131.5 498.5 L1130.7 500.7 L1129.9 503.1 L1129.1 504.6 L1128.3 505.7 L1127.5 507.4 L1126.7 509.3 L1125.9 511.3 L1125.1 512.9 L1124.3 514 L1123.5 515.5 L1122.7 516.7 L1121.9 518 L1121.1 517.2 L1120.3 517.1 L1119.5 517.7 L1118.7 517.7 L1117.9 518 L1117.1 519 L1116.3 518.1 L1115.5 518.9 L1114.7 517.8 L1113.9 517.6 L1113.1 518.2 L1112.3 517.1 L1111.5 516.5 L1110.7 516.5 L1109.9 516 L1109.1 515.5 L1108.3 515.9 L1107.5 515.4 L1106.7 514.4 L1105.9 513.9 L1105.1 514.1 L1104.3 514.2 L1103.5 513.9 L1102.7 514.3 L1101.9 513.7 L1101.1 513.6 L1100.3 514.7 L1099.5 514.4 L1098.7 513.7 L1097.9 514.8 L1097.1 514.1 L1096.3 515.5 L1095.5 515.5 L1094.7 515.2 L1093.9 516.3 L1093.1 515.8 L1092.3 517.1 L1091.5 517.7 L1090.7 518.2 L1089.9 518 L1089.1 519.1 L1088.3 519.2 L1087.5 519.9 L1086.7 519.6 L1085.9 520.4 L1085.1 520.8 L1084.3 521.3 L1083.5 520.4 L1082.7 521.7 L1081.9 521.5 L1081.1 521.6 L1080.3 522.3 L1079.5 522.8 L1078.7 524.4 L1077.9 524.2 L1077.1 525.1 L1076.3 526.6 L1075.5 526.4 L1074.7 527.7 L1073.9 528.2 L1073.1 528.9 L1072.3 528.7 L1071.5 530 L1070.7 530.8 L1069.9 533.9 L1069.1 531.6 L1068.3 534 L1067.5 534.1 L1066.7 535.8 L1065.9 536 L1065.1 537.3 L1064.3 538.8 L1063.5 538.4 L1062.7 541.3 L1061.9 540.6 L1061.1 543.1 L1060.3 546 L1059.5 546.2 L1058.7 548.1 L1057.9 551.7 L1057.1 555.1 L1056.3 564.6 L1055.5 556.6 L1054.7 563.8 L1053.9 562.7 L1053.1 563.5 L1052.3 566.8 L1051.5 576 L1050.7 577.3 L1049.9 593.4 L1049.1 579.3 L1048.3 607.8 L1047.5 617.2 Z" fill="#f020e0" stroke="#f020e0" stroke-width="1.7" stroke-linejoin="round"/>
<path d="M1050.3 520 L1050.8 440 L1051.6 407 L1052.6 450 L1053.2 520 Z" fill="#f020e0"/>
<path d="M1047.5 574.1 L1048.3 571.4 L1049.1 570.4 L1049.9 567.7 L1050.7 566.2 L1051.5 564.3 L1052.3 562.4 L1053.1 561 L1053.9 559.3 L1054.7 558 L1055.5 556.5 L1056.3 554.3 L1057.1 552.3 L1057.9 552 L1058.7 549.8 L1059.5 549 L1060.3 547.3 L1061.1 546.1 L1061.9 544.6 L1062.7 543.6 L1063.5 542.7 L1064.3 542.1 L1065.1 541.2 L1065.9 540.2 L1066.7 539.2 L1067.5 538.2 L1068.3 537.3 L1069.1 535.3 L1069.9 533.5 L1070.7 534.2 L1071.5 533.8 L1072.3 532.9 L1073.1 531.9 L1073.9 531.4 L1074.7 532 L1075.5 530.6 L1076.3 530.8 L1077.1 529.4 L1077.9 529 L1078.7 528.3 L1079.5 528.7 L1080.3 527.5 L1081.1 527 L1081.9 525.3 L1082.7 526.7 L1083.5 526.1 L1084.3 524.2 L1085.1 526.1 L1085.9 525.7 L1086.7 526 L1087.5 525.6 L1088.3 525.7 L1089.1 525.8 L1089.9 525.4 L1090.7 524.8 L1091.5 523.3 L1092.3 522.6 L1093.1 522.5 L1093.9 521.5 L1094.7 521.5 L1095.5 521.1 L1096.3 520.4 L1097.1 519.9 L1097.9 519.5 L1098.7 519.2 L1099.5 519.7 L1100.3 519.1 L1101.1 519.3 L1101.9 519.1 L1102.7 518.6 L1103.5 519.6 L1104.3 519.6 L1105.1 519.4 L1105.9 519.9 L1106.7 519.8 L1107.5 520.5 L1108.3 520.6 L1109.1 520.8 L1109.9 519.1 L1110.7 520.5 L1111.5 520.6 L1112.3 521.4 L1113.1 520.9 L1113.9 521.6 L1114.7 521.9 L1115.5 521.6 L1116.3 521.6 L1117.1 520.9 L1117.9 521.3 L1118.7 521.3 L1119.5 519.9 L1120.3 520.2 L1121.1 519.1 L1121.9 517.9 L1122.7 517.9 L1123.5 517.3 L1124.3 516.3 L1125.1 516.4 L1125.9 515.2 L1126.7 514.5 L1127.5 513.1 L1128.3 512.6 L1129.1 513.1 L1129.9 512.3 L1130.7 511.3 L1131.5 510.5 L1132.3 510.5 L1133.1 509.8 L1133.9 508.8 L1134.7 508.3 L1135.5 508.3 L1136.3 507.5 L1137.1 507.7 L1137.9 507.5 L1138.7 506.9 L1139.5 506.5 L1140.3 505.6 L1141.1 505.2 L1141.9 505.2 L1142.7 504.8 L1143.5 504.4 L1144.3 504.3 L1145.1 503.9 L1145.9 503.3 L1146.7 503.6 L1147.5 503.1 L1148.3 501.4 L1149.1 502.8 L1149.9 501 L1150.7 501.6 L1151.5 501.9 L1152.3 501.1 L1153.1 500.1 L1153.9 500.5 L1154.7 498.7 L1155.5 499.9 L1156.3 499.9 L1157.1 498.5 L1157.9 499 L1158.7 498.7 L1159.5 498 L1160.3 498.2 L1161.1 499.2 L1161.9 499.4 L1162.7 501.3 L1163.5 499.7 L1164.3 502.3 L1165.1 503.3 L1165.9 503.5 L1166.7 504.6 L1167.5 504 L1168.3 506.8 L1169.1 507 L1169.9 507.9 L1170.7 508.2 L1171.5 509.5 L1172.3 510.2 L1173.1 510.4 L1173.9 511.2 L1174.7 511.2 L1175.5 511.9 L1176.3 512.6 L1177.1 512.7 L1177.9 513.1 L1178.7 512.8 L1179.5 513.3 L1180.3 513.9 L1181.1 514.4 L1181.9 514 L1182.7 514 L1183.5 514.4 L1184.3 514.6 L1185.1 516 L1185.9 516.5 L1186.7 517 L1187.5 517.6 L1188.3 517.8 L1189.1 518.3 L1189.9 518.7 L1190.7 519.8 L1191.5 520.7 L1192.3 519.9 L1193.1 522.5 L1193.9 521.9 L1194.7 523.5 L1195.5 524.2 L1196.3 524.4 L1197.1 525.7 L1197.9 526.5 L1198.7 526.8 L1199.5 527.3 L1200.3 527.8 L1201.1 528.3 L1201.9 528.4 L1202.7 529 L1203.5 528.7 L1204.3 529.3 L1205.1 529.6 L1205.9 530 L1206.7 530.5 L1207.5 530.4 L1208.3 531 L1209.1 531 L1209.9 531.2 L1210.7 530.6 L1211.5 531.1 L1212.3 530.8 L1213.1 530.7 L1213.9 531 L1214.7 531.4 L1215.5 530.7 L1216.3 530.7 L1217.1 530.8 L1217.9 529.8 L1218.7 530.5 L1219.5 530.7 L1220.3 530.4 L1221.1 528.2 L1221.9 529.8 L1222.7 530.4 L1223.5 530.2 L1224.3 528.9 L1225.1 528.5 L1225.9 527.4 L1226.7 528.2 L1227.5 528.2 L1228.3 527.4 L1229.1 527.8 L1229.9 527.4 L1230.7 526.8 L1231.5 527.1 L1232.3 525.7 L1233.1 526.4 L1233.9 525.5 L1234.7 525.6 L1235.5 524.9 L1236.3 524.8 L1237.1 524.2 L1237.9 524.6 L1238.7 524.2 L1239.5 522.6 L1240.3 523.1 L1241.1 523.3 L1241.9 522.6 L1242.7 522.9 L1243.5 522.6 L1244.3 522.5 L1245.1 522.4 L1245.9 521.9 L1246.7 521.1 L1247.5 521.3 L1248.3 521.3 L1249.1 520.5 L1249.9 519.5 L1250.7 520.3 L1251.5 518.2 L1252.3 519.7 L1253.1 520.2 L1253.9 520 L1254.7 518.9 L1255.5 517.6 L1256.3 518.1 L1257.1 518.2 L1257.9 517.7 L1258.7 517 L1259.5 517.7 L1260.3 517.3 L1261.1 516.8 L1261.9 516.3 L1262.7 515.8 L1263.5 516.1 L1264.3 515.6 L1265.1 516 L1265.9 516.2 L1266.7 515.6 L1267.5 515.5 L1268.3 514.9 L1269.1 514.8 L1269.9 515.6 L1270.7 515.6 L1271.5 515.2 L1272.3 515.6 L1273.1 515.4 L1273.9 515.2 L1274.7 515.5 L1275.5 514.8 L1276.3 513.7 L1277.1 514.8 L1277.9 514.9 L1278.7 515.4 L1279.5 515.2 L1280.3 515.5 L1281.1 515.7 L1281.9 514.3 L1282.7 514.4 L1283.5 514.2 L1284.3 515.1 L1285.1 514.5 L1285.9 513.7 L1286.7 514.5 L1287.5 513.6 L1288.3 513.3 L1289.1 514.9 L1289.9 514.1 L1290.7 513.3 L1291.5 513.6 L1292.3 513.5 L1293.1 513.4 L1293.9 513.4 L1294.7 513.8 L1295.5 512 L1296.3 511.6 L1297.1 513.5 L1297.9 511.6 L1298.7 512.2 L1299.5 513.4 L1300.3 513 L1301.1 511.5 L1301.9 512.1 L1302.7 511 L1303.5 510.9 L1304.3 508.5 L1305.1 509.6 L1305.9 509.9 L1306.7 507.7 L1307.5 507.1 L1308.3 507.7 L1309.1 509.4 L1309.9 506.3 L1310.7 507.5 L1311.5 505.9 L1312.3 505.8 L1313.1 505.9 L1313.9 505.1 L1314.7 504.6 L1315.5 505.5 L1316.3 505.1 L1317.1 506.6 L1317.9 501.2 L1318.7 501.7 L1319.5 505.1 L1320.3 501.8 L1321.1 500.3 L1321.9 504.1 L1322.7 500.2 L1323.5 500.3 L1324.3 497.8 L1325.1 501.1 L1325.9 498 L1326.7 496.9 L1327.5 499.9 L1328.3 500.7 L1329.1 499.2 L1329.9 497 L1330.7 490.9 L1331.5 494.4 L1332.3 498.4 L1333.1 488.5 L1333.9 497.5 L1334.7 495.4 L1335.5 491.6 L1336.3 495 L1337.1 493.2 L1337.9 495.5 L1338.7 494.2 L1339.5 498.1 L1340.3 493 L1340.3 517.8 L1339.5 523 L1338.7 520.9 L1337.9 523.8 L1337.1 521.4 L1336.3 520.1 L1335.5 521.6 L1334.7 516 L1333.9 530.9 L1333.1 518.9 L1332.3 514.6 L1331.5 520.1 L1330.7 520.4 L1329.9 521.3 L1329.1 514.1 L1328.3 514.9 L1327.5 520 L1326.7 517.4 L1325.9 513.8 L1325.1 519.8 L1324.3 518 L1323.5 518.8 L1322.7 516.9 L1321.9 516.7 L1321.1 524.6 L1320.3 516.8 L1319.5 516.2 L1318.7 517.2 L1317.9 519.2 L1317.1 516.3 L1316.3 519.7 L1315.5 517.1 L1314.7 516.8 L1313.9 515.6 L1313.1 516.1 L1312.3 517.4 L1311.5 516.1 L1310.7 519 L1309.9 517.4 L1309.1 516.6 L1308.3 518.7 L1307.5 518.7 L1306.7 518.4 L1305.9 517 L1305.1 518.2 L1304.3 517.4 L1303.5 518.8 L1302.7 518.6 L1301.9 518.3 L1301.1 519.1 L1300.3 519.8 L1299.5 518.1 L1298.7 518.8 L1297.9 517.8 L1297.1 518.6 L1296.3 519.4 L1295.5 518 L1294.7 517.4 L1293.9 519.8 L1293.1 519.4 L1292.3 518.4 L1291.5 517.6 L1290.7 518.2 L1289.9 518.5 L1289.1 518.4 L1288.3 518.6 L1287.5 519 L1286.7 519.3 L1285.9 520.4 L1285.1 519.1 L1284.3 518.8 L1283.5 519.3 L1282.7 518.6 L1281.9 518.8 L1281.1 519.2 L1280.3 518.1 L1279.5 518.7 L1278.7 518.1 L1277.9 518.7 L1277.1 518 L1276.3 519 L1275.5 517.9 L1274.7 517.8 L1273.9 517.7 L1273.1 518.1 L1272.3 519.1 L1271.5 518.6 L1270.7 519.6 L1269.9 518.2 L1269.1 518.5 L1268.3 518.6 L1267.5 518.3 L1266.7 519 L1265.9 518.9 L1265.1 518.9 L1264.3 519.3 L1263.5 518.9 L1262.7 519.2 L1261.9 519.7 L1261.1 519.9 L1260.3 520.3 L1259.5 520.5 L1258.7 520.2 L1257.9 520.6 L1257.1 521.2 L1256.3 521 L1255.5 522 L1254.7 522.1 L1253.9 522.7 L1253.1 522.9 L1252.3 522.8 L1251.5 523.7 L1250.7 523.9 L1249.9 523.6 L1249.1 523.9 L1248.3 524.2 L1247.5 523.7 L1246.7 524.3 L1245.9 524.8 L1245.1 525 L1244.3 525.6 L1243.5 525.8 L1242.7 525.4 L1241.9 526.2 L1241.1 526.6 L1240.3 526.5 L1239.5 527.3 L1238.7 527.8 L1237.9 528.1 L1237.1 527.5 L1236.3 527.6 L1235.5 528.1 L1234.7 529.1 L1233.9 528.6 L1233.1 528.6 L1232.3 529.6 L1231.5 529.1 L1230.7 530.3 L1229.9 530 L1229.1 530.6 L1228.3 531.1 L1227.5 530.9 L1226.7 531.1 L1225.9 531.7 L1225.1 532.2 L1224.3 532.9 L1223.5 532.7 L1222.7 532.6 L1221.9 533.7 L1221.1 533.9 L1220.3 534.1 L1219.5 533.8 L1218.7 533.2 L1217.9 534.2 L1217.1 533.9 L1216.3 534.3 L1215.5 533.7 L1214.7 534.1 L1213.9 534.5 L1213.1 533.6 L1212.3 534.2 L1211.5 534 L1210.7 533.5 L1209.9 533.8 L1209.1 533.9 L1208.3 534 L1207.5 533.5 L1206.7 532.5 L1205.9 533.3 L1205.1 532 L1204.3 532.6 L1203.5 532.6 L1202.7 531.6 L1201.9 533.1 L1201.1 531.5 L1200.3 530.8 L1199.5 530.1 L1198.7 530.4 L1197.9 529.2 L1197.1 528.8 L1196.3 527.7 L1195.5 526.8 L1194.7 526.7 L1193.9 526.1 L1193.1 525.2 L1192.3 524.6 L1191.5 522.9 L1190.7 522.4 L1189.9 522.5 L1189.1 521.3 L1188.3 520.3 L1187.5 521 L1186.7 521.4 L1185.9 519.5 L1185.1 519 L1184.3 518.4 L1183.5 517.4 L1182.7 517.1 L1181.9 518.8 L1181.1 517.6 L1180.3 517.1 L1179.5 517.2 L1178.7 517.3 L1177.9 515.9 L1177.1 515.4 L1176.3 515.5 L1175.5 515.3 L1174.7 514.9 L1173.9 514.6 L1173.1 512.9 L1172.3 512.6 L1171.5 512.3 L1170.7 511 L1169.9 510.9 L1169.1 510.4 L1168.3 509.8 L1167.5 508.9 L1166.7 508.1 L1165.9 507 L1165.1 505.7 L1164.3 505.2 L1163.5 504.7 L1162.7 503.9 L1161.9 502.8 L1161.1 502.7 L1160.3 503.5 L1159.5 501.4 L1158.7 501.3 L1157.9 501.2 L1157.1 502.4 L1156.3 502.4 L1155.5 503 L1154.7 503.4 L1153.9 503.2 L1153.1 503.9 L1152.3 504.4 L1151.5 505 L1150.7 505.2 L1149.9 505.6 L1149.1 506 L1148.3 506.3 L1147.5 506.1 L1146.7 506.7 L1145.9 507.2 L1145.1 506.9 L1144.3 507.4 L1143.5 507.4 L1142.7 507.7 L1141.9 509 L1141.1 509 L1140.3 508.8 L1139.5 509.7 L1138.7 510.3 L1137.9 510.9 L1137.1 510.6 L1136.3 511.1 L1135.5 511.7 L1134.7 511.9 L1133.9 512.7 L1133.1 512.8 L1132.3 513.7 L1131.5 513.9 L1130.7 514.4 L1129.9 514.5 L1129.1 515.6 L1128.3 516.6 L1127.5 516.8 L1126.7 518.8 L1125.9 518.3 L1125.1 518.9 L1124.3 519.4 L1123.5 521.2 L1122.7 520.8 L1121.9 521.9 L1121.1 521.9 L1120.3 522.5 L1119.5 523.9 L1118.7 523.6 L1117.9 523.9 L1117.1 524.9 L1116.3 524.4 L1115.5 525.1 L1114.7 524.9 L1113.9 524.6 L1113.1 524.8 L1112.3 523.7 L1111.5 524.6 L1110.7 524.2 L1109.9 524.1 L1109.1 524.3 L1108.3 524 L1107.5 523.8 L1106.7 523.1 L1105.9 522.4 L1105.1 522.6 L1104.3 522 L1103.5 523 L1102.7 522.1 L1101.9 522.5 L1101.1 521.9 L1100.3 522.3 L1099.5 522.3 L1098.7 523 L1097.9 523.2 L1097.1 523 L1096.3 523.8 L1095.5 525.7 L1094.7 524.1 L1093.9 524.9 L1093.1 526.1 L1092.3 526.7 L1091.5 526.9 L1090.7 526.9 L1089.9 527.9 L1089.1 527.9 L1088.3 528.5 L1087.5 528.4 L1086.7 529 L1085.9 528.8 L1085.1 529 L1084.3 528.6 L1083.5 529.7 L1082.7 529.6 L1081.9 529.6 L1081.1 530.4 L1080.3 530.4 L1079.5 531.4 L1078.7 532.8 L1077.9 532.6 L1077.1 532.5 L1076.3 533.8 L1075.5 534.1 L1074.7 534.6 L1073.9 535.3 L1073.1 536.7 L1072.3 536.9 L1071.5 536.5 L1070.7 536.5 L1069.9 538.5 L1069.1 538.9 L1068.3 539.9 L1067.5 540.4 L1066.7 541.8 L1065.9 542.6 L1065.1 543.7 L1064.3 544.7 L1063.5 545.8 L1062.7 548.3 L1061.9 548.1 L1061.1 549.4 L1060.3 550.6 L1059.5 552.3 L1058.7 553.8 L1057.9 554.5 L1057.1 555.9 L1056.3 558.1 L1055.5 558.8 L1054.7 560.5 L1053.9 562.7 L1053.1 565.8 L1052.3 565.4 L1051.5 567.6 L1050.7 568.9 L1049.9 571.5 L1049.1 573.4 L1048.3 575.4 L1047.5 577.1 Z" fill="#0a7a1c" stroke="#0a7a1c" stroke-width="1.7" stroke-linejoin="round"/>
<path d="M1047.5 484 L1048.2 486.9 L1048.9 492.1 L1049.6 494.7 L1050.3 495.4 L1051 496.7 L1051.7 496.8 L1052.4 495.4 L1053.1 494.2 L1053.8 492.3 L1054.5 489.8 L1055.2 475.6 L1055.9 489.1 L1056.6 489.5 L1057.3 498.3 L1058 502.6 L1058.7 494.6 L1059.4 499.4 L1060.1 508.5 L1060.8 500.1 L1061.5 510.4 L1062.2 509 L1062.9 503.3 L1063.6 512.2 L1064.3 512.7 L1065 515 L1065.7 507.4 L1066.4 517.4 L1067.1 517.1 L1067.8 518.3 L1068.5 514.6 L1069.2 519.8 L1069.9 513.9 L1070.6 519.9 L1071.3 519.1 L1072 519.3 L1072.7 523.3 L1073.4 522.7 L1074.1 521 L1074.8 522.1 L1075.5 523.5 L1076.2 525.3 L1076.9 522.1 L1077.6 522.3 L1078.3 524.5 L1079 524.8 L1079.7 524.4 L1080.4 521.7 L1081.1 523.9 L1081.8 522.9 L1082.5 522.5 L1083.2 523.8 L1083.9 523.8 L1084.6 525.3 L1085.3 523.2 L1086 524.5 L1086.7 522.6 L1087.4 523.5 L1088.1 523.5 L1088.8 524.5 L1089.5 522.3 L1090.2 521 L1090.9 521.3 L1091.6 521.8 L1091.6 533 L1090.9 533.5 L1090.2 530.9 L1089.5 533.6 L1088.8 532.8 L1088.1 535.3 L1087.4 533.2 L1086.7 534.5 L1086 536.5 L1085.3 535.3 L1084.6 539.2 L1083.9 537.5 L1083.2 537.6 L1082.5 541.7 L1081.8 541.5 L1081.1 540.3 L1080.4 544.6 L1079.7 541.6 L1079 546.9 L1078.3 546.2 L1077.6 549.9 L1076.9 551.3 L1076.2 551 L1075.5 552.1 L1074.8 552 L1074.1 552.5 L1073.4 556.5 L1072.7 558.1 L1072 558 L1071.3 560.7 L1070.6 560.4 L1069.9 562.2 L1069.2 561 L1068.5 563.1 L1067.8 566.1 L1067.1 566 L1066.4 573.3 L1065.7 583.8 L1065 596.2 L1064.3 602.6 L1063.6 608.4 L1062.9 612.1 L1062.2 622.6 L1061.5 620.5 L1060.8 623.3 L1060.1 629.3 L1059.4 630.5 L1058.7 628.4 L1058 631.4 L1057.3 632.3 L1056.6 637.4 L1055.9 635.4 L1055.2 640 L1054.5 637.1 L1053.8 636.3 L1053.1 642.9 L1052.4 639.1 L1051.7 638.5 L1051 647.2 L1050.3 645.7 L1049.6 641 L1048.9 647.6 L1048.2 648.4 L1047.5 648.5 Z" fill="#0a7a1c"/>
<path d="M1063.5 594 L1064.2 570 L1065 594 Z" fill="#5a10d0"/>
<path d="M1065.5 594 L1066.5 575 L1067.5 560 L1068 580 L1067 594 Z" fill="#e020c8"/>
</g>
<g stroke="#1a1a1a" stroke-width="1.6" fill="none" stroke-linecap="butt">
<rect x="1047.5" y="301.4" width="293.3" height="292.6"/>
<path d="M1047.5 594 v10.8 M1047.5 301.4 v-10.8 M1145.3 594 v10.8 M1145.3 301.4 v-10.8 M1243 594 v10.8 M1243 301.4 v-10.8 M1340.8 594 v10.8 M1340.8 301.4 v-10.8 M1096.4 594 v6 M1096.4 301.4 v-6 M1194.2 594 v6 M1194.2 301.4 v-6 M1291.9 594 v6 M1291.9 301.4 v-6 M1047.5 594 h-10.8 M1047.5 510.4 h-10.8 M1047.5 426.8 h-10.8 M1047.5 343.2 h-10.8 M1340.8 301.4 h10.8 M1340.8 359.9 h10.8 M1340.8 418.4 h10.8 M1340.8 477 h10.8 M1340.8 535.5 h10.8 M1340.8 594 h10.8 M1047.5 552.2 h-6 M1047.5 468.6 h-6 M1047.5 385 h-6 M1047.5 301.4 h-6 M1340.8 330.7 h6 M1340.8 389.2 h6 M1340.8 447.7 h6 M1340.8 506.2 h6 M1340.8 564.7 h6"/>
</g>
<text x="1030.3" y="602" font-size="23.9" text-anchor="end" fill="#111" >2</text>
<text x="1030.3" y="518.4" font-size="23.9" text-anchor="end" fill="#111" >4</text>
<text x="1030.3" y="434.8" font-size="23.9" text-anchor="end" fill="#111" >6</text>
<text x="1030.3" y="351.2" font-size="23.9" text-anchor="end" fill="#111" >8</text>
<text x="1047.5" y="631" font-size="23.9" text-anchor="middle" fill="#111" >400</text>
<text x="1145.3" y="631" font-size="23.9" text-anchor="middle" fill="#111" >600</text>
<text x="1243" y="631" font-size="23.9" text-anchor="middle" fill="#111" >800</text>
<text x="1340.8" y="631" font-size="23.9" text-anchor="middle" fill="#111" >1000</text>
<text x="1194.6" y="660.4" font-size="24.3" text-anchor="middle" fill="#111" >Wavelength (nm)</text>
<text transform="translate(1003.6 463.5) rotate(-90)" font-size="24" text-anchor="middle" fill="#111">% Transmission</text>
<text x="1115.8" y="582.6" font-size="29.8" text-anchor="start" fill="#111" >Lithium Insertion</text>
<path d="M1048.3 313.3 H1093.6" stroke="#050505" stroke-width="2.1"/>
<text x="1099.2" y="320.1" font-size="19.8" text-anchor="start" fill="#111" >3.0 V</text>
<path d="M1048.3 337.7 H1093.6" stroke="#d81818" stroke-width="2.1"/>
<text x="1099.2" y="344.5" font-size="19.8" text-anchor="start" fill="#111" >2.5 V</text>
<path d="M1048.3 362.1 H1093.6" stroke="#1010c8" stroke-width="2.1"/>
<text x="1099.2" y="368.9" font-size="19.8" text-anchor="start" fill="#111" >2.0 V</text>
<path d="M1048.3 386.5 H1093.6" stroke="#e020d0" stroke-width="2.1"/>
<text x="1099.2" y="393.3" font-size="19.8" text-anchor="start" fill="#111" >1.5 V</text>
<path d="M1048.3 410.9 H1093.6" stroke="#0a7a1c" stroke-width="2.1"/>
<text x="1099.2" y="417.7" font-size="19.8" text-anchor="start" fill="#111" >1.0 V</text>
</svg>
</body></html>
